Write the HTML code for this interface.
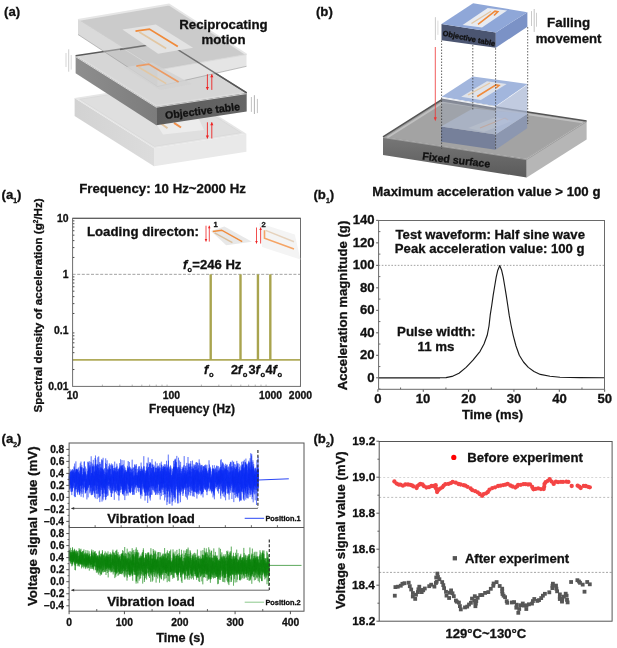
<!DOCTYPE html>
<html><head><meta charset="utf-8"><style>
html,body{margin:0;padding:0;background:#fff;}
svg{will-change:transform;display:block;font-family:"Liberation Sans", sans-serif;font-weight:bold;}
text{stroke:#111;stroke-width:0.3px;}
</style></head><body>
<svg width="617" height="648" viewBox="0 0 617 648">
<rect width="617" height="648" fill="#fff"/>
<text x="4.05" y="15.60" font-size="13.20" fill="#111" >(a)</text>
<text x="315.95" y="15.60" font-size="13.20" fill="#111" >(b)</text>
<text x="1.55" y="199.40" font-size="13.20" fill="#111" >(a<tspan font-size="6.86" dy="3.2">1</tspan><tspan dy="-3.2">)</tspan></text>
<text x="313.45" y="199.40" font-size="13.20" fill="#111" >(b<tspan font-size="6.86" dy="3.2">1</tspan><tspan dy="-3.2">)</tspan></text>
<text x="1.55" y="443.40" font-size="13.20" fill="#111" >(a<tspan font-size="6.86" dy="3.2">2</tspan><tspan dy="-3.2">)</tspan></text>
<text x="313.45" y="443.40" font-size="13.20" fill="#111" >(b<tspan font-size="6.86" dy="3.2">2</tspan><tspan dy="-3.2">)</tspan></text>
<text x="79.23" y="192.80" font-size="13.24" fill="#111" >Frequency: 10 Hz~2000 Hz</text>
<text x="372.33" y="196.40" font-size="13.22" fill="#111" >Maximum acceleration value &gt; 100 g</text>
<defs><linearGradient id="gMidL" x1="0" y1="0" x2="1" y2="0"><stop offset="0" stop-color="#8e8e8e"/><stop offset="1" stop-color="#7c7c7c"/></linearGradient><linearGradient id="gMidR" x1="0" y1="0" x2="1" y2="0"><stop offset="0" stop-color="#5c5c5c"/><stop offset="1" stop-color="#666"/></linearGradient><linearGradient id="gBotL" x1="0" y1="0" x2="1" y2="0"><stop offset="0" stop-color="#d2d2d2"/><stop offset="1" stop-color="#dcdcdc"/></linearGradient><linearGradient id="gPlF" x1="0" y1="0" x2="0" y2="1"><stop offset="0" stop-color="#777"/><stop offset="1" stop-color="#5a5a5a"/></linearGradient><linearGradient id="gPlT" x1="0" y1="0" x2="1" y2="1"><stop offset="0" stop-color="#9a9a9a"/><stop offset="1" stop-color="#a8a8a8"/></linearGradient></defs>
<polygon points="74.6,98.1 154.0,148.3 154.0,166.3 74.6,116.1" fill="url(#gBotL)" />
<polygon points="154.0,148.3 246.4,133.8 246.4,151.8 154.0,166.3" fill="#e9e9e9" />
<polygon points="74.6,98.1 167.0,83.6 246.4,133.8 154.0,148.3" fill="#e6e6e6" />
<polygon points="78.9,99.0 166.7,85.2 242.1,132.9 154.3,146.7" fill="#d9d9d9" />
<polygon points="81.0,99.4 166.5,86.0 240.0,132.5 154.5,145.9" fill="#dfdfdf" />
<polygon points="155.0,122.0 198.0,117.0 204.0,130.0 163.0,134.5" fill="#ececec" />
<line x1="161.00" y1="123.50" x2="167.50" y2="128.30" stroke="#e0c4a0" stroke-width="2.0" />
<line x1="174.00" y1="122.80" x2="181.00" y2="127.50" stroke="#f0904c" stroke-width="2.0" />
<polygon points="75.6,55.8 156.3,106.4 156.3,125.2 75.6,73.3" fill="url(#gMidL)" />
<polygon points="156.3,106.4 246.7,92.8 246.7,111.6 156.3,125.2" fill="url(#gMidR)" />
<polygon points="75.6,55.8 166.0,42.2 246.7,92.8 156.3,106.4" fill="#dcdcdc" />
<polygon points="79.0,56.5 165.8,43.5 243.3,92.1 156.5,105.1" fill="#d6d6d6" />
<polyline points="75.6,55.8 166.0,42.2 246.7,92.8" fill="none" stroke="#5a5a5a" stroke-width="1.5" />
<polyline points="75.6,56.6 156.3,107.2 246.7,93.6" fill="none" stroke="#efefef" stroke-width="0.8" />
<text x="0" y="0" font-size="10.6" fill="#111" transform="translate(165.5,119.0) rotate(-6.9)">Objective table</text>
<polygon points="78.0,20.0 157.5,70.0 157.5,86.5 78.0,34.5" fill="#bcbcbc" opacity="0.55"/>
<polygon points="157.5,70.0 246.5,54.6 246.5,66.3 157.5,86.5" fill="#e3e3e3" opacity="0.92"/>
<polygon points="78.0,20.0 169.0,4.5 246.5,54.6 157.5,70.0" fill="#c3c3c3" opacity="0.82"/>
<polygon points="81.0,20.6 168.8,5.6 243.6,54.0 157.7,68.9" fill="#c9c9c9" opacity="0.6"/>
<polyline points="78.0,20.0 169.0,4.5 246.5,54.6" fill="none" stroke="#e6e6e6" stroke-width="1.8" />
<polyline points="78.0,34.5 157.5,86.5 246.5,66.3" fill="none" stroke="#9c9c9c" stroke-width="0.8" opacity="0.8"/>
<polyline points="78.0,20.0 157.5,70.0 246.5,54.6" fill="none" stroke="#d8d8d8" stroke-width="0.8" />
<polyline points="120.0,49.5 166.0,42.2 246.7,92.8" fill="none" stroke="#555" stroke-width="1.5" opacity="0.75"/>
<polygon points="124.0,67.5 152.0,62.5 192.0,84.0 160.0,90.0" fill="#d2d2d2" opacity="0.8"/>
<polyline points="136.3,66.2 148.7,64.1 178.6,82.1" fill="none" stroke="#f09050" stroke-width="1.7" opacity="0.85"/>
<line x1="138.40" y1="67.00" x2="166.20" y2="83.60" stroke="#e2c7a3" stroke-width="1.6" />
<polygon points="122.4,29.6 155.9,24.5 193.1,47.8 158.1,53.7" fill="#e3e3e3" />
<polyline points="135.5,31.2 149.4,29.1 177.8,46.4" fill="none" stroke="#f08a3a" stroke-width="1.8" />
<line x1="139.20" y1="32.00" x2="166.20" y2="48.50" stroke="#e2c7a3" stroke-width="1.7" />
<line x1="207.40" y1="74.30" x2="207.40" y2="89.90" stroke="#e22" stroke-width="0.9" />
<polygon points="205.8,86.9 209.0,86.9 207.4,89.9" fill="#e22" />
<line x1="211.80" y1="89.90" x2="211.80" y2="74.30" stroke="#e22" stroke-width="0.9" />
<polygon points="210.2,77.3 213.4,77.3 211.8,74.3" fill="#e22" />
<line x1="207.40" y1="122.30" x2="207.40" y2="138.50" stroke="#e22" stroke-width="0.9" />
<polygon points="205.8,135.5 209.0,135.5 207.4,138.5" fill="#e22" />
<line x1="211.80" y1="138.50" x2="211.80" y2="122.30" stroke="#e22" stroke-width="0.9" />
<polygon points="210.2,125.3 213.4,125.3 211.8,122.3" fill="#e22" />
<line x1="66.00" y1="53.00" x2="66.00" y2="67.00" stroke="#d0d0d0" stroke-width="0.9" />
<line x1="68.70" y1="49.30" x2="68.70" y2="71.70" stroke="#c8c8c8" stroke-width="0.9" />
<line x1="71.20" y1="55.00" x2="71.20" y2="69.60" stroke="#d4d4d4" stroke-width="0.9" />
<line x1="251.40" y1="97.00" x2="251.40" y2="111.90" stroke="#bbb" stroke-width="0.9" />
<line x1="254.40" y1="95.20" x2="254.40" y2="114.00" stroke="#aaa" stroke-width="0.9" />
<line x1="257.40" y1="98.90" x2="257.40" y2="113.10" stroke="#bbb" stroke-width="0.9" />
<text x="179.23" y="29.20" font-size="13.25" fill="#111" >Reciprocating</text>
<text x="201.40" y="44.30" font-size="13.25" fill="#111" >motion</text>
<polygon points="383.0,136.9 526.7,159.0 526.7,177.5 383.0,155.0" fill="url(#gPlF)" />
<polygon points="526.7,159.0 586.6,121.1 586.6,139.6 526.7,177.5" fill="#b6b6b6" />
<polygon points="383.0,136.9 443.1,98.8 586.6,121.1 526.7,159.0" fill="url(#gPlT)" />
<polygon points="386.1,136.7 444.4,99.7 583.5,121.3 525.4,158.1" fill="#a3a3a3" />
<polyline points="383.0,136.9 443.1,98.8 586.6,121.1" fill="none" stroke="#555" stroke-width="1.5" />
<polyline points="387.0,137.7 443.6,102.0 582.6,122.3" fill="none" stroke="#c0c0c0" stroke-width="1.8" />
<polyline points="383.0,137.5 526.7,159.6 586.6,121.7" fill="none" stroke="#a0a0a0" stroke-width="1.0" />
<text x="0" y="0" font-size="10.6" fill="#111" transform="translate(422.0,159.6) rotate(6.8)">Fixed surface</text>
<polygon points="441.0,126.5 495.6,134.6 495.6,149.7 441.0,141.7" fill="#76809a" />
<polygon points="495.6,134.6 527.2,114.0 527.2,128.3 495.6,149.7" fill="#8c97b0" />
<polygon points="441.0,126.5 472.8,108.5 527.2,114.0 495.6,134.6" fill="#b4bdd0" />
<polygon points="468.0,128.0 496.0,117.0 512.0,121.0 484.0,132.0" fill="#c9cfdb" />
<polyline points="480.0,128.0 505.0,118.0 508.0,120.0" fill="none" stroke="#e8a070" stroke-width="1.1" opacity="0.7"/>
<polygon points="441.6,98.0 495.6,106.8 495.6,134.6 441.0,126.5" fill="#9ca4b4" opacity="0.45"/>
<polygon points="495.6,106.8 527.7,84.5 527.2,114.0 495.6,134.6" fill="#a9b7d4" opacity="0.72"/>
<polygon points="441.6,98.2 495.6,107.2 495.6,110.5 441.6,101.6" fill="#7d8290" opacity="0.8"/>
<polygon points="441.6,96.7 472.8,76.4 527.7,83.9 495.6,106.2" fill="#a2b6dd" />
<line x1="441.60" y1="97.80" x2="495.60" y2="107.00" stroke="#eef0f4" stroke-width="1.3" />
<polygon points="461.2,96.7 487.0,81.2 506.7,83.9 480.8,99.9" fill="#dfe3ea" />
<polyline points="477.2,96.5 496.0,84.8 499.0,85.5 496.0,88.0" fill="none" stroke="#f08a3a" stroke-width="1.6" />
<line x1="468.00" y1="95.00" x2="490.00" y2="83.00" stroke="#e5c9a6" stroke-width="1.3" />
<polygon points="441.5,24.0 495.8,32.4 495.8,47.8 441.5,40.2" fill="#4b5571" />
<polygon points="495.8,32.4 527.4,12.2 527.4,26.7 495.8,47.8" fill="#7b92c6" />
<polygon points="441.5,24.0 473.1,3.2 527.4,12.2 495.8,32.4" fill="#8fa7d8" />
<polygon points="462.6,25.1 487.7,8.1 507.1,10.5 482.0,27.6" fill="#e8ebf1" />
<polyline points="478.0,24.3 495.0,11.2 497.8,11.8 494.0,15.5" fill="none" stroke="#f08a3a" stroke-width="1.6" />
<line x1="471.50" y1="23.50" x2="491.00" y2="11.30" stroke="#e2c6a2" stroke-width="1.3" />
<text x="0" y="0" font-size="7.5" fill="#111" transform="translate(442.3,35.6) rotate(11.5)">Objective table</text>
<line x1="441.60" y1="40.50" x2="441.60" y2="149.00" stroke="#333" stroke-width="0.75" stroke-dasharray="1.5,1.5"/>
<line x1="472.80" y1="45.00" x2="472.80" y2="110.00" stroke="#333" stroke-width="0.75" stroke-dasharray="1.5,1.5"/>
<line x1="495.60" y1="48.20" x2="495.60" y2="150.00" stroke="#333" stroke-width="0.75" stroke-dasharray="1.5,1.5"/>
<line x1="527.70" y1="27.00" x2="527.70" y2="124.00" stroke="#333" stroke-width="0.75" stroke-dasharray="1.5,1.5"/>
<line x1="435.30" y1="47.00" x2="435.30" y2="119.00" stroke="#e33" stroke-width="0.8" />
<polygon points="433.8,117.3 436.8,117.3 435.3,121.3" fill="#e33" />
<line x1="435.40" y1="17.20" x2="435.40" y2="40.00" stroke="#c4c4c4" stroke-width="0.9" />
<line x1="437.90" y1="20.60" x2="437.90" y2="34.90" stroke="#d8d8d8" stroke-width="0.9" />
<line x1="531.50" y1="11.10" x2="531.50" y2="26.00" stroke="#c4c4c4" stroke-width="0.9" />
<line x1="534.20" y1="9.00" x2="534.20" y2="31.90" stroke="#bbb" stroke-width="0.9" />
<line x1="536.50" y1="12.80" x2="536.50" y2="26.70" stroke="#c8c8c8" stroke-width="0.9" />
<text x="547.12" y="26.70" font-size="13.34" fill="#111" >Falling</text>
<text x="535.64" y="42.50" font-size="13.18" fill="#111" >movement</text>
<line x1="72.60" y1="274.33" x2="300.50" y2="274.33" stroke="#8a8a8a" stroke-width="0.8" stroke-dasharray="3,1.6"/>
<line x1="72.60" y1="369.52" x2="74.40" y2="369.52" stroke="#333" stroke-width="0.9" />
<line x1="72.60" y1="359.66" x2="74.40" y2="359.66" stroke="#333" stroke-width="0.9" />
<line x1="72.60" y1="352.66" x2="74.40" y2="352.66" stroke="#333" stroke-width="0.9" />
<line x1="72.60" y1="347.23" x2="74.40" y2="347.23" stroke="#333" stroke-width="0.9" />
<line x1="72.60" y1="342.79" x2="74.40" y2="342.79" stroke="#333" stroke-width="0.9" />
<line x1="72.60" y1="339.04" x2="74.40" y2="339.04" stroke="#333" stroke-width="0.9" />
<line x1="72.60" y1="335.79" x2="74.40" y2="335.79" stroke="#333" stroke-width="0.9" />
<line x1="72.60" y1="332.92" x2="74.40" y2="332.92" stroke="#333" stroke-width="0.9" />
<line x1="72.60" y1="313.49" x2="74.40" y2="313.49" stroke="#333" stroke-width="0.9" />
<line x1="72.60" y1="303.63" x2="74.40" y2="303.63" stroke="#333" stroke-width="0.9" />
<line x1="72.60" y1="296.63" x2="74.40" y2="296.63" stroke="#333" stroke-width="0.9" />
<line x1="72.60" y1="291.20" x2="74.40" y2="291.20" stroke="#333" stroke-width="0.9" />
<line x1="72.60" y1="286.76" x2="74.40" y2="286.76" stroke="#333" stroke-width="0.9" />
<line x1="72.60" y1="283.01" x2="74.40" y2="283.01" stroke="#333" stroke-width="0.9" />
<line x1="72.60" y1="279.76" x2="74.40" y2="279.76" stroke="#333" stroke-width="0.9" />
<line x1="72.60" y1="276.89" x2="74.40" y2="276.89" stroke="#333" stroke-width="0.9" />
<line x1="72.60" y1="257.46" x2="74.40" y2="257.46" stroke="#333" stroke-width="0.9" />
<line x1="72.60" y1="247.60" x2="74.40" y2="247.60" stroke="#333" stroke-width="0.9" />
<line x1="72.60" y1="240.60" x2="74.40" y2="240.60" stroke="#333" stroke-width="0.9" />
<line x1="72.60" y1="235.17" x2="74.40" y2="235.17" stroke="#333" stroke-width="0.9" />
<line x1="72.60" y1="230.73" x2="74.40" y2="230.73" stroke="#333" stroke-width="0.9" />
<line x1="72.60" y1="226.98" x2="74.40" y2="226.98" stroke="#333" stroke-width="0.9" />
<line x1="72.60" y1="223.73" x2="74.40" y2="223.73" stroke="#333" stroke-width="0.9" />
<line x1="72.60" y1="220.86" x2="74.40" y2="220.86" stroke="#333" stroke-width="0.9" />
<line x1="102.40" y1="386.40" x2="102.40" y2="384.60" stroke="#999" stroke-width="0.7" />
<line x1="119.84" y1="386.40" x2="119.84" y2="384.60" stroke="#999" stroke-width="0.7" />
<line x1="132.20" y1="386.40" x2="132.20" y2="384.60" stroke="#999" stroke-width="0.7" />
<line x1="141.80" y1="386.40" x2="141.80" y2="384.60" stroke="#999" stroke-width="0.7" />
<line x1="149.64" y1="386.40" x2="149.64" y2="384.60" stroke="#999" stroke-width="0.7" />
<line x1="156.26" y1="386.40" x2="156.26" y2="384.60" stroke="#999" stroke-width="0.7" />
<line x1="162.01" y1="386.40" x2="162.01" y2="384.60" stroke="#999" stroke-width="0.7" />
<line x1="167.07" y1="386.40" x2="167.07" y2="384.60" stroke="#999" stroke-width="0.7" />
<line x1="201.40" y1="386.40" x2="201.40" y2="384.60" stroke="#999" stroke-width="0.7" />
<line x1="218.84" y1="386.40" x2="218.84" y2="384.60" stroke="#999" stroke-width="0.7" />
<line x1="231.20" y1="386.40" x2="231.20" y2="384.60" stroke="#999" stroke-width="0.7" />
<line x1="240.80" y1="386.40" x2="240.80" y2="384.60" stroke="#999" stroke-width="0.7" />
<line x1="248.64" y1="386.40" x2="248.64" y2="384.60" stroke="#999" stroke-width="0.7" />
<line x1="255.26" y1="386.40" x2="255.26" y2="384.60" stroke="#999" stroke-width="0.7" />
<line x1="261.01" y1="386.40" x2="261.01" y2="384.60" stroke="#999" stroke-width="0.7" />
<line x1="266.07" y1="386.40" x2="266.07" y2="384.60" stroke="#999" stroke-width="0.7" />
<line x1="300.40" y1="386.40" x2="300.40" y2="384.60" stroke="#999" stroke-width="0.7" />
<line x1="72.60" y1="359.90" x2="300.50" y2="359.90" stroke="#b0ab5a" stroke-width="1.9" />
<line x1="210.70" y1="274.33" x2="210.70" y2="359.90" stroke="#a9a44e" stroke-width="2.4" />
<line x1="240.50" y1="274.33" x2="240.50" y2="359.90" stroke="#a9a44e" stroke-width="2.4" />
<line x1="257.94" y1="274.33" x2="257.94" y2="359.90" stroke="#a9a44e" stroke-width="2.4" />
<line x1="270.31" y1="274.33" x2="270.31" y2="359.90" stroke="#a9a44e" stroke-width="2.4" />
<rect x="72.6" y="218.3" width="227.9" height="168.1" fill="none" stroke="#6e6e6e" stroke-width="1"/>
<line x1="72.60" y1="218.30" x2="300.50" y2="218.30" stroke="#555" stroke-width="1" />
<text x="57.05" y="221.90" font-size="10.40" fill="#111" >10</text>
<text x="62.70" y="277.93" font-size="10.40" fill="#111" >1</text>
<text x="54.02" y="333.96" font-size="10.40" fill="#111" >0.1</text>
<text x="48.24" y="389.99" font-size="10.40" fill="#111" >0.01</text>
<text x="66.70" y="399.40" font-size="10.40" fill="#111" >10</text>
<text x="162.81" y="399.40" font-size="10.40" fill="#111" >100</text>
<text x="258.92" y="399.40" font-size="10.40" fill="#111" >1000</text>
<text x="288.87" y="399.40" font-size="10.40" fill="#111" >2000</text>
<text x="149.11" y="413.00" font-size="11.90" fill="#111" >Frequency (Hz)</text>
<text x="0" y="0" font-size="11.64" fill="#111" transform="translate(42.20,412.53) rotate(-90)">Spectral density of acceleration (g<tspan font-size="6.5" dy="-4.2">2</tspan><tspan dy="4.2">/Hz)</tspan></text>
<text x="86.92" y="236.40" font-size="13.27" fill="#111" >Loading directon:</text>
<text x="183.10" y="268.80" font-size="13.10" fill="#111" font-style="italic" >f</text>
<text x="187.40" y="271.60" font-size="7.30" fill="#111" >o</text>
<text x="192.26" y="268.80" font-size="13.10" fill="#111" >=246 Hz</text>
<text x="204.00" y="373.90" font-size="12.80" fill="#111" font-style="italic" >f</text>
<text x="209.00" y="376.60" font-size="7.60" fill="#111" >o</text>
<text x="231.00" y="373.90" font-size="12.80" fill="#111" >2</text>
<text x="237.82" y="373.90" font-size="12.80" fill="#111" font-style="italic" >f</text>
<text x="242.82" y="376.60" font-size="7.60" fill="#111" >o</text>
<text x="248.60" y="373.90" font-size="12.80" fill="#111" >3</text>
<text x="255.42" y="373.90" font-size="12.80" fill="#111" font-style="italic" >f</text>
<text x="260.42" y="376.60" font-size="7.60" fill="#111" >o</text>
<text x="265.60" y="373.90" font-size="12.80" fill="#111" >4</text>
<text x="272.42" y="373.90" font-size="12.80" fill="#111" font-style="italic" >f</text>
<text x="277.42" y="376.60" font-size="7.60" fill="#111" >o</text>
<line x1="206.00" y1="225.70" x2="206.00" y2="241.60" stroke="#e22" stroke-width="0.8" />
<polygon points="204.7,239.0 207.3,239.0 206.0,241.6" fill="#e22" />
<line x1="209.30" y1="241.60" x2="209.30" y2="225.70" stroke="#e22" stroke-width="0.8" />
<polygon points="208.0,228.3 210.6,228.3 209.3,225.7" fill="#e22" />
<polygon points="211.0,231.0 224.4,226.6 252.0,241.7 226.2,245.3" fill="#e8e8e8" />
<polyline points="212.8,231.4 221.7,230.2 242.2,241.7" fill="none" stroke="#f08c3c" stroke-width="1.5" />
<line x1="214.60" y1="232.80" x2="232.40" y2="242.60" stroke="#dcc09c" stroke-width="1.4" />
<text x="213.40" y="227.20" font-size="7.60" fill="#111" >1</text>
<polygon points="259.0,223.0 294.8,234.6 300.5,259.6 262.0,247.0" fill="#f4f4f4" />
<line x1="256.50" y1="227.50" x2="256.50" y2="243.50" stroke="#e22" stroke-width="0.8" />
<polygon points="255.2,240.9 257.8,240.9 256.5,243.5" fill="#e22" />
<line x1="260.60" y1="243.50" x2="260.60" y2="227.50" stroke="#e22" stroke-width="0.8" />
<polygon points="259.3,230.1 261.9,230.1 260.6,227.5" fill="#e22" />
<polyline points="264.5,230.2 264.5,238.2 294.0,248.9" fill="none" stroke="#f5a465" stroke-width="1.6" />
<line x1="265.60" y1="230.40" x2="294.00" y2="241.70" stroke="#e6d2bc" stroke-width="1.5" />
<text x="261.60" y="227.20" font-size="7.60" fill="#111" >2</text>
<line x1="378.60" y1="265.35" x2="604.50" y2="265.35" stroke="#8a8a8a" stroke-width="0.8" stroke-dasharray="1.6,1.6"/>
<line x1="378.60" y1="389.05" x2="380.40" y2="389.05" stroke="#444" stroke-width="0.8" />
<line x1="376.10" y1="377.80" x2="378.60" y2="377.80" stroke="#444" stroke-width="0.9" />
<line x1="378.60" y1="366.56" x2="380.40" y2="366.56" stroke="#444" stroke-width="0.8" />
<line x1="376.10" y1="355.31" x2="378.60" y2="355.31" stroke="#444" stroke-width="0.9" />
<line x1="378.60" y1="344.06" x2="380.40" y2="344.06" stroke="#444" stroke-width="0.8" />
<line x1="376.10" y1="332.82" x2="378.60" y2="332.82" stroke="#444" stroke-width="0.9" />
<line x1="378.60" y1="321.57" x2="380.40" y2="321.57" stroke="#444" stroke-width="0.8" />
<line x1="376.10" y1="310.33" x2="378.60" y2="310.33" stroke="#444" stroke-width="0.9" />
<line x1="378.60" y1="299.09" x2="380.40" y2="299.09" stroke="#444" stroke-width="0.8" />
<line x1="376.10" y1="287.84" x2="378.60" y2="287.84" stroke="#444" stroke-width="0.9" />
<line x1="378.60" y1="276.60" x2="380.40" y2="276.60" stroke="#444" stroke-width="0.8" />
<line x1="376.10" y1="265.35" x2="378.60" y2="265.35" stroke="#444" stroke-width="0.9" />
<line x1="378.60" y1="254.11" x2="380.40" y2="254.11" stroke="#444" stroke-width="0.8" />
<line x1="376.10" y1="242.86" x2="378.60" y2="242.86" stroke="#444" stroke-width="0.9" />
<line x1="378.60" y1="231.62" x2="380.40" y2="231.62" stroke="#444" stroke-width="0.8" />
<line x1="376.10" y1="220.37" x2="378.60" y2="220.37" stroke="#444" stroke-width="0.9" />
<line x1="377.90" y1="389.30" x2="377.90" y2="391.80" stroke="#444" stroke-width="0.9" />
<line x1="400.57" y1="389.30" x2="400.57" y2="387.50" stroke="#444" stroke-width="0.8" />
<line x1="423.25" y1="389.30" x2="423.25" y2="391.80" stroke="#444" stroke-width="0.9" />
<line x1="445.92" y1="389.30" x2="445.92" y2="387.50" stroke="#444" stroke-width="0.8" />
<line x1="468.60" y1="389.30" x2="468.60" y2="391.80" stroke="#444" stroke-width="0.9" />
<line x1="491.27" y1="389.30" x2="491.27" y2="387.50" stroke="#444" stroke-width="0.8" />
<line x1="513.95" y1="389.30" x2="513.95" y2="391.80" stroke="#444" stroke-width="0.9" />
<line x1="536.62" y1="389.30" x2="536.62" y2="387.50" stroke="#444" stroke-width="0.8" />
<line x1="559.30" y1="389.30" x2="559.30" y2="391.80" stroke="#444" stroke-width="0.9" />
<line x1="581.98" y1="389.30" x2="581.98" y2="387.50" stroke="#444" stroke-width="0.8" />
<line x1="604.65" y1="389.30" x2="604.65" y2="391.80" stroke="#444" stroke-width="0.9" />
<path d="M378.6,377.8 L440.0,377.8 L446.0,377.6 L452.0,376.4 L459.0,373.2 L466.1,367.4 L473.0,360.2 L480.1,351.3 L484.0,344.0 L487.2,335.3 L489.0,326.0 L490.2,315.2 L491.8,305.0 L493.2,295.1 L494.8,285.5 L496.2,277.1 L497.8,270.2 L499.8,265.6 L501.6,270.2 L503.2,277.1 L504.7,286.0 L506.2,295.1 L507.7,305.0 L509.2,315.2 L511.0,325.0 L513.2,335.3 L516.0,346.0 L519.3,355.3 L523.5,362.0 L528.3,367.4 L534.0,371.5 L540.3,374.4 L550.0,376.3 L560.0,377.2 L580.0,377.6 L604.5,377.8" fill="none" stroke="#1a1a1a" stroke-width="1.15" stroke-linejoin="round"/>
<rect x="378.6" y="220.5" width="225.9" height="168.8" fill="none" stroke="#6a6a6a" stroke-width="1"/>
<text x="367.24" y="381.70" font-size="13.10" fill="#111" >0</text>
<text x="359.96" y="359.21" font-size="13.10" fill="#111" >20</text>
<text x="359.96" y="336.72" font-size="13.10" fill="#111" >40</text>
<text x="359.96" y="314.23" font-size="13.10" fill="#111" >60</text>
<text x="359.96" y="291.74" font-size="13.10" fill="#111" >80</text>
<text x="352.67" y="269.25" font-size="13.10" fill="#111" >100</text>
<text x="352.67" y="246.76" font-size="13.10" fill="#111" >120</text>
<text x="352.67" y="224.27" font-size="13.10" fill="#111" >140</text>
<text x="374.26" y="402.80" font-size="13.10" fill="#111" >0</text>
<text x="415.82" y="402.80" font-size="13.10" fill="#111" >10</text>
<text x="461.36" y="402.80" font-size="13.10" fill="#111" >20</text>
<text x="506.78" y="402.80" font-size="13.10" fill="#111" >30</text>
<text x="552.18" y="402.80" font-size="13.10" fill="#111" >40</text>
<text x="597.43" y="402.80" font-size="13.10" fill="#111" >50</text>
<text x="461.96" y="418.70" font-size="12.98" fill="#111" >Time (ms)</text>
<text x="0" y="0" font-size="13.17" fill="#111" transform="translate(347.40,390.32) rotate(-90)">Acceleration magnitude (g)</text>
<text x="395.56" y="238.90" font-size="13.14" fill="#111" >Test waveform: Half sine wave</text>
<text x="394.83" y="253.20" font-size="13.14" fill="#111" >Peak acceleration value: 100 g</text>
<text x="397.12" y="335.80" font-size="13.32" fill="#111" >Pulse width:</text>
<text x="417.58" y="351.40" font-size="13.26" fill="#111" >11 ms</text>
<path d="M69.1 480.9 69.1 476.4 69.2 480.7 69.2 481.2 69.2 484.8 69.3 480.6 69.3 472.9 69.4 476.9 69.4 473.4 69.4 477.9 69.5 477.1 69.5 478.3 69.5 489.1 69.6 474.4 69.6 476.4 69.6 476.5 69.7 489.3 69.7 489.7 69.8 484.6 69.8 482.2 69.8 477.6 69.9 479.7 69.9 476.3 69.9 483.2 70.0 477.6 70.0 477.1 70.0 483.3 70.1 469.2 70.1 476.1 70.2 472.3 70.2 483.1 70.2 483.8 70.3 481.5 70.3 480.0 70.3 475.6 70.4 477.9 70.4 482.1 70.4 485.2 70.5 482.5 70.5 472.0 70.6 484.3 70.6 477.9 70.6 476.8 70.7 488.4 70.7 479.1 70.7 471.5 70.8 491.6 70.8 481.4 70.8 480.0 70.9 484.4 70.9 476.4 71.0 479.8 71.0 488.3 71.0 474.3 71.1 475.3 71.1 473.6 71.1 470.6 71.2 477.2 71.2 478.7 71.2 487.4 71.3 475.6 71.3 483.2 71.4 482.2 71.4 487.2 71.4 485.4 71.5 482.7 71.5 471.4 71.5 492.0 71.6 488.4 71.6 477.9 71.6 470.4 71.7 475.8 71.7 491.2 71.8 495.1 71.8 477.2 71.8 484.0 71.9 486.4 71.9 473.3 71.9 472.5 72.0 478.4 72.0 477.9 72.0 476.7 72.1 469.4 72.1 475.5 72.2 476.1 72.2 476.0 72.2 489.3 72.3 471.3 72.3 473.4 72.3 476.1 72.4 491.8 72.4 483.4 72.4 474.1 72.5 490.8 72.5 480.6 72.6 473.0 72.6 487.7 72.6 469.2 72.7 475.9 72.7 480.4 72.7 477.3 72.8 475.3 72.8 478.6 72.8 472.1 72.9 483.6 72.9 482.0 73.0 472.8 73.0 479.2 73.0 485.0 73.1 473.4 73.1 470.0 73.1 482.2 73.2 488.2 73.2 480.3 73.2 480.4 73.3 481.3 73.3 470.4 73.4 486.0 73.4 471.3 73.4 487.5 73.5 484.4 73.5 475.3 73.5 472.2 73.6 473.9 73.6 477.2 73.6 478.5 73.7 478.4 73.7 475.7 73.8 480.5 73.8 477.6 73.8 475.7 73.9 479.4 73.9 474.5 73.9 475.7 74.0 466.4 74.0 477.3 74.1 482.2 74.1 481.8 74.1 479.5 74.2 473.4 74.2 481.6 74.2 476.9 74.3 467.5 74.3 496.0 74.3 486.7 74.4 477.8 74.4 476.8 74.5 477.9 74.5 482.2 74.5 475.1 74.6 477.6 74.6 482.8 74.6 463.6 74.7 477.1 74.7 483.0 74.7 480.0 74.8 480.9 74.8 479.8 74.9 497.2 74.9 482.6 74.9 472.8 75.0 487.0 75.0 479.8 75.0 473.2 75.1 473.8 75.1 469.7 75.1 490.5 75.2 481.7 75.2 481.6 75.3 475.3 75.3 472.3 75.3 497.0 75.4 472.3 75.4 488.9 75.4 474.9 75.5 489.2 75.5 478.2 75.5 471.6 75.6 480.4 75.6 478.1 75.7 474.2 75.7 478.5 75.7 480.0 75.8 469.3 75.8 472.5 75.8 481.3 75.9 461.4 75.9 486.9 75.9 473.4 76.0 481.1 76.0 478.5 76.1 474.8 76.1 477.9 76.1 475.2 76.2 489.4 76.2 489.3 76.2 475.4 76.3 485.7 76.3 486.2 76.3 489.1 76.4 471.1 76.4 474.5 76.5 469.7 76.5 485.6 76.5 479.4 76.6 486.9 76.6 474.4 76.6 468.9 76.7 485.3 76.7 469.1 76.7 472.9 76.8 480.6 76.8 492.4 76.9 470.1 76.9 480.0 76.9 483.4 77.0 476.8 77.0 476.7 77.0 469.5 77.1 486.1 77.1 471.9 77.1 469.6 77.2 469.8 77.2 480.6 77.3 484.3 77.3 472.7 77.3 478.6 77.4 478.6 77.4 470.0 77.4 481.1 77.5 494.6 77.5 482.0 77.5 491.7 77.6 474.0 77.6 477.3 77.7 483.4 77.7 479.5 77.7 473.9 77.8 478.9 77.8 470.6 77.8 479.8 77.9 472.5 77.9 469.5 77.9 468.7 78.0 483.8 78.0 473.6 78.1 491.8 78.1 486.6 78.1 492.4 78.2 472.3 78.2 487.6 78.2 479.5 78.3 480.7 78.3 479.6 78.3 483.3 78.4 477.9 78.4 467.5 78.5 479.1 78.5 475.9 78.5 472.8 78.6 480.7 78.6 487.7 78.6 483.1 78.7 472.3 78.7 490.3 78.7 483.4 78.8 472.7 78.8 474.1 78.9 479.3 78.9 474.1 78.9 478.3 79.0 487.2 79.0 489.8 79.0 483.6 79.1 473.3 79.1 483.2 79.1 485.4 79.2 484.5 79.2 489.6 79.3 480.2 79.3 487.2 79.3 477.0 79.4 495.1 79.4 477.2 79.4 483.7 79.5 492.3 79.5 474.6 79.5 481.2 79.6 494.2 79.6 485.2 79.7 477.5 79.7 482.4 79.7 474.2 79.8 474.4 79.8 475.0 79.8 477.2 79.9 470.5 79.9 475.0 79.9 476.4 80.0 493.3 80.0 473.4 80.1 470.7 80.1 481.4 80.1 482.5 80.2 466.5 80.2 491.1 80.2 476.3 80.3 463.3 80.3 485.6 80.3 474.8 80.4 466.8 80.4 480.2 80.5 475.7 80.5 473.4 80.5 485.4 80.6 480.0 80.6 477.4 80.6 473.9 80.7 479.6 80.7 480.7 80.7 486.2 80.8 481.8 80.8 473.4 80.9 478.7 80.9 485.1 80.9 485.0 81.0 461.6 81.0 471.8 81.0 475.1 81.1 496.7 81.1 475.2 81.1 476.2 81.2 468.1 81.2 476.5 81.3 479.9 81.3 475.9 81.3 492.4 81.4 472.5 81.4 477.2 81.4 484.1 81.5 470.5 81.5 467.3 81.5 488.8 81.6 483.9 81.6 477.4 81.7 478.2 81.7 482.1 81.7 485.9 81.8 465.2 81.8 472.4 81.8 487.4 81.9 488.4 81.9 467.9 81.9 472.7 82.0 467.1 82.0 473.9 82.1 485.3 82.1 477.6 82.1 494.0 82.2 484.4 82.2 479.8 82.2 475.9 82.3 484.3 82.3 480.2 82.3 476.3 82.4 476.9 82.4 475.1 82.5 478.0 82.5 481.6 82.5 474.1 82.6 479.1 82.6 485.0 82.6 483.6 82.7 479.4 82.7 480.1 82.7 478.3 82.8 479.4 82.8 478.2 82.9 480.3 82.9 487.9 82.9 476.5 83.0 472.2 83.0 476.4 83.0 480.7 83.1 476.4 83.1 486.0 83.1 492.3 83.2 479.0 83.2 485.7 83.3 474.4 83.3 486.8 83.3 497.4 83.4 486.5 83.4 468.6 83.4 482.0 83.5 488.8 83.5 484.6 83.5 475.8 83.6 476.0 83.6 478.2 83.7 469.2 83.7 474.6 83.7 479.5 83.8 475.3 83.8 468.0 83.8 472.7 83.9 472.4 83.9 486.9 84.0 480.4 84.0 474.4 84.0 481.4 84.1 472.0 84.1 475.3 84.1 473.1 84.2 480.9 84.2 461.8 84.2 470.8 84.3 480.9 84.3 478.8 84.4 461.4 84.4 481.8 84.4 473.3 84.5 472.6 84.5 479.4 84.5 487.5 84.6 478.1 84.6 476.9 84.6 471.5 84.7 473.9 84.7 479.2 84.8 473.4 84.8 475.6 84.8 478.0 84.9 479.0 84.9 481.1 84.9 474.6 85.0 486.8 85.0 483.8 85.0 479.4 85.1 489.7 85.1 482.5 85.2 493.6 85.2 484.2 85.2 475.4 85.3 475.4 85.3 479.8 85.3 481.0 85.4 489.4 85.4 466.5 85.4 475.7 85.5 471.6 85.5 485.7 85.6 480.7 85.6 492.3 85.6 473.8 85.7 472.7 85.7 492.9 85.7 479.8 85.8 474.9 85.8 492.0 85.8 492.5 85.9 487.0 85.9 483.9 86.0 489.5 86.0 479.2 86.0 477.6 86.1 474.8 86.1 474.4 86.1 468.6 86.2 471.0 86.2 488.9 86.2 483.0 86.3 487.1 86.3 487.2 86.4 480.0 86.4 479.4 86.4 475.8 86.5 490.9 86.5 488.4 86.5 479.6 86.6 480.9 86.6 481.7 86.6 479.9 86.7 484.9 86.7 474.3 86.8 476.8 86.8 480.0 86.8 484.3 86.9 480.7 86.9 499.4 86.9 486.6 87.0 479.1 87.0 490.5 87.0 477.9 87.1 478.3 87.1 489.6 87.2 481.3 87.2 481.7 87.2 476.0 87.3 474.9 87.3 479.7 87.3 485.7 87.4 480.5 87.4 479.9 87.4 473.9 87.5 477.2 87.5 484.8 87.6 489.5 87.6 482.2 87.6 484.9 87.7 487.7 87.7 480.3 87.7 483.1 87.8 478.6 87.8 475.5 87.8 482.5 87.9 461.9 87.9 481.8 88.0 471.1 88.0 478.5 88.0 471.0 88.1 497.4 88.1 485.1 88.1 477.5 88.2 474.8 88.2 461.6 88.2 476.9 88.3 469.6 88.3 473.6 88.4 472.2 88.4 475.5 88.4 480.6 88.5 475.5 88.5 487.7 88.5 470.3 88.6 487.2 88.6 477.5 88.6 463.1 88.7 481.1 88.7 479.2 88.8 470.4 88.8 479.2 88.8 485.7 88.9 477.4 88.9 474.9 88.9 473.9 89.0 485.4 89.0 465.8 89.0 466.4 89.1 479.3 89.1 477.3 89.2 482.8 89.2 468.3 89.2 484.9 89.3 474.1 89.3 483.2 89.3 484.9 89.4 473.7 89.4 468.9 89.4 479.5 89.5 484.7 89.5 473.0 89.6 479.8 89.6 476.9 89.6 467.3 89.7 470.4 89.7 483.5 89.7 461.2 89.8 479.4 89.8 473.1 89.8 484.6 89.9 479.8 89.9 493.4 90.0 465.1 90.0 468.5 90.0 489.1 90.1 491.5 90.1 492.4 90.1 469.9 90.2 483.1 90.2 479.9 90.2 481.9 90.3 480.4 90.3 488.2 90.4 479.2 90.4 491.1 90.4 480.0 90.5 476.9 90.5 475.6 90.5 481.3 90.6 486.8 90.6 478.1 90.6 483.4 90.7 466.6 90.7 473.1 90.8 480.3 90.8 483.3 90.8 485.2 90.9 487.1 90.9 482.3 90.9 477.0 91.0 475.2 91.0 474.7 91.0 462.1 91.1 485.2 91.1 479.3 91.2 456.3 91.2 494.9 91.2 483.7 91.3 478.0 91.3 478.1 91.3 476.0 91.4 481.4 91.4 476.3 91.4 479.0 91.5 473.0 91.5 495.2 91.6 486.8 91.6 479.4 91.6 488.1 91.7 488.2 91.7 474.1 91.7 484.9 91.8 474.1 91.8 473.1 91.8 476.8 91.9 475.1 91.9 480.3 92.0 491.3 92.0 479.7 92.0 475.5 92.1 483.9 92.1 480.2 92.1 473.0 92.2 486.9 92.2 473.9 92.2 463.5 92.3 484.1 92.3 478.1 92.4 480.7 92.4 466.2 92.4 476.7 92.5 471.7 92.5 485.3 92.5 479.5 92.6 479.5 92.6 494.7 92.6 467.0 92.7 471.6 92.7 494.5 92.8 473.0 92.8 480.5 92.8 475.5 92.9 476.2 92.9 492.4 92.9 481.2 93.0 466.4 93.0 484.4 93.0 488.3 93.1 491.2 93.1 490.0 93.2 476.5 93.2 464.6 93.2 475.7 93.3 477.3 93.3 459.9 93.3 483.9 93.4 485.3 93.4 474.8 93.4 474.6 93.5 488.3 93.5 489.7 93.6 476.8 93.6 477.2 93.6 490.9 93.7 481.2 93.7 484.2 93.7 475.3 93.8 480.4 93.8 480.2 93.9 482.5 93.9 470.1 93.9 467.1 94.0 482.7 94.0 471.9 94.0 486.1 94.1 478.8 94.1 472.7 94.1 465.9 94.2 482.8 94.2 480.1 94.3 477.7 94.3 492.8 94.3 479.3 94.4 485.4 94.4 476.1 94.4 489.5 94.5 497.1 94.5 479.1 94.5 477.1 94.6 484.3 94.6 471.4 94.7 481.9 94.7 484.8 94.7 475.1 94.8 493.5 94.8 485.5 94.8 479.6 94.9 471.8 94.9 480.9 94.9 476.6 95.0 485.3 95.0 476.7 95.1 464.4 95.1 485.6 95.1 458.0 95.2 485.2 95.2 479.2 95.2 477.8 95.3 470.1 95.3 490.6 95.3 498.4 95.4 473.9 95.4 472.2 95.5 473.7 95.5 455.5 95.5 477.5 95.6 477.1 95.6 470.9 95.6 476.0 95.7 464.3 95.7 490.7 95.7 482.8 95.8 472.0 95.8 482.8 95.9 471.0 95.9 459.7 95.9 479.5 96.0 481.7 96.0 484.0 96.0 487.1 96.1 485.2 96.1 473.6 96.1 479.1 96.2 478.8 96.2 481.0 96.3 471.0 96.3 474.9 96.3 480.7 96.4 473.3 96.4 480.8 96.4 490.0 96.5 466.0 96.5 475.1 96.5 488.2 96.6 469.5 96.6 476.2 96.7 493.8 96.7 464.6 96.7 476.3 96.8 471.2 96.8 477.6 96.8 480.8 96.9 493.6 96.9 470.5 96.9 479.1 97.0 482.0 97.0 476.2 97.1 478.7 97.1 473.2 97.1 482.8 97.2 479.7 97.2 499.1 97.2 483.3 97.3 473.2 97.3 467.1 97.3 482.8 97.4 480.5 97.4 464.8 97.5 482.4 97.5 472.6 97.5 463.9 97.6 479.0 97.6 468.1 97.6 486.0 97.7 477.5 97.7 480.1 97.7 478.3 97.8 469.0 97.8 457.3 97.9 485.5 97.9 484.7 97.9 474.8 98.0 489.1 98.0 474.8 98.0 474.1 98.1 482.0 98.1 474.5 98.1 493.7 98.2 472.4 98.2 493.7 98.3 485.8 98.3 484.5 98.3 483.1 98.4 471.5 98.4 478.6 98.4 483.1 98.5 474.4 98.5 464.8 98.5 479.3 98.6 476.0 98.6 468.0 98.7 476.9 98.7 491.3 98.7 456.4 98.8 459.0 98.8 497.7 98.8 479.8 98.9 475.5 98.9 470.5 98.9 473.2 99.0 481.9 99.0 489.1 99.1 478.5 99.1 469.9 99.1 489.4 99.2 488.9 99.2 479.6 99.2 497.2 99.3 481.8 99.3 483.4 99.3 475.2 99.4 485.9 99.4 487.5 99.5 483.0 99.5 479.9 99.5 485.5 99.6 479.3 99.6 472.5 99.6 468.5 99.7 463.8 99.7 486.6 99.7 483.2 99.8 502.1 99.8 462.0 99.9 486.0 99.9 479.7 99.9 474.6 100.0 491.8 100.0 475.2 100.0 479.6 100.1 496.0 100.1 476.7 100.1 468.5 100.2 496.4 100.2 472.1 100.3 477.5 100.3 475.1 100.3 475.4 100.4 467.6 100.4 481.4 100.4 471.5 100.5 483.1 100.5 472.8 100.5 486.7 100.6 480.4 100.6 463.8 100.7 475.4 100.7 480.8 100.7 489.7 100.8 486.5 100.8 477.7 100.8 471.0 100.9 475.6 100.9 474.7 100.9 479.8 101.0 467.3 101.0 482.9 101.1 484.3 101.1 471.5 101.1 478.8 101.2 481.9 101.2 484.5 101.2 481.7 101.3 473.9 101.3 476.3 101.3 490.1 101.4 475.6 101.4 477.8 101.5 488.2 101.5 472.6 101.5 481.9 101.6 482.4 101.6 472.4 101.6 467.8 101.7 485.5 101.7 475.5 101.7 487.1 101.8 459.1 101.8 483.7 101.9 468.9 101.9 485.1 101.9 472.3 102.0 460.0 102.0 501.6 102.0 483.2 102.1 475.0 102.1 480.2 102.1 485.2 102.2 460.7 102.2 478.7 102.3 493.7 102.3 472.0 102.3 494.3 102.4 469.4 102.4 484.4 102.4 478.2 102.5 468.5 102.5 478.4 102.5 491.4 102.6 494.0 102.6 469.2 102.7 473.0 102.7 486.4 102.7 472.0 102.8 475.2 102.8 473.9 102.8 498.7 102.9 482.0 102.9 471.7 102.9 473.2 103.0 471.9 103.0 500.3 103.1 478.0 103.1 475.2 103.1 457.8 103.2 487.5 103.2 482.2 103.2 479.1 103.3 471.9 103.3 483.1 103.3 469.7 103.4 486.0 103.4 477.2 103.5 483.8 103.5 478.1 103.5 485.2 103.6 492.8 103.6 470.3 103.6 476.9 103.7 484.1 103.7 477.7 103.8 471.1 103.8 487.5 103.8 480.3 103.9 474.9 103.9 475.0 103.9 482.2 104.0 496.9 104.0 469.1 104.0 476.7 104.1 479.3 104.1 481.7 104.2 477.2 104.2 482.9 104.2 487.8 104.3 485.5 104.3 484.3 104.3 484.4 104.4 488.9 104.4 474.2 104.4 490.1 104.5 474.0 104.5 487.7 104.6 476.5 104.6 468.2 104.6 477.7 104.7 485.3 104.7 479.0 104.7 478.2 104.8 493.5 104.8 484.3 104.8 478.1 104.9 483.2 104.9 478.8 105.0 473.5 105.0 473.2 105.0 472.1 105.1 474.7 105.1 481.7 105.1 479.5 105.2 481.6 105.2 481.9 105.2 480.8 105.3 493.2 105.3 482.1 105.4 479.6 105.4 487.2 105.4 479.6 105.5 475.3 105.5 480.7 105.5 462.9 105.6 500.1 105.6 481.0 105.6 493.9 105.7 471.6 105.7 458.4 105.8 499.2 105.8 478.4 105.8 475.3 105.9 481.8 105.9 475.1 105.9 497.0 106.0 472.7 106.0 476.5 106.0 479.2 106.1 484.0 106.1 474.4 106.2 483.2 106.2 477.7 106.2 483.4 106.3 496.9 106.3 479.6 106.3 477.8 106.4 473.5 106.4 486.2 106.4 479.7 106.5 474.6 106.5 478.3 106.6 469.8 106.6 464.0 106.6 486.4 106.7 494.2 106.7 472.8 106.7 467.6 106.8 472.3 106.8 473.1 106.8 484.2 106.9 484.9 106.9 472.6 107.0 486.4 107.0 493.3 107.0 487.0 107.1 460.3 107.1 464.7 107.1 484.7 107.2 485.0 107.2 477.6 107.2 485.1 107.3 469.4 107.3 480.0 107.4 487.7 107.4 469.4 107.4 483.8 107.5 477.7 107.5 479.5 107.5 481.8 107.6 476.9 107.6 484.6 107.6 493.4 107.7 496.1 107.7 489.0 107.8 485.1 107.8 479.6 107.8 479.0 107.9 475.2 107.9 478.5 107.9 485.4 108.0 484.7 108.0 495.3 108.0 480.7 108.1 475.8 108.1 475.4 108.2 480.3 108.2 480.7 108.2 472.4 108.3 479.3 108.3 473.9 108.3 475.0 108.4 477.8 108.4 469.6 108.4 483.7 108.5 482.1 108.5 485.4 108.6 485.3 108.6 467.8 108.6 466.3 108.7 479.2 108.7 475.2 108.7 470.7 108.8 473.4 108.8 470.4 108.8 488.8 108.9 484.1 108.9 476.0 109.0 468.8 109.0 478.6 109.0 485.8 109.1 482.0 109.1 484.3 109.1 485.7 109.2 468.3 109.2 484.0 109.2 479.2 109.3 463.4 109.3 470.7 109.4 476.9 109.4 483.9 109.4 476.4 109.5 467.5 109.5 474.8 109.5 470.1 109.6 478.7 109.6 475.6 109.6 480.9 109.7 476.3 109.7 469.8 109.8 489.9 109.8 479.9 109.8 477.6 109.9 483.6 109.9 481.7 109.9 473.6 110.0 464.7 110.0 474.8 110.0 477.0 110.1 490.8 110.1 465.3 110.2 478.8 110.2 479.6 110.2 487.6 110.3 479.8 110.3 487.4 110.3 478.9 110.4 476.0 110.4 479.2 110.4 477.4 110.5 485.6 110.5 468.9 110.6 484.2 110.6 492.7 110.6 480.8 110.7 485.0 110.7 486.8 110.7 482.0 110.8 477.3 110.8 488.0 110.8 480.4 110.9 469.0 110.9 474.4 111.0 480.5 111.0 478.5 111.0 480.3 111.1 479.7 111.1 474.1 111.1 480.1 111.2 496.9 111.2 479.6 111.2 485.9 111.3 474.6 111.3 483.9 111.4 478.3 111.4 463.5 111.4 487.0 111.5 487.6 111.5 489.7 111.5 496.9 111.6 493.1 111.6 476.7 111.6 484.1 111.7 493.0 111.7 490.2 111.8 474.9 111.8 485.1 111.8 482.1 111.9 477.0 111.9 469.5 111.9 465.2 112.0 471.9 112.0 478.4 112.0 478.1 112.1 466.2 112.1 469.0 112.2 481.7 112.2 476.1 112.2 477.3 112.3 479.0 112.3 483.1 112.3 489.1 112.4 483.3 112.4 490.7 112.4 470.5 112.5 475.5 112.5 488.2 112.6 469.2 112.6 472.9 112.6 493.4 112.7 465.9 112.7 473.5 112.7 464.3 112.8 488.4 112.8 475.5 112.8 476.3 112.9 477.9 112.9 478.1 113.0 471.7 113.0 490.4 113.0 488.5 113.1 489.6 113.1 483.5 113.1 483.8 113.2 476.7 113.2 477.4 113.2 479.2 113.3 484.4 113.3 482.6 113.4 472.4 113.4 473.8 113.4 478.7 113.5 481.8 113.5 468.0 113.5 483.8 113.6 474.6 113.6 470.9 113.7 481.4 113.7 473.3 113.7 487.6 113.8 471.9 113.8 477.9 113.8 491.1 113.9 474.5 113.9 486.0 113.9 469.9 114.0 484.4 114.0 480.6 114.1 477.3 114.1 481.9 114.1 477.5 114.2 483.5 114.2 474.4 114.2 479.4 114.3 477.8 114.3 499.8 114.3 470.8 114.4 479.2 114.4 492.6 114.5 478.7 114.5 475.9 114.5 471.4 114.6 487.5 114.6 467.9 114.6 480.6 114.7 461.6 114.7 480.5 114.7 474.3 114.8 482.1 114.8 487.7 114.9 471.2 114.9 472.6 114.9 467.9 115.0 473.0 115.0 483.7 115.0 491.8 115.1 484.3 115.1 484.5 115.1 485.5 115.2 475.0 115.2 476.9 115.3 481.4 115.3 478.1 115.3 480.5 115.4 477.8 115.4 473.7 115.4 472.2 115.5 484.6 115.5 490.7 115.5 468.7 115.6 478.5 115.6 471.1 115.7 491.8 115.7 481.9 115.7 479.2 115.8 490.3 115.8 483.3 115.8 473.9 115.9 471.2 115.9 467.3 115.9 485.9 116.0 490.0 116.0 475.5 116.1 472.3 116.1 477.9 116.1 489.3 116.2 473.5 116.2 473.4 116.2 475.2 116.3 483.1 116.3 477.1 116.3 473.4 116.4 483.6 116.4 493.4 116.5 476.9 116.5 475.7 116.5 479.3 116.6 472.6 116.6 483.9 116.6 480.0 116.7 481.7 116.7 475.0 116.7 467.2 116.8 481.3 116.8 463.7 116.9 467.7 116.9 473.3 116.9 474.9 117.0 465.8 117.0 480.8 117.0 480.3 117.1 487.5 117.1 475.8 117.1 469.1 117.2 475.3 117.2 476.1 117.3 480.9 117.3 478.1 117.3 490.4 117.4 471.3 117.4 482.6 117.4 487.9 117.5 485.2 117.5 485.8 117.5 472.8 117.6 471.2 117.6 489.9 117.7 472.2 117.7 472.5 117.7 483.9 117.8 490.9 117.8 485.2 117.8 484.3 117.9 476.7 117.9 482.2 117.9 495.1 118.0 477.6 118.0 491.3 118.1 472.4 118.1 488.8 118.1 484.8 118.2 486.0 118.2 483.6 118.2 469.3 118.3 472.8 118.3 474.7 118.3 476.9 118.4 491.4 118.4 483.5 118.5 483.7 118.5 487.0 118.5 475.4 118.6 485.2 118.6 484.9 118.6 487.5 118.7 495.4 118.7 474.8 118.7 469.0 118.8 478.0 118.8 487.0 118.9 500.5 118.9 478.0 118.9 469.9 119.0 477.1 119.0 472.2 119.0 467.8 119.1 470.6 119.1 482.9 119.1 471.2 119.2 473.3 119.2 491.4 119.3 482.6 119.3 490.6 119.3 480.3 119.4 474.9 119.4 487.8 119.4 495.5 119.5 469.2 119.5 476.4 119.5 467.9 119.6 489.8 119.6 471.1 119.7 463.1 119.7 463.6 119.7 481.0 119.8 477.3 119.8 480.6 119.8 471.6 119.9 471.2 119.9 478.7 119.9 490.1 120.0 473.6 120.0 483.1 120.1 474.5 120.1 477.3 120.1 466.6 120.2 470.4 120.2 482.9 120.2 476.7 120.3 465.5 120.3 483.6 120.3 476.0 120.4 470.0 120.4 469.5 120.5 475.3 120.5 489.8 120.5 489.3 120.6 477.5 120.6 476.3 120.6 459.3 120.7 486.2 120.7 470.4 120.7 473.3 120.8 492.6 120.8 485.8 120.9 478.1 120.9 483.3 120.9 480.6 121.0 475.7 121.0 485.8 121.0 475.7 121.1 484.4 121.1 483.7 121.1 475.2 121.2 483.9 121.2 477.1 121.3 466.8 121.3 479.2 121.3 480.6 121.4 473.6 121.4 482.3 121.4 470.9 121.5 489.5 121.5 474.5 121.5 483.4 121.6 485.7 121.6 465.5 121.7 486.1 121.7 465.6 121.7 474.2 121.8 468.0 121.8 487.1 121.8 470.0 121.9 467.9 121.9 480.3 121.9 480.4 122.0 460.1 122.0 478.0 122.1 482.7 122.1 484.4 122.1 475.9 122.2 476.8 122.2 478.0 122.2 465.9 122.3 482.0 122.3 475.7 122.3 467.9 122.4 487.3 122.4 471.3 122.5 465.0 122.5 490.0 122.5 488.0 122.6 487.5 122.6 493.9 122.6 475.9 122.7 493.9 122.7 475.5 122.7 468.0 122.8 492.0 122.8 481.9 122.9 494.4 122.9 473.3 122.9 485.2 123.0 481.5 123.0 479.0 123.0 475.1 123.1 482.1 123.1 479.3 123.1 483.7 123.2 478.5 123.2 488.5 123.3 478.9 123.3 494.5 123.3 483.2 123.4 464.5 123.4 478.8 123.4 489.2 123.5 477.4 123.5 487.0 123.6 492.2 123.6 485.1 123.6 473.7 123.7 476.4 123.7 480.2 123.7 486.6 123.8 487.8 123.8 468.9 123.8 477.5 123.9 486.8 123.9 495.7 124.0 490.0 124.0 460.3 124.0 488.3 124.1 480.0 124.1 477.8 124.1 480.6 124.2 481.5 124.2 490.0 124.2 487.5 124.3 466.4 124.3 485.2 124.4 472.9 124.4 492.4 124.4 481.5 124.5 477.4 124.5 471.4 124.5 488.0 124.6 474.8 124.6 476.4 124.6 485.0 124.7 475.7 124.7 486.3 124.8 485.5 124.8 479.5 124.8 500.1 124.9 480.2 124.9 487.0 124.9 490.6 125.0 482.6 125.0 473.6 125.0 482.5 125.1 469.8 125.1 488.2 125.2 489.4 125.2 467.6 125.2 476.4 125.3 472.2 125.3 485.7 125.3 473.3 125.4 477.4 125.4 474.5 125.4 479.2 125.5 470.3 125.5 484.3 125.6 486.7 125.6 490.5 125.6 470.7 125.7 485.0 125.7 487.2 125.7 486.5 125.8 482.7 125.8 488.9 125.8 481.6 125.9 484.1 125.9 483.5 126.0 486.6 126.0 479.1 126.0 482.8 126.1 478.5 126.1 477.5 126.1 476.9 126.2 495.7 126.2 483.4 126.2 485.3 126.3 473.6 126.3 491.1 126.4 484.7 126.4 481.6 126.4 481.9 126.5 472.1 126.5 482.7 126.5 472.3 126.6 490.2 126.6 492.8 126.6 470.4 126.7 476.2 126.7 475.8 126.8 478.5 126.8 475.8 126.8 488.3 126.9 472.4 126.9 483.3 126.9 472.2 127.0 478.8 127.0 493.8 127.0 488.8 127.1 471.2 127.1 480.4 127.2 482.3 127.2 477.6 127.2 482.5 127.3 483.4 127.3 478.7 127.3 478.4 127.4 468.4 127.4 479.1 127.4 465.8 127.5 466.3 127.5 467.0 127.6 471.7 127.6 478.5 127.6 478.4 127.7 480.4 127.7 484.7 127.7 479.9 127.8 484.0 127.8 467.6 127.8 475.6 127.9 482.6 127.9 493.1 128.0 479.8 128.0 482.4 128.0 487.2 128.1 487.5 128.1 495.5 128.1 475.3 128.2 479.9 128.2 461.0 128.2 479.6 128.3 480.5 128.3 469.1 128.4 478.4 128.4 478.2 128.4 482.0 128.5 483.7 128.5 468.8 128.5 472.3 128.6 467.3 128.6 481.9 128.6 479.2 128.7 485.6 128.7 472.6 128.8 489.2 128.8 475.4 128.8 471.7 128.9 469.5 128.9 486.0 128.9 471.8 129.0 484.4 129.0 484.7 129.0 488.6 129.1 471.3 129.1 467.9 129.2 483.5 129.2 484.7 129.2 481.8 129.3 462.0 129.3 472.4 129.3 483.2 129.4 491.8 129.4 484.1 129.4 471.2 129.5 466.5 129.5 481.2 129.6 484.2 129.6 482.9 129.6 492.4 129.7 473.1 129.7 486.9 129.7 472.1 129.8 491.1 129.8 488.1 129.8 477.4 129.9 484.6 129.9 474.0 130.0 479.3 130.0 487.4 130.0 475.1 130.1 473.6 130.1 492.5 130.1 466.9 130.2 476.0 130.2 474.2 130.2 492.1 130.3 484.3 130.3 481.8 130.4 472.1 130.4 489.3 130.4 485.4 130.5 493.2 130.5 481.0 130.5 477.1 130.6 490.8 130.6 483.4 130.6 476.0 130.7 468.7 130.7 474.9 130.8 481.4 130.8 487.3 130.8 485.7 130.9 483.9 130.9 478.4 130.9 479.7 131.0 468.2 131.0 477.5 131.0 486.6 131.1 469.0 131.1 473.0 131.2 478.7 131.2 484.2 131.2 491.9 131.3 486.2 131.3 473.3 131.3 484.8 131.4 488.2 131.4 478.1 131.4 477.8 131.5 475.4 131.5 475.0 131.6 470.0 131.6 485.0 131.6 472.9 131.7 486.0 131.7 474.8 131.7 478.2 131.8 477.8 131.8 473.0 131.8 479.5 131.9 472.0 131.9 473.6 132.0 478.5 132.0 483.1 132.0 484.4 132.1 482.9 132.1 480.7 132.1 479.6 132.2 459.7 132.2 475.2 132.2 474.3 132.3 485.1 132.3 484.1 132.4 481.5 132.4 478.1 132.4 486.2 132.5 468.8 132.5 483.1 132.5 472.3 132.6 494.7 132.6 479.4 132.6 477.6 132.7 478.1 132.7 475.5 132.8 477.6 132.8 478.3 132.8 491.8 132.9 484.1 132.9 494.7 132.9 475.3 133.0 477.4 133.0 480.7 133.0 484.8 133.1 483.2 133.1 467.3 133.2 468.1 133.2 479.8 133.2 471.0 133.3 489.8 133.3 492.0 133.3 482.6 133.4 485.1 133.4 483.1 133.5 478.2 133.5 483.7 133.5 479.1 133.6 477.6 133.6 479.6 133.6 473.3 133.7 467.8 133.7 487.5 133.7 478.3 133.8 481.1 133.8 477.1 133.9 489.4 133.9 490.9 133.9 494.5 134.0 476.0 134.0 478.1 134.0 478.9 134.1 494.8 134.1 481.8 134.1 484.3 134.2 488.6 134.2 485.4 134.3 474.9 134.3 475.9 134.3 479.5 134.4 476.0 134.4 483.3 134.4 478.9 134.5 479.1 134.5 475.8 134.5 479.9 134.6 480.3 134.6 480.3 134.7 483.6 134.7 464.8 134.7 476.0 134.8 476.6 134.8 464.4 134.8 470.2 134.9 489.6 134.9 474.9 134.9 473.9 135.0 467.1 135.0 470.8 135.1 474.4 135.1 487.1 135.1 485.1 135.2 477.6 135.2 476.1 135.2 486.1 135.3 481.9 135.3 482.0 135.3 479.0 135.4 477.2 135.4 481.3 135.5 487.5 135.5 471.2 135.5 468.9 135.6 480.1 135.6 472.7 135.6 476.5 135.7 475.1 135.7 476.2 135.7 484.4 135.8 475.6 135.8 472.7 135.9 485.3 135.9 466.4 135.9 465.6 136.0 467.4 136.0 466.3 136.0 474.5 136.1 481.6 136.1 483.4 136.1 484.8 136.2 478.6 136.2 479.6 136.3 475.0 136.3 492.8 136.3 464.1 136.4 464.3 136.4 479.6 136.4 474.9 136.5 476.2 136.5 477.6 136.5 480.8 136.6 480.2 136.6 484.9 136.7 478.2 136.7 479.6 136.7 477.3 136.8 485.1 136.8 479.1 136.8 479.1 136.9 475.4 136.9 486.5 136.9 476.6 137.0 472.8 137.0 475.4 137.1 481.9 137.1 482.7 137.1 481.0 137.2 474.5 137.2 469.0 137.2 480.5 137.3 483.7 137.3 476.9 137.3 478.0 137.4 485.5 137.4 484.4 137.5 480.1 137.5 474.9 137.5 487.5 137.6 486.3 137.6 476.0 137.6 487.7 137.7 478.7 137.7 477.0 137.7 480.2 137.8 486.3 137.8 479.8 137.9 481.7 137.9 477.1 137.9 485.1 138.0 471.9 138.0 490.9 138.0 480.6 138.1 479.3 138.1 472.8 138.1 483.6 138.2 475.6 138.2 483.3 138.3 474.3 138.3 467.4 138.3 482.2 138.4 476.3 138.4 485.8 138.4 472.7 138.5 471.0 138.5 479.2 138.5 487.3 138.6 476.6 138.6 471.4 138.7 471.8 138.7 473.7 138.7 492.2 138.8 484.1 138.8 469.5 138.8 488.0 138.9 471.5 138.9 466.2 138.9 474.1 139.0 471.5 139.0 481.7 139.1 488.0 139.1 480.1 139.1 480.8 139.2 479.7 139.2 474.5 139.2 480.4 139.3 478.0 139.3 476.4 139.3 479.4 139.4 466.3 139.4 476.3 139.5 478.8 139.5 480.9 139.5 483.9 139.6 469.8 139.6 478.3 139.6 487.1 139.7 483.4 139.7 480.4 139.7 482.6 139.8 471.6 139.8 487.7 139.9 475.9 139.9 478.4 139.9 487.9 140.0 479.1 140.0 480.1 140.0 475.8 140.1 482.7 140.1 477.2 140.1 491.5 140.2 487.3 140.2 473.7 140.3 471.8 140.3 479.5 140.3 483.8 140.4 471.5 140.4 494.7 140.4 485.2 140.5 474.5 140.5 474.6 140.5 487.0 140.6 493.3 140.6 468.7 140.7 478.3 140.7 486.0 140.7 479.0 140.8 472.7 140.8 498.6 140.8 471.2 140.9 473.9 140.9 494.8 140.9 473.7 141.0 492.6 141.0 470.9 141.1 476.4 141.1 462.6 141.1 484.0 141.2 479.4 141.2 471.6 141.2 484.2 141.3 484.7 141.3 482.2 141.3 479.9 141.4 487.5 141.4 475.8 141.5 475.3 141.5 478.9 141.5 466.6 141.6 481.9 141.6 469.5 141.6 483.5 141.7 473.7 141.7 494.1 141.7 477.9 141.8 480.7 141.8 483.2 141.9 484.1 141.9 482.1 141.9 484.9 142.0 496.2 142.0 484.0 142.0 483.6 142.1 483.4 142.1 487.5 142.1 480.4 142.2 473.4 142.2 481.3 142.3 483.2 142.3 468.9 142.3 471.8 142.4 472.3 142.4 470.4 142.4 481.9 142.5 480.4 142.5 470.7 142.5 483.7 142.6 480.3 142.6 476.5 142.7 476.5 142.7 481.6 142.7 471.7 142.8 480.8 142.8 473.7 142.8 471.0 142.9 474.2 142.9 473.6 142.9 488.5 143.0 489.7 143.0 484.3 143.1 475.7 143.1 467.6 143.1 489.1 143.2 477.0 143.2 486.2 143.2 485.2 143.3 481.6 143.3 473.9 143.4 477.7 143.4 470.0 143.4 487.2 143.5 472.3 143.5 472.0 143.5 478.8 143.6 475.6 143.6 483.9 143.6 488.1 143.7 482.6 143.7 484.6 143.8 456.2 143.8 483.3 143.8 466.1 143.9 477.8 143.9 476.9 143.9 473.4 144.0 485.7 144.0 472.0 144.0 476.4 144.1 491.7 144.1 474.5 144.2 474.9 144.2 475.7 144.2 466.5 144.3 482.8 144.3 475.2 144.3 473.3 144.4 486.7 144.4 469.6 144.4 491.2 144.5 490.0 144.5 475.1 144.6 488.3 144.6 480.4 144.6 492.9 144.7 478.8 144.7 488.7 144.7 476.6 144.8 492.0 144.8 475.7 144.8 481.6 144.9 478.9 144.9 480.0 145.0 478.3 145.0 490.3 145.0 500.6 145.1 479.1 145.1 487.1 145.1 483.2 145.2 475.9 145.2 495.9 145.2 485.7 145.3 484.5 145.3 488.2 145.4 476.7 145.4 480.6 145.4 486.2 145.5 487.6 145.5 472.7 145.5 484.9 145.6 474.5 145.6 475.6 145.6 495.2 145.7 488.5 145.7 479.4 145.8 476.5 145.8 472.9 145.8 472.7 145.9 470.7 145.9 482.5 145.9 481.2 146.0 472.9 146.0 483.0 146.0 470.5 146.1 492.8 146.1 473.9 146.2 480.9 146.2 496.0 146.2 471.1 146.3 476.8 146.3 479.2 146.3 488.5 146.4 483.3 146.4 466.6 146.4 486.4 146.5 486.7 146.5 489.6 146.6 480.5 146.6 482.7 146.6 487.1 146.7 486.5 146.7 470.5 146.7 491.7 146.8 462.8 146.8 484.0 146.8 488.7 146.9 472.7 146.9 474.6 147.0 488.3 147.0 473.0 147.0 495.1 147.1 487.3 147.1 469.8 147.1 481.6 147.2 490.5 147.2 475.0 147.2 471.6 147.3 479.6 147.3 494.8 147.4 482.4 147.4 475.8 147.4 472.8 147.5 463.5 147.5 481.6 147.5 483.5 147.6 479.7 147.6 469.1 147.6 487.5 147.7 468.2 147.7 503.0 147.8 472.6 147.8 485.2 147.8 475.5 147.9 473.5 147.9 489.6 147.9 480.1 148.0 477.3 148.0 474.3 148.0 487.4 148.1 487.9 148.1 496.0 148.2 457.5 148.2 481.1 148.2 481.3 148.3 492.3 148.3 471.4 148.3 484.0 148.4 467.0 148.4 472.1 148.4 479.2 148.5 473.1 148.5 489.0 148.6 482.2 148.6 484.4 148.6 490.4 148.7 479.3 148.7 480.7 148.7 467.0 148.8 485.2 148.8 487.3 148.8 483.4 148.9 475.8 148.9 475.9 149.0 479.2 149.0 483.5 149.0 475.1 149.1 476.3 149.1 495.3 149.1 481.7 149.2 491.3 149.2 489.6 149.2 478.1 149.3 478.9 149.3 478.4 149.4 487.0 149.4 481.1 149.4 487.3 149.5 476.1 149.5 473.4 149.5 464.2 149.6 468.5 149.6 486.4 149.6 483.4 149.7 487.5 149.7 476.8 149.8 462.3 149.8 473.3 149.8 498.4 149.9 490.3 149.9 490.6 149.9 474.9 150.0 479.4 150.0 476.8 150.0 464.0 150.1 486.5 150.1 486.7 150.2 462.4 150.2 476.4 150.2 486.1 150.3 496.9 150.3 492.6 150.3 500.5 150.4 478.8 150.4 479.0 150.4 470.8 150.5 480.6 150.5 485.4 150.6 485.8 150.6 463.0 150.6 494.6 150.7 477.9 150.7 479.2 150.7 474.1 150.8 482.9 150.8 475.1 150.8 472.4 150.9 480.7 150.9 483.3 151.0 481.0 151.0 487.7 151.0 481.2 151.1 482.0 151.1 477.6 151.1 467.9 151.2 468.2 151.2 483.2 151.2 474.2 151.3 476.9 151.3 472.9 151.4 479.2 151.4 477.1 151.4 483.4 151.5 486.1 151.5 471.9 151.5 468.3 151.6 473.7 151.6 475.7 151.6 477.1 151.7 483.3 151.7 494.7 151.8 473.7 151.8 477.7 151.8 484.1 151.9 487.7 151.9 468.5 151.9 494.8 152.0 464.3 152.0 473.9 152.0 459.1 152.1 485.5 152.1 479.6 152.2 483.7 152.2 478.1 152.2 481.2 152.3 485.8 152.3 470.2 152.3 486.1 152.4 483.7 152.4 474.7 152.4 484.0 152.5 483.1 152.5 476.4 152.6 482.5 152.6 490.0 152.6 480.3 152.7 481.3 152.7 464.9 152.7 488.7 152.8 471.2 152.8 486.1 152.8 482.4 152.9 482.2 152.9 477.1 153.0 472.1 153.0 464.6 153.0 484.8 153.1 468.1 153.1 471.0 153.1 472.5 153.2 485.8 153.2 471.8 153.3 480.3 153.3 476.4 153.3 481.7 153.4 473.8 153.4 470.0 153.4 469.9 153.5 481.1 153.5 471.0 153.5 467.2 153.6 487.3 153.6 467.0 153.7 490.6 153.7 474.8 153.7 474.4 153.8 466.9 153.8 477.1 153.8 483.4 153.9 486.1 153.9 489.9 153.9 473.0 154.0 481.4 154.0 485.4 154.1 474.9 154.1 485.8 154.1 483.1 154.2 483.2 154.2 465.6 154.2 467.2 154.3 480.7 154.3 492.5 154.3 477.1 154.4 478.8 154.4 476.5 154.5 474.7 154.5 482.1 154.5 471.7 154.6 472.4 154.6 477.6 154.6 482.8 154.7 483.4 154.7 473.6 154.7 488.5 154.8 480.7 154.8 485.6 154.9 491.0 154.9 474.4 154.9 479.6 155.0 479.1 155.0 472.1 155.0 491.8 155.1 480.0 155.1 477.0 155.1 472.5 155.2 488.4 155.2 473.5 155.3 477.6 155.3 468.2 155.3 470.0 155.4 474.9 155.4 461.6 155.4 479.4 155.5 482.9 155.5 482.2 155.5 487.2 155.6 479.6 155.6 494.9 155.7 480.1 155.7 475.9 155.7 471.2 155.8 482.3 155.8 468.0 155.8 484.8 155.9 480.5 155.9 494.8 155.9 485.7 156.0 485.9 156.0 467.4 156.1 475.1 156.1 488.3 156.1 475.1 156.2 475.5 156.2 481.3 156.2 479.2 156.3 481.8 156.3 483.7 156.3 493.6 156.4 480.1 156.4 469.1 156.5 468.0 156.5 481.6 156.5 485.4 156.6 481.1 156.6 472.2 156.6 476.6 156.7 484.1 156.7 476.5 156.7 481.0 156.8 475.3 156.8 482.6 156.9 491.1 156.9 478.9 156.9 473.3 157.0 488.2 157.0 480.3 157.0 472.4 157.1 482.4 157.1 484.6 157.1 463.3 157.2 472.8 157.2 471.2 157.3 486.9 157.3 466.5 157.3 492.5 157.4 483.5 157.4 473.5 157.4 468.9 157.5 486.8 157.5 484.7 157.5 477.8 157.6 494.7 157.6 474.3 157.7 475.0 157.7 482.9 157.7 475.2 157.8 473.3 157.8 477.0 157.8 475.3 157.9 467.5 157.9 483.2 157.9 478.1 158.0 483.5 158.0 471.3 158.1 482.6 158.1 475.7 158.1 478.3 158.2 478.9 158.2 465.9 158.2 480.1 158.3 468.3 158.3 472.9 158.3 469.0 158.4 480.7 158.4 472.1 158.5 473.5 158.5 484.2 158.5 477.3 158.6 480.4 158.6 479.7 158.6 469.2 158.7 485.0 158.7 492.6 158.7 493.0 158.8 482.9 158.8 484.4 158.9 479.3 158.9 475.0 158.9 465.6 159.0 477.0 159.0 475.8 159.0 485.1 159.1 474.9 159.1 468.8 159.1 468.9 159.2 494.7 159.2 472.4 159.3 467.0 159.3 472.9 159.3 491.1 159.4 481.8 159.4 474.8 159.4 476.2 159.5 485.7 159.5 486.4 159.5 471.8 159.6 489.8 159.6 468.2 159.7 479.2 159.7 477.0 159.7 489.8 159.8 484.1 159.8 474.0 159.8 490.9 159.9 463.2 159.9 490.4 159.9 489.0 160.0 479.1 160.0 475.6 160.1 473.7 160.1 482.3 160.1 481.0 160.2 481.2 160.2 483.9 160.2 499.6 160.3 471.9 160.3 477.4 160.3 478.2 160.4 484.3 160.4 477.4 160.5 479.5 160.5 480.0 160.5 470.7 160.6 492.9 160.6 477.4 160.6 487.8 160.7 481.9 160.7 467.6 160.7 487.9 160.8 480.2 160.8 484.0 160.9 471.9 160.9 487.1 160.9 492.6 161.0 475.4 161.0 482.2 161.0 481.9 161.1 470.9 161.1 486.4 161.1 482.3 161.2 478.2 161.2 476.1 161.3 483.5 161.3 471.2 161.3 461.7 161.4 482.6 161.4 464.6 161.4 496.1 161.5 468.3 161.5 482.1 161.5 478.3 161.6 482.1 161.6 484.4 161.7 489.5 161.7 482.5 161.7 469.1 161.8 470.4 161.8 482.2 161.8 483.6 161.9 485.0 161.9 488.9 161.9 465.1 162.0 474.1 162.0 478.5 162.1 483.3 162.1 487.5 162.1 468.9 162.2 473.2 162.2 487.0 162.2 471.5 162.3 488.2 162.3 474.3 162.3 487.1 162.4 482.7 162.4 475.4 162.5 475.9 162.5 471.3 162.5 486.1 162.6 466.8 162.6 468.6 162.6 479.5 162.7 475.7 162.7 485.6 162.7 480.6 162.8 490.0 162.8 478.7 162.9 477.8 162.9 468.6 162.9 471.8 163.0 472.8 163.0 482.3 163.0 481.2 163.1 482.2 163.1 477.6 163.2 495.0 163.2 473.2 163.2 492.1 163.3 483.6 163.3 479.2 163.3 483.6 163.4 465.9 163.4 480.2 163.4 466.6 163.5 469.9 163.5 483.4 163.6 476.1 163.6 468.8 163.6 482.1 163.7 478.7 163.7 484.0 163.7 478.9 163.8 482.3 163.8 478.7 163.8 471.2 163.9 468.0 163.9 478.3 164.0 477.7 164.0 472.4 164.0 481.8 164.1 488.1 164.1 470.3 164.1 487.1 164.2 471.7 164.2 487.3 164.2 464.3 164.3 488.0 164.3 472.4 164.4 467.0 164.4 487.3 164.4 467.1 164.5 486.2 164.5 494.0 164.5 473.4 164.6 473.6 164.6 481.1 164.6 500.4 164.7 479.9 164.7 481.9 164.8 482.6 164.8 481.8 164.8 494.3 164.9 484.1 164.9 464.4 164.9 466.5 165.0 482.4 165.0 485.4 165.0 476.1 165.1 470.5 165.1 473.3 165.2 489.2 165.2 478.0 165.2 478.2 165.3 467.3 165.3 469.3 165.3 475.0 165.4 469.2 165.4 482.7 165.4 466.4 165.5 483.0 165.5 476.1 165.6 471.6 165.6 487.1 165.6 485.3 165.7 494.3 165.7 478.0 165.7 479.9 165.8 482.2 165.8 475.2 165.8 497.4 165.9 479.6 165.9 478.7 166.0 481.7 166.0 472.6 166.0 464.4 166.1 483.2 166.1 487.4 166.1 484.6 166.2 478.6 166.2 474.4 166.2 486.8 166.3 470.8 166.3 488.2 166.4 472.3 166.4 475.7 166.4 475.4 166.5 460.8 166.5 481.7 166.5 480.8 166.6 475.3 166.6 471.9 166.6 491.0 166.7 477.0 166.7 485.8 166.8 473.9 166.8 467.5 166.8 479.0 166.9 480.3 166.9 477.8 166.9 505.1 167.0 472.7 167.0 474.5 167.0 478.0 167.1 482.8 167.1 485.8 167.2 481.0 167.2 468.8 167.2 480.3 167.3 467.6 167.3 501.9 167.3 483.4 167.4 477.0 167.4 479.5 167.4 494.0 167.5 485.2 167.5 468.4 167.6 490.7 167.6 488.1 167.6 489.1 167.7 484.3 167.7 473.7 167.7 474.2 167.8 497.3 167.8 466.5 167.8 484.6 167.9 484.6 167.9 464.7 168.0 480.1 168.0 490.4 168.0 485.1 168.1 485.8 168.1 488.4 168.1 482.4 168.2 471.6 168.2 476.3 168.2 491.7 168.3 454.6 168.3 488.2 168.4 478.4 168.4 479.1 168.4 472.6 168.5 482.3 168.5 475.3 168.5 460.6 168.6 478.5 168.6 489.1 168.6 476.5 168.7 486.6 168.7 482.7 168.8 477.7 168.8 476.4 168.8 482.0 168.9 471.8 168.9 481.1 168.9 491.1 169.0 471.5 169.0 482.7 169.0 468.5 169.1 485.3 169.1 474.2 169.2 476.6 169.2 503.7 169.2 492.9 169.3 489.5 169.3 466.7 169.3 496.5 169.4 471.1 169.4 469.5 169.4 474.9 169.5 473.3 169.5 483.9 169.6 479.5 169.6 477.4 169.6 475.6 169.7 473.0 169.7 481.3 169.7 485.8 169.8 484.5 169.8 475.7 169.8 494.5 169.9 490.8 169.9 483.1 170.0 484.4 170.0 481.9 170.0 503.7 170.1 482.5 170.1 481.7 170.1 472.3 170.2 497.5 170.2 482.2 170.2 475.1 170.3 474.9 170.3 468.5 170.4 469.8 170.4 489.0 170.4 473.6 170.5 482.5 170.5 486.8 170.5 465.4 170.6 485.2 170.6 487.2 170.6 483.1 170.7 487.2 170.7 470.2 170.8 475.9 170.8 466.5 170.8 475.6 170.9 485.1 170.9 469.8 170.9 485.4 171.0 483.7 171.0 480.9 171.0 479.0 171.1 468.4 171.1 485.0 171.2 476.2 171.2 479.7 171.2 491.0 171.3 489.5 171.3 481.4 171.3 475.7 171.4 476.4 171.4 475.0 171.4 479.0 171.5 483.5 171.5 475.5 171.6 488.7 171.6 491.8 171.6 482.5 171.7 492.6 171.7 484.2 171.7 486.3 171.8 484.5 171.8 479.8 171.8 486.8 171.9 483.3 171.9 495.2 172.0 478.1 172.0 487.6 172.0 475.7 172.1 505.6 172.1 486.8 172.1 477.1 172.2 502.0 172.2 482.7 172.2 478.5 172.3 478.4 172.3 493.3 172.4 477.3 172.4 478.0 172.4 488.4 172.5 472.5 172.5 479.9 172.5 479.2 172.6 483.6 172.6 474.3 172.6 478.5 172.7 468.9 172.7 475.2 172.8 485.1 172.8 481.5 172.8 470.9 172.9 482.8 172.9 475.9 172.9 474.6 173.0 481.1 173.0 501.0 173.1 478.2 173.1 477.4 173.1 478.1 173.2 486.4 173.2 468.2 173.2 480.6 173.3 485.2 173.3 486.1 173.3 476.1 173.4 489.5 173.4 488.7 173.5 460.9 173.5 467.3 173.5 469.6 173.6 466.8 173.6 473.9 173.6 495.0 173.7 468.3 173.7 467.9 173.7 474.9 173.8 497.5 173.8 467.9 173.9 466.8 173.9 484.0 173.9 478.2 174.0 472.2 174.0 480.2 174.0 469.2 174.1 478.6 174.1 473.0 174.1 478.6 174.2 493.1 174.2 488.6 174.3 476.8 174.3 467.3 174.3 468.9 174.4 463.6 174.4 474.3 174.4 484.9 174.5 479.2 174.5 497.1 174.5 481.1 174.6 471.0 174.6 499.3 174.7 477.6 174.7 471.8 174.7 467.2 174.8 487.9 174.8 485.4 174.8 496.6 174.9 488.8 174.9 474.5 174.9 460.4 175.0 489.9 175.0 466.7 175.1 475.5 175.1 483.9 175.1 459.3 175.2 502.5 175.2 480.0 175.2 477.4 175.3 459.9 175.3 462.9 175.3 458.7 175.4 478.2 175.4 470.4 175.5 466.9 175.5 474.7 175.5 476.1 175.6 481.1 175.6 483.1 175.6 490.6 175.7 461.6 175.7 483.5 175.7 498.3 175.8 477.0 175.8 479.7 175.9 477.8 175.9 462.9 175.9 480.4 176.0 481.8 176.0 486.2 176.0 479.6 176.1 483.4 176.1 477.5 176.1 475.8 176.2 487.1 176.2 462.0 176.3 471.6 176.3 472.0 176.3 472.9 176.4 472.0 176.4 473.3 176.4 466.7 176.5 470.3 176.5 467.3 176.5 483.9 176.6 479.4 176.6 485.9 176.7 470.8 176.7 471.9 176.7 483.6 176.8 474.2 176.8 455.9 176.8 468.3 176.9 489.4 176.9 480.2 176.9 473.7 177.0 479.7 177.0 476.0 177.1 468.9 177.1 476.5 177.1 489.2 177.2 473.0 177.2 480.3 177.2 478.4 177.3 484.4 177.3 491.7 177.3 490.4 177.4 482.5 177.4 488.9 177.5 503.4 177.5 469.3 177.5 489.7 177.6 485.8 177.6 474.7 177.6 500.6 177.7 467.6 177.7 486.2 177.7 473.6 177.8 483.6 177.8 476.7 177.9 478.5 177.9 479.4 177.9 495.4 178.0 492.3 178.0 479.8 178.0 467.1 178.1 484.2 178.1 474.8 178.1 478.0 178.2 475.2 178.2 470.8 178.3 492.4 178.3 477.0 178.3 480.9 178.4 482.1 178.4 486.8 178.4 486.2 178.5 488.3 178.5 488.9 178.5 457.7 178.6 464.7 178.6 479.3 178.7 473.0 178.7 487.8 178.7 503.3 178.8 495.1 178.8 478.2 178.8 467.1 178.9 479.8 178.9 488.0 178.9 481.5 179.0 487.9 179.0 491.3 179.1 481.4 179.1 482.8 179.1 486.3 179.2 486.9 179.2 487.3 179.2 477.4 179.3 467.6 179.3 481.2 179.3 460.5 179.4 493.1 179.4 477.1 179.5 489.2 179.5 480.8 179.5 478.5 179.6 474.7 179.6 469.9 179.6 484.1 179.7 489.8 179.7 481.0 179.7 476.9 179.8 485.3 179.8 471.9 179.9 465.3 179.9 491.3 179.9 476.4 180.0 470.9 180.0 495.4 180.0 477.7 180.1 481.3 180.1 491.2 180.1 468.5 180.2 477.6 180.2 483.4 180.3 475.7 180.3 474.1 180.3 473.0 180.4 474.6 180.4 476.0 180.4 489.1 180.5 482.9 180.5 478.3 180.5 502.2 180.6 461.9 180.6 482.5 180.7 488.0 180.7 494.3 180.7 477.4 180.8 479.1 180.8 484.2 180.8 482.8 180.9 486.6 180.9 485.5 180.9 480.2 181.0 484.6 181.0 473.9 181.1 480.6 181.1 478.3 181.1 476.1 181.2 469.1 181.2 474.5 181.2 477.6 181.3 480.7 181.3 485.9 181.3 482.2 181.4 473.9 181.4 477.6 181.5 482.5 181.5 490.1 181.5 491.7 181.6 476.8 181.6 471.2 181.6 476.4 181.7 490.4 181.7 481.1 181.7 477.6 181.8 486.7 181.8 476.6 181.9 481.0 181.9 486.0 181.9 489.3 182.0 473.0 182.0 476.6 182.0 486.4 182.1 487.4 182.1 472.4 182.1 474.7 182.2 481.8 182.2 466.8 182.3 481.7 182.3 487.7 182.3 470.8 182.4 480.9 182.4 476.7 182.4 479.1 182.5 487.3 182.5 488.7 182.5 480.9 182.6 468.4 182.6 487.2 182.7 468.8 182.7 477.7 182.7 488.1 182.8 477.3 182.8 475.0 182.8 486.4 182.9 496.0 182.9 476.6 183.0 488.0 183.0 476.0 183.0 494.2 183.1 480.5 183.1 485.7 183.1 490.9 183.2 481.3 183.2 478.1 183.2 483.7 183.3 488.5 183.3 477.8 183.4 492.9 183.4 475.3 183.4 475.6 183.5 466.5 183.5 472.6 183.5 476.7 183.6 477.4 183.6 479.2 183.6 489.5 183.7 468.2 183.7 475.4 183.8 481.6 183.8 488.1 183.8 468.1 183.9 475.3 183.9 488.4 183.9 474.3 184.0 465.0 184.0 479.6 184.0 476.4 184.1 482.6 184.1 484.2 184.2 471.3 184.2 456.1 184.2 478.5 184.3 480.3 184.3 473.4 184.3 481.7 184.4 473.9 184.4 473.1 184.4 487.1 184.5 487.5 184.5 480.0 184.6 473.1 184.6 477.3 184.6 470.1 184.7 489.7 184.7 475.7 184.7 484.1 184.8 478.6 184.8 477.0 184.8 486.7 184.9 481.1 184.9 488.1 185.0 477.4 185.0 485.8 185.0 483.1 185.1 477.8 185.1 484.3 185.1 470.8 185.2 484.2 185.2 473.1 185.2 477.3 185.3 487.1 185.3 481.0 185.4 485.6 185.4 482.1 185.4 481.4 185.5 465.9 185.5 482.5 185.5 467.7 185.6 476.1 185.6 489.1 185.6 496.6 185.7 474.4 185.7 494.2 185.8 474.1 185.8 471.8 185.8 476.5 185.9 481.0 185.9 481.3 185.9 477.5 186.0 481.6 186.0 483.4 186.0 482.1 186.1 470.8 186.1 484.0 186.2 476.6 186.2 487.9 186.2 484.7 186.3 489.5 186.3 480.9 186.3 474.4 186.4 477.1 186.4 483.0 186.4 474.9 186.5 482.0 186.5 476.7 186.6 477.4 186.6 475.4 186.6 497.6 186.7 489.0 186.7 473.7 186.7 480.2 186.8 462.9 186.8 481.1 186.8 483.5 186.9 468.4 186.9 475.3 187.0 465.5 187.0 475.7 187.0 480.9 187.1 474.1 187.1 485.2 187.1 482.7 187.2 483.5 187.2 481.0 187.2 473.7 187.3 482.9 187.3 477.0 187.4 483.1 187.4 472.9 187.4 499.6 187.5 480.9 187.5 478.2 187.5 487.3 187.6 472.0 187.6 477.8 187.6 470.0 187.7 472.3 187.7 474.7 187.8 480.5 187.8 487.4 187.8 481.0 187.9 482.8 187.9 477.6 187.9 482.8 188.0 457.0 188.0 491.1 188.0 470.8 188.1 482.8 188.1 481.2 188.2 472.6 188.2 479.4 188.2 488.3 188.3 476.4 188.3 480.8 188.3 494.5 188.4 477.9 188.4 487.1 188.4 484.9 188.5 475.9 188.5 477.2 188.6 481.5 188.6 463.5 188.6 476.3 188.7 483.9 188.7 477.7 188.7 480.3 188.8 495.6 188.8 491.0 188.8 489.6 188.9 464.2 188.9 480.8 189.0 481.4 189.0 483.6 189.0 472.2 189.1 479.2 189.1 466.9 189.1 473.6 189.2 467.3 189.2 480.3 189.2 476.6 189.3 482.6 189.3 480.6 189.4 492.1 189.4 483.7 189.4 486.4 189.5 484.2 189.5 470.4 189.5 477.5 189.6 470.4 189.6 473.1 189.6 472.6 189.7 472.0 189.7 483.9 189.8 473.5 189.8 481.8 189.8 483.3 189.9 470.6 189.9 463.4 189.9 486.6 190.0 466.6 190.0 473.3 190.0 485.7 190.1 477.4 190.1 476.7 190.2 476.6 190.2 482.0 190.2 488.9 190.3 479.2 190.3 473.0 190.3 473.6 190.4 474.5 190.4 471.2 190.4 486.8 190.5 479.7 190.5 476.9 190.6 472.0 190.6 478.2 190.6 475.5 190.7 478.4 190.7 463.8 190.7 495.6 190.8 479.6 190.8 461.0 190.8 477.6 190.9 493.0 190.9 478.4 191.0 490.1 191.0 484.5 191.0 477.7 191.1 466.6 191.1 475.9 191.1 474.4 191.2 471.8 191.2 477.9 191.2 485.8 191.3 480.1 191.3 476.9 191.4 481.5 191.4 484.4 191.4 482.1 191.5 490.7 191.5 487.1 191.5 480.1 191.6 482.1 191.6 479.1 191.6 468.9 191.7 477.2 191.7 479.6 191.8 488.2 191.8 487.5 191.8 476.6 191.9 486.0 191.9 476.2 191.9 487.5 192.0 478.4 192.0 479.9 192.0 471.9 192.1 482.4 192.1 482.2 192.2 477.5 192.2 479.0 192.2 466.6 192.3 481.3 192.3 483.5 192.3 481.8 192.4 475.8 192.4 477.6 192.4 474.2 192.5 489.9 192.5 460.6 192.6 465.5 192.6 479.6 192.6 488.6 192.7 478.2 192.7 476.3 192.7 496.3 192.8 479.3 192.8 490.6 192.9 475.9 192.9 468.9 192.9 471.5 193.0 490.9 193.0 468.9 193.0 472.5 193.1 482.1 193.1 475.6 193.1 467.8 193.2 481.9 193.2 479.5 193.3 483.7 193.3 470.6 193.3 495.8 193.4 468.6 193.4 486.8 193.4 472.3 193.5 491.8 193.5 486.6 193.5 484.0 193.6 473.1 193.6 491.8 193.7 474.8 193.7 484.3 193.7 469.9 193.8 481.8 193.8 475.7 193.8 480.7 193.9 465.6 193.9 482.2 193.9 479.6 194.0 464.2 194.0 478.8 194.1 474.1 194.1 485.1 194.1 477.9 194.2 496.9 194.2 478.6 194.2 484.4 194.3 491.0 194.3 490.3 194.3 470.6 194.4 476.1 194.4 491.1 194.5 465.4 194.5 484.8 194.5 482.2 194.6 477.5 194.6 488.2 194.6 491.9 194.7 485.2 194.7 470.3 194.7 472.0 194.8 491.6 194.8 470.1 194.9 479.1 194.9 475.5 194.9 479.0 195.0 476.2 195.0 487.1 195.0 486.4 195.1 484.8 195.1 482.3 195.1 474.6 195.2 488.8 195.2 467.0 195.3 484.3 195.3 484.0 195.3 473.9 195.4 476.0 195.4 482.0 195.4 487.7 195.5 487.2 195.5 491.8 195.5 470.5 195.6 471.0 195.6 464.9 195.7 475.5 195.7 476.8 195.7 473.5 195.8 472.0 195.8 481.4 195.8 476.7 195.9 462.7 195.9 492.6 195.9 490.3 196.0 486.9 196.0 473.5 196.1 470.2 196.1 482.0 196.1 474.2 196.2 479.8 196.2 477.1 196.2 483.6 196.3 479.6 196.3 479.4 196.3 470.6 196.4 462.0 196.4 493.5 196.5 475.3 196.5 479.4 196.5 471.9 196.6 471.1 196.6 473.3 196.6 473.1 196.7 486.8 196.7 492.7 196.7 466.4 196.8 470.0 196.8 486.8 196.9 469.4 196.9 474.2 196.9 498.5 197.0 472.4 197.0 487.1 197.0 470.3 197.1 484.7 197.1 485.2 197.1 491.4 197.2 481.1 197.2 471.5 197.3 484.6 197.3 493.9 197.3 462.7 197.4 465.0 197.4 474.0 197.4 483.6 197.5 488.8 197.5 492.1 197.5 475.1 197.6 469.3 197.6 487.6 197.7 479.4 197.7 481.6 197.7 481.4 197.8 475.5 197.8 463.1 197.8 484.3 197.9 472.8 197.9 470.9 197.9 481.6 198.0 480.6 198.0 489.8 198.1 471.0 198.1 483.5 198.1 484.5 198.2 478.9 198.2 486.1 198.2 487.5 198.3 481.7 198.3 467.9 198.3 481.0 198.4 475.3 198.4 490.8 198.5 494.5 198.5 465.3 198.5 482.5 198.6 491.3 198.6 480.2 198.6 474.7 198.7 492.8 198.7 486.2 198.7 477.4 198.8 486.5 198.8 473.2 198.9 472.0 198.9 476.0 198.9 482.7 199.0 479.8 199.0 484.3 199.0 480.4 199.1 476.9 199.1 481.7 199.1 471.9 199.2 459.4 199.2 483.6 199.3 476.8 199.3 473.1 199.3 474.4 199.4 481.2 199.4 483.1 199.4 471.7 199.5 474.6 199.5 475.5 199.5 485.6 199.6 474.6 199.6 473.3 199.7 480.8 199.7 474.5 199.7 462.8 199.8 493.8 199.8 474.8 199.8 488.4 199.9 489.8 199.9 481.2 199.9 475.2 200.0 479.0 200.0 488.3 200.1 490.4 200.1 483.6 200.1 479.3 200.2 485.7 200.2 490.8 200.2 466.1 200.3 485.8 200.3 480.6 200.3 483.6 200.4 483.8 200.4 479.1 200.5 481.7 200.5 474.7 200.5 488.4 200.6 490.6 200.6 464.7 200.6 480.0 200.7 473.6 200.7 470.5 200.7 475.2 200.8 479.1 200.8 491.1 200.9 491.5 200.9 472.0 200.9 474.3 201.0 475.1 201.0 491.9 201.0 495.4 201.1 487.3 201.1 488.3 201.1 478.2 201.2 487.1 201.2 467.5 201.3 484.1 201.3 483.6 201.3 472.9 201.4 476.9 201.4 486.1 201.4 473.3 201.5 465.1 201.5 488.5 201.5 481.3 201.6 487.4 201.6 493.8 201.7 474.7 201.7 474.2 201.7 472.2 201.8 476.2 201.8 494.3 201.8 479.6 201.9 484.3 201.9 488.1 201.9 487.6 202.0 473.7 202.0 481.6 202.1 464.9 202.1 475.9 202.1 493.5 202.2 472.8 202.2 470.2 202.2 479.2 202.3 488.3 202.3 466.4 202.3 489.0 202.4 480.0 202.4 493.4 202.5 488.6 202.5 491.8 202.5 471.4 202.6 470.8 202.6 482.4 202.6 489.3 202.7 479.8 202.7 476.6 202.8 490.5 202.8 487.8 202.8 480.1 202.9 474.3 202.9 478.9 202.9 476.1 203.0 488.5 203.0 497.4 203.0 477.1 203.1 486.0 203.1 480.3 203.2 482.1 203.2 475.9 203.2 485.0 203.3 469.0 203.3 479.2 203.3 475.6 203.4 474.9 203.4 471.9 203.4 476.5 203.5 492.0 203.5 483.9 203.6 466.1 203.6 476.0 203.6 475.4 203.7 476.1 203.7 484.0 203.7 484.2 203.8 484.0 203.8 471.2 203.8 476.8 203.9 466.7 203.9 475.9 204.0 466.0 204.0 476.2 204.0 487.8 204.1 467.1 204.1 477.0 204.1 471.0 204.2 477.9 204.2 481.7 204.2 478.2 204.3 487.3 204.3 487.8 204.4 485.7 204.4 483.1 204.4 488.9 204.5 480.1 204.5 477.3 204.5 465.2 204.6 466.5 204.6 479.7 204.6 473.2 204.7 480.9 204.7 476.7 204.8 479.6 204.8 483.2 204.8 478.9 204.9 489.7 204.9 476.3 204.9 481.4 205.0 486.9 205.0 481.9 205.0 475.6 205.1 484.1 205.1 476.1 205.2 475.5 205.2 468.6 205.2 486.9 205.3 480.2 205.3 475.9 205.3 469.1 205.4 477.6 205.4 474.2 205.4 489.5 205.5 483.4 205.5 468.0 205.6 481.4 205.6 464.6 205.6 484.4 205.7 481.3 205.7 490.3 205.7 475.1 205.8 477.6 205.8 465.6 205.8 478.3 205.9 481.1 205.9 489.0 206.0 480.0 206.0 473.0 206.0 474.4 206.1 471.1 206.1 473.5 206.1 479.7 206.2 475.3 206.2 478.2 206.2 488.4 206.3 467.8 206.3 476.9 206.4 486.5 206.4 476.8 206.4 477.5 206.5 472.7 206.5 469.7 206.5 475.7 206.6 469.1 206.6 485.8 206.6 491.9 206.7 477.5 206.7 477.1 206.8 477.1 206.8 486.8 206.8 482.5 206.9 478.1 206.9 474.4 206.9 464.8 207.0 477.4 207.0 483.4 207.0 495.1 207.1 472.3 207.1 480.3 207.2 480.1 207.2 486.0 207.2 474.5 207.3 491.3 207.3 478.7 207.3 478.6 207.4 477.4 207.4 470.8 207.4 480.1 207.5 478.8 207.5 473.7 207.6 489.6 207.6 481.3 207.6 479.0 207.7 473.1 207.7 484.7 207.7 474.1 207.8 476.9 207.8 489.2 207.8 489.1 207.9 488.8 207.9 478.5 208.0 478.0 208.0 474.7 208.0 474.0 208.1 483.0 208.1 472.4 208.1 474.0 208.2 476.3 208.2 476.3 208.2 487.8 208.3 477.0 208.3 486.1 208.4 487.2 208.4 481.7 208.4 478.5 208.5 479.7 208.5 481.5 208.5 485.9 208.6 478.2 208.6 484.2 208.6 488.6 208.7 478.8 208.7 470.0 208.8 482.0 208.8 486.3 208.8 470.4 208.9 468.3 208.9 481.3 208.9 480.8 209.0 478.0 209.0 460.3 209.0 478.5 209.1 473.0 209.1 476.5 209.2 491.2 209.2 486.5 209.2 487.4 209.3 476.6 209.3 478.7 209.3 467.8 209.4 481.1 209.4 477.4 209.4 478.9 209.5 478.5 209.5 464.5 209.6 477.6 209.6 469.9 209.6 471.0 209.7 483.3 209.7 475.0 209.7 481.9 209.8 478.7 209.8 478.4 209.8 479.3 209.9 482.4 209.9 469.4 210.0 481.1 210.0 474.9 210.0 468.6 210.1 475.4 210.1 472.8 210.1 470.5 210.2 472.4 210.2 468.4 210.2 488.6 210.3 466.8 210.3 479.2 210.4 490.6 210.4 483.5 210.4 488.4 210.5 479.5 210.5 489.0 210.5 485.9 210.6 477.5 210.6 478.4 210.6 484.5 210.7 480.9 210.7 480.0 210.8 478.9 210.8 479.4 210.8 480.8 210.9 473.8 210.9 489.7 210.9 482.6 211.0 478.5 211.0 482.0 211.0 483.0 211.1 482.2 211.1 478.1 211.2 471.4 211.2 480.6 211.2 481.1 211.3 477.1 211.3 481.0 211.3 491.9 211.4 477.7 211.4 481.8 211.4 483.1 211.5 475.3 211.5 479.1 211.6 483.0 211.6 493.4 211.6 490.5 211.7 479.3 211.7 480.2 211.7 476.6 211.8 478.0 211.8 482.5 211.8 487.6 211.9 486.5 211.9 480.3 212.0 486.8 212.0 474.5 212.0 488.0 212.1 491.0 212.1 480.7 212.1 490.9 212.2 468.8 212.2 485.8 212.2 479.7 212.3 481.0 212.3 484.7 212.4 490.9 212.4 491.5 212.4 473.8 212.5 472.8 212.5 465.3 212.5 488.9 212.6 475.7 212.6 479.5 212.7 473.9 212.7 482.8 212.7 474.7 212.8 473.5 212.8 475.4 212.8 469.9 212.9 480.5 212.9 469.3 212.9 484.0 213.0 468.5 213.0 497.4 213.1 479.3 213.1 484.7 213.1 479.4 213.2 472.6 213.2 474.7 213.2 478.8 213.3 468.2 213.3 489.1 213.3 484.8 213.4 469.4 213.4 477.2 213.5 493.1 213.5 477.1 213.5 487.2 213.6 469.6 213.6 471.8 213.6 483.0 213.7 470.8 213.7 484.9 213.7 473.3 213.8 475.6 213.8 480.2 213.9 488.9 213.9 481.3 213.9 494.7 214.0 483.2 214.0 491.8 214.0 471.3 214.1 485.9 214.1 495.7 214.1 475.5 214.2 476.9 214.2 482.8 214.3 465.2 214.3 474.2 214.3 479.0 214.4 483.7 214.4 499.3 214.4 476.2 214.5 472.9 214.5 483.4 214.5 488.9 214.6 479.7 214.6 490.7 214.7 479.4 214.7 474.2 214.7 469.2 214.8 477.6 214.8 478.1 214.8 474.3 214.9 469.9 214.9 481.6 214.9 487.8 215.0 484.8 215.0 488.0 215.1 485.5 215.1 480.2 215.1 477.1 215.2 478.3 215.2 478.9 215.2 481.9 215.3 476.5 215.3 473.3 215.3 474.2 215.4 469.1 215.4 481.4 215.5 481.1 215.5 467.7 215.5 478.0 215.6 476.5 215.6 481.7 215.6 472.7 215.7 482.2 215.7 486.4 215.7 479.8 215.8 482.5 215.8 473.6 215.9 482.0 215.9 478.5 215.9 480.9 216.0 477.0 216.0 483.8 216.0 471.7 216.1 489.4 216.1 482.1 216.1 484.4 216.2 474.8 216.2 479.1 216.3 476.0 216.3 481.7 216.3 484.5 216.4 487.3 216.4 481.8 216.4 483.2 216.5 477.4 216.5 476.9 216.5 472.4 216.6 480.2 216.6 484.7 216.7 487.0 216.7 479.0 216.7 476.8 216.8 465.5 216.8 478.1 216.8 466.8 216.9 466.0 216.9 486.9 216.9 470.7 217.0 471.2 217.0 469.7 217.1 479.5 217.1 472.5 217.1 482.9 217.2 479.9 217.2 479.3 217.2 466.5 217.3 481.0 217.3 472.5 217.3 478.9 217.4 484.6 217.4 477.6 217.5 474.6 217.5 484.6 217.5 474.8 217.6 484.6 217.6 485.8 217.6 477.8 217.7 481.1 217.7 486.6 217.7 491.4 217.8 479.2 217.8 477.6 217.9 482.8 217.9 478.0 217.9 490.7 218.0 476.5 218.0 476.3 218.0 477.3 218.1 484.0 218.1 478.8 218.1 478.4 218.2 471.4 218.2 477.3 218.3 477.5 218.3 484.8 218.3 473.0 218.4 470.6 218.4 483.1 218.4 474.6 218.5 477.1 218.5 479.8 218.5 489.1 218.6 466.2 218.6 493.5 218.7 477.1 218.7 482.2 218.7 470.7 218.8 482.6 218.8 479.1 218.8 474.8 218.9 475.9 218.9 483.3 218.9 474.2 219.0 476.4 219.0 471.9 219.1 483.3 219.1 479.8 219.1 482.4 219.2 485.8 219.2 477.5 219.2 476.3 219.3 468.5 219.3 481.9 219.3 476.4 219.4 470.6 219.4 480.3 219.5 478.9 219.5 478.4 219.5 484.7 219.6 487.0 219.6 470.8 219.6 478.1 219.7 480.0 219.7 489.0 219.7 478.5 219.8 470.3 219.8 488.3 219.9 486.3 219.9 470.8 219.9 468.3 220.0 467.3 220.0 483.7 220.0 474.7 220.1 485.2 220.1 475.3 220.1 482.2 220.2 477.9 220.2 468.9 220.3 476.8 220.3 481.3 220.3 479.0 220.4 477.3 220.4 483.4 220.4 477.8 220.5 474.7 220.5 467.1 220.5 495.6 220.6 488.8 220.6 489.1 220.7 472.5 220.7 460.2 220.7 477.9 220.8 478.4 220.8 470.4 220.8 498.7 220.9 480.8 220.9 478.2 220.9 483.4 221.0 483.2 221.0 476.7 221.1 484.0 221.1 470.6 221.1 479.4 221.2 476.4 221.2 459.2 221.2 483.0 221.3 472.0 221.3 486.0 221.3 469.4 221.4 471.7 221.4 478.3 221.5 471.5 221.5 466.5 221.5 468.4 221.6 479.4 221.6 479.8 221.6 470.5 221.7 491.2 221.7 484.2 221.7 475.5 221.8 474.8 221.8 464.5 221.9 465.3 221.9 476.8 221.9 475.8 222.0 490.0 222.0 480.9 222.0 477.3 222.1 481.2 222.1 478.9 222.1 474.5 222.2 487.1 222.2 484.0 222.3 493.8 222.3 470.1 222.3 487.9 222.4 493.2 222.4 473.2 222.4 481.1 222.5 471.6 222.5 482.4 222.6 462.2 222.6 473.6 222.6 478.2 222.7 478.5 222.7 481.1 222.7 472.8 222.8 463.2 222.8 482.8 222.8 488.2 222.9 474.5 222.9 470.7 223.0 491.5 223.0 485.0 223.0 487.5 223.1 474.8 223.1 475.3 223.1 485.4 223.2 488.6 223.2 473.8 223.2 496.2 223.3 474.1 223.3 480.7 223.4 463.7 223.4 471.3 223.4 484.1 223.5 481.6 223.5 481.7 223.5 485.3 223.6 478.7 223.6 471.5 223.6 491.7 223.7 481.3 223.7 467.2 223.8 473.3 223.8 486.1 223.8 486.0 223.9 486.4 223.9 492.5 223.9 470.0 224.0 478.8 224.0 485.1 224.0 491.1 224.1 482.5 224.1 483.6 224.2 465.3 224.2 483.2 224.2 478.5 224.3 470.6 224.3 473.9 224.3 480.9 224.4 497.3 224.4 467.9 224.4 474.5 224.5 483.0 224.5 480.1 224.6 487.2 224.6 486.8 224.6 491.6 224.7 475.3 224.7 475.1 224.7 478.0 224.8 473.0 224.8 475.0 224.8 478.4 224.9 486.6 224.9 474.5 225.0 469.7 225.0 474.2 225.0 469.2 225.1 483.3 225.1 487.4 225.1 469.1 225.2 484.2 225.2 477.4 225.2 481.0 225.3 479.2 225.3 481.6 225.4 483.8 225.4 494.0 225.4 463.8 225.5 477.7 225.5 495.2 225.5 486.8 225.6 488.6 225.6 485.5 225.6 500.3 225.7 474.7 225.7 466.0 225.8 481.4 225.8 473.3 225.8 474.5 225.9 489.6 225.9 469.4 225.9 493.2 226.0 484.1 226.0 482.3 226.0 469.1 226.1 478.4 226.1 480.4 226.2 486.0 226.2 478.7 226.2 479.1 226.3 473.4 226.3 468.0 226.3 473.4 226.4 479.3 226.4 480.6 226.4 466.3 226.5 477.8 226.5 479.5 226.6 464.7 226.6 466.6 226.6 474.8 226.7 480.3 226.7 484.6 226.7 470.7 226.8 483.1 226.8 471.6 226.8 485.8 226.9 478.5 226.9 476.1 227.0 478.2 227.0 477.5 227.0 476.3 227.1 488.5 227.1 488.4 227.1 480.6 227.2 464.7 227.2 480.4 227.2 486.9 227.3 484.8 227.3 479.1 227.4 469.8 227.4 484.0 227.4 474.8 227.5 477.9 227.5 482.3 227.5 487.1 227.6 480.6 227.6 485.3 227.6 475.0 227.7 493.7 227.7 470.3 227.8 473.3 227.8 474.7 227.8 467.3 227.9 474.5 227.9 493.2 227.9 479.0 228.0 475.8 228.0 484.9 228.0 488.5 228.1 475.9 228.1 475.3 228.2 482.8 228.2 481.4 228.2 483.5 228.3 484.0 228.3 479.9 228.3 470.8 228.4 492.4 228.4 482.1 228.4 466.4 228.5 476.8 228.5 478.2 228.6 472.7 228.6 487.5 228.6 489.1 228.7 492.7 228.7 491.1 228.7 477.4 228.8 472.6 228.8 482.7 228.8 484.8 228.9 476.2 228.9 474.5 229.0 477.3 229.0 494.6 229.0 483.8 229.1 499.6 229.1 477.5 229.1 486.2 229.2 484.6 229.2 467.4 229.2 468.9 229.3 475.6 229.3 477.2 229.4 478.0 229.4 484.1 229.4 479.8 229.5 464.2 229.5 486.4 229.5 484.7 229.6 478.1 229.6 472.3 229.6 472.8 229.7 487.1 229.7 480.4 229.8 481.5 229.8 489.2 229.8 478.8 229.9 483.2 229.9 472.1 229.9 476.0 230.0 485.6 230.0 478.8 230.0 482.2 230.1 484.4 230.1 483.2 230.2 471.0 230.2 482.7 230.2 492.9 230.3 485.5 230.3 473.0 230.3 462.5 230.4 487.7 230.4 482.2 230.4 482.0 230.5 490.5 230.5 476.2 230.6 479.8 230.6 477.2 230.6 461.8 230.7 481.5 230.7 473.2 230.7 472.9 230.8 484.4 230.8 484.0 230.8 467.2 230.9 473.8 230.9 478.3 231.0 487.9 231.0 472.5 231.0 475.3 231.1 462.2 231.1 467.9 231.1 473.1 231.2 477.3 231.2 478.9 231.2 483.7 231.3 477.0 231.3 477.5 231.4 474.3 231.4 470.9 231.4 477.0 231.5 483.6 231.5 473.1 231.5 467.3 231.6 485.9 231.6 476.1 231.6 475.1 231.7 475.2 231.7 475.5 231.8 480.1 231.8 480.2 231.8 466.3 231.9 466.0 231.9 490.3 231.9 499.0 232.0 476.0 232.0 484.6 232.0 483.4 232.1 491.7 232.1 476.7 232.2 479.8 232.2 483.6 232.2 472.5 232.3 460.6 232.3 468.0 232.3 470.3 232.4 482.6 232.4 474.3 232.5 479.7 232.5 470.5 232.5 474.9 232.6 479.7 232.6 475.1 232.6 484.9 232.7 473.3 232.7 467.8 232.7 482.2 232.8 475.1 232.8 492.2 232.9 472.2 232.9 472.7 232.9 487.2 233.0 466.0 233.0 478.5 233.0 492.7 233.1 489.9 233.1 472.7 233.1 481.5 233.2 470.9 233.2 491.3 233.3 480.2 233.3 471.9 233.3 484.6 233.4 474.2 233.4 482.2 233.4 476.8 233.5 476.9 233.5 462.3 233.5 488.9 233.6 473.4 233.6 469.4 233.7 488.0 233.7 478.8 233.7 461.7 233.8 471.4 233.8 502.1 233.8 481.2 233.9 492.5 233.9 477.1 233.9 485.0 234.0 483.7 234.0 485.8 234.1 477.1 234.1 483.0 234.1 486.3 234.2 481.1 234.2 476.3 234.2 485.9 234.3 470.9 234.3 492.1 234.3 476.3 234.4 482.4 234.4 467.4 234.5 484.3 234.5 484.5 234.5 489.7 234.6 464.2 234.6 474.7 234.6 487.7 234.7 482.0 234.7 486.7 234.7 467.8 234.8 476.2 234.8 495.0 234.9 477.8 234.9 472.4 234.9 479.4 235.0 475.8 235.0 480.2 235.0 477.8 235.1 477.8 235.1 484.8 235.1 476.7 235.2 478.1 235.2 479.7 235.3 484.6 235.3 487.2 235.3 477.5 235.4 473.1 235.4 497.9 235.4 483.5 235.5 469.0 235.5 472.4 235.5 484.9 235.6 469.0 235.6 487.0 235.7 485.5 235.7 464.5 235.7 482.7 235.8 481.1 235.8 492.1 235.8 487.2 235.9 488.4 235.9 480.5 235.9 493.5 236.0 471.2 236.0 482.1 236.1 484.1 236.1 484.3 236.1 473.7 236.2 467.6 236.2 482.5 236.2 467.0 236.3 467.0 236.3 469.1 236.3 477.1 236.4 490.9 236.4 474.2 236.5 482.6 236.5 477.9 236.5 493.9 236.6 481.6 236.6 477.6 236.6 486.6 236.7 477.1 236.7 466.5 236.7 477.6 236.8 484.7 236.8 460.9 236.9 496.1 236.9 486.5 236.9 476.2 237.0 484.0 237.0 497.2 237.0 477.4 237.1 472.9 237.1 485.6 237.1 468.0 237.2 475.5 237.2 470.1 237.3 491.3 237.3 479.4 237.3 466.9 237.4 463.7 237.4 469.1 237.4 479.4 237.5 478.0 237.5 484.3 237.5 470.8 237.6 484.8 237.6 478.4 237.7 495.6 237.7 491.2 237.7 465.5 237.8 478.9 237.8 477.7 237.8 496.6 237.9 479.7 237.9 463.1 237.9 491.2 238.0 498.1 238.0 480.7 238.1 483.6 238.1 481.1 238.1 489.3 238.2 490.1 238.2 489.2 238.2 474.3 238.3 479.8 238.3 472.9 238.3 487.9 238.4 474.7 238.4 482.9 238.5 478.7 238.5 472.0 238.5 479.1 238.6 482.2 238.6 492.7 238.6 478.9 238.7 473.1 238.7 484.4 238.7 479.9 238.8 493.5 238.8 490.1 238.9 476.2 238.9 469.0 238.9 481.9 239.0 492.8 239.0 482.5 239.0 492.0 239.1 481.6 239.1 463.9 239.1 477.0 239.2 480.6 239.2 471.0 239.3 482.5 239.3 476.7 239.3 477.8 239.4 475.8 239.4 491.3 239.4 473.6 239.5 472.2 239.5 497.9 239.5 501.5 239.6 486.7 239.6 467.2 239.7 479.2 239.7 473.9 239.7 474.9 239.8 472.1 239.8 484.6 239.8 484.2 239.9 476.3 239.9 474.4 239.9 474.7 240.0 476.6 240.0 483.4 240.1 470.3 240.1 475.5 240.1 470.6 240.2 500.4 240.2 471.1 240.2 499.6 240.3 477.7 240.3 484.9 240.3 478.4 240.4 483.4 240.4 482.0 240.5 477.8 240.5 476.5 240.5 486.1 240.6 500.5 240.6 485.9 240.6 474.9 240.7 486.5 240.7 475.8 240.7 482.5 240.8 487.3 240.8 469.6 240.9 465.5 240.9 480.3 240.9 479.8 241.0 471.3 241.0 490.6 241.0 486.8 241.1 469.8 241.1 471.8 241.1 483.6 241.2 486.0 241.2 476.4 241.3 491.4 241.3 483.6 241.3 481.4 241.4 500.4 241.4 474.4 241.4 472.9 241.5 470.3 241.5 491.7 241.5 490.4 241.6 486.4 241.6 490.6 241.7 461.8 241.7 487.8 241.7 482.1 241.8 477.6 241.8 475.5 241.8 466.9 241.9 488.8 241.9 471.8 241.9 478.1 242.0 489.6 242.0 478.1 242.1 491.6 242.1 465.3 242.1 485.7 242.2 470.6 242.2 468.1 242.2 484.8 242.3 487.2 242.3 478.3 242.4 488.6 242.4 471.5 242.4 477.9 242.5 486.1 242.5 485.4 242.5 473.0 242.6 492.2 242.6 464.5 242.6 486.3 242.7 481.1 242.7 487.6 242.8 465.0 242.8 472.1 242.8 467.9 242.9 473.6 242.9 478.6 242.9 464.3 243.0 473.5 243.0 475.5 243.0 474.3 243.1 472.8 243.1 476.9 243.2 480.9 243.2 493.7 243.2 461.0 243.3 491.0 243.3 498.7 243.3 485.8 243.4 462.0 243.4 468.4 243.4 484.8 243.5 477.0 243.5 479.6 243.6 497.3 243.6 482.4 243.6 476.8 243.7 468.8 243.7 490.3 243.7 499.8 243.8 493.7 243.8 476.4 243.8 478.7 243.9 478.0 243.9 478.1 244.0 482.7 244.0 491.8 244.0 475.3 244.1 475.9 244.1 474.1 244.1 468.0 244.2 490.7 244.2 500.8 244.2 495.7 244.3 459.8 244.3 487.8 244.4 475.7 244.4 479.5 244.4 472.7 244.5 484.2 244.5 481.0 244.5 484.9 244.6 477.1 244.6 474.6 244.6 488.4 244.7 467.2 244.7 468.8 244.8 475.3 244.8 480.4 244.8 481.6 244.9 494.7 244.9 473.3 244.9 488.5 245.0 484.1 245.0 470.1 245.0 488.0 245.1 484.3 245.1 471.4 245.2 462.1 245.2 485.8 245.2 469.1 245.3 485.5 245.3 475.8 245.3 474.9 245.4 490.1 245.4 469.8 245.4 462.5 245.5 478.9 245.5 476.9 245.6 490.4 245.6 462.6 245.6 478.8 245.7 491.4 245.7 472.2 245.7 493.2 245.8 485.9 245.8 499.5 245.8 466.4 245.9 458.6 245.9 485.4 246.0 485.6 246.0 484.9 246.0 484.7 246.1 474.2 246.1 465.6 246.1 488.9 246.2 475.2 246.2 496.5 246.2 465.0 246.3 480.2 246.3 486.0 246.4 464.9 246.4 480.4 246.4 466.4 246.5 469.2 246.5 463.7 246.5 487.0 246.6 478.9 246.6 475.9 246.6 481.2 246.7 464.9 246.7 486.2 246.8 469.8 246.8 466.4 246.8 498.0 246.9 488.7 246.9 488.0 246.9 484.6 247.0 475.7 247.0 481.1 247.0 478.6 247.1 483.8 247.1 480.2 247.2 474.8 247.2 472.3 247.2 486.9 247.3 480.5 247.3 486.7 247.3 481.1 247.4 493.2 247.4 470.2 247.4 473.0 247.5 480.6 247.5 486.0 247.6 483.8 247.6 485.8 247.6 494.2 247.7 463.7 247.7 491.2 247.7 490.6 247.8 473.8 247.8 473.6 247.8 494.5 247.9 497.9 247.9 474.2 248.0 498.6 248.0 465.7 248.0 484.2 248.1 478.6 248.1 479.4 248.1 484.8 248.2 480.8 248.2 482.3 248.2 467.4 248.3 480.3 248.3 479.7 248.4 484.5 248.4 485.5 248.4 486.5 248.5 479.3 248.5 461.7 248.5 468.6 248.6 477.1 248.6 463.3 248.6 469.6 248.7 477.4 248.7 481.0 248.8 490.0 248.8 477.0 248.8 482.4 248.9 494.7 248.9 491.8 248.9 460.7 249.0 477.3 249.0 474.6 249.0 477.5 249.1 483.9 249.1 474.9 249.2 468.9 249.2 482.4 249.2 474.5 249.3 469.5 249.3 484.1 249.3 477.8 249.4 486.5 249.4 473.6 249.4 483.0 249.5 468.3 249.5 486.8 249.6 463.1 249.6 482.4 249.6 487.5 249.7 488.1 249.7 473.0 249.7 487.7 249.8 462.0 249.8 467.0 249.8 474.4 249.9 493.1 249.9 479.6 250.0 486.4 250.0 496.8 250.0 475.3 250.1 458.2 250.1 484.6 250.1 471.6 250.2 467.0 250.2 488.6 250.2 482.7 250.3 476.8 250.3 474.9 250.4 490.4 250.4 477.3 250.4 480.4 250.5 470.3 250.5 494.7 250.5 484.8 250.6 484.2 250.6 482.4 250.6 472.5 250.7 485.4 250.7 453.2 250.8 486.2 250.8 471.4 250.8 469.6 250.9 470.2 250.9 481.4 250.9 487.3 251.0 481.8 251.0 473.0 251.0 478.2 251.1 473.8 251.1 473.9 251.2 487.8 251.2 488.3 251.2 465.6 251.3 484.0 251.3 494.5 251.3 461.7 251.4 487.3 251.4 488.3 251.4 470.2 251.5 490.2 251.5 487.7 251.6 469.4 251.6 487.2 251.6 455.6 251.7 478.5 251.7 453.9 251.7 478.2 251.8 478.9 251.8 485.5 251.8 481.5 251.9 484.1 251.9 479.6 252.0 472.1 252.0 491.4 252.0 488.1 252.1 499.2 252.1 465.2 252.1 480.1 252.2 479.5 252.2 479.9 252.3 469.9 252.3 476.4 252.3 471.4 252.4 481.0 252.4 480.5 252.4 479.9 252.5 496.9 252.5 469.2 252.5 494.2 252.6 488.7 252.6 473.1 252.7 478.9 252.7 471.8 252.7 463.4 252.8 462.0 252.8 466.5 252.8 481.5 252.9 460.3 252.9 487.6 252.9 480.2 253.0 470.1 253.0 481.4 253.1 480.5 253.1 482.7 253.1 466.7 253.2 502.3 253.2 467.6 253.2 469.6 253.3 480.1 253.3 474.2 253.3 488.4 253.4 469.1 253.4 487.9 253.5 466.5 253.5 479.9 253.5 482.5 253.6 483.9 253.6 481.1 253.6 490.9 253.7 491.9 253.7 464.1 253.7 479.6 253.8 474.3 253.8 476.6 253.9 475.0 253.9 493.4 253.9 488.1 254.0 473.6 254.0 470.3 254.0 489.9 254.1 484.7 254.1 489.2 254.1 473.4 254.2 476.3 254.2 479.1 254.3 485.3 254.3 476.3 254.3 479.1 254.4 486.2 254.4 476.4 254.4 485.4 254.5 470.8 254.5 473.7 254.5 485.6 254.6 474.1 254.6 478.8 254.7 485.8 254.7 487.6 254.7 494.4 254.8 489.6 254.8 476.3 254.8 468.5 254.9 485.0 254.9 478.0 254.9 476.3 255.0 472.4 255.0 475.4 255.1 468.4 255.1 472.5 255.1 486.2 255.2 475.9 255.2 500.3 255.2 481.0 255.3 479.2 255.3 474.2 255.3 482.1 255.4 472.0 255.4 467.7 255.5 486.8 255.5 484.2 255.5 477.1 255.6 475.1 255.6 478.1 255.6 472.1 255.7 489.8 255.7 472.6 255.7 469.1 255.8 469.6 255.8 475.6 255.9 481.5 255.9 475.9 255.9 480.1 256.0 493.3 256.0 484.7 256.0 479.8 256.1 483.9 256.1 487.6 256.1 481.4 256.2 482.6 256.2 478.8 256.3 479.8 256.3 477.9 256.3 470.8 256.4 478.2 256.4 475.9 256.4 490.0 256.5 505.0 256.5 482.9 256.5 473.5 256.6 482.3 256.6 484.8 256.7 490.1 256.7 471.7 256.7 484.0 256.8 477.3 256.8 469.7 256.8 474.8 256.9 460.1 256.9 480.5 256.9 471.2 257.0 473.5 257.0 485.0 257.1 479.0 257.1 484.2 257.1 488.2 257.2 476.8 257.2 486.0 257.2 465.1 257.3 485.7 257.3 484.0 257.3 478.6 257.4 483.8 257.4 478.9 257.5 484.6 257.5 491.5 257.5 499.8 257.6 490.3 257.6 466.5 257.6 475.6 257.7 478.1 257.7 483.3 257.7 480.6 257.8 476.9 257.8 491.1 257.9 486.1 257.9 486.9 257.9 468.8 258.0 488.3 258.0 469.6 258.0 483.3 258.1 456.6 258.1 480.1 258.1 479.1 258.2 468.1 258.2 472.1 258.3 471.6 258.3 488.3 258.3 469.9" fill="none" stroke="#1030f8" stroke-width="0.42" stroke-opacity="0.95"/>
<path d="M258.3,480.0 L288.8,478.8" stroke="#2a46f5" stroke-width="1" fill="none"/>
<path d="M69.1 549.8 69.1 556.8 69.2 558.3 69.2 560.7 69.3 552.5 69.3 555.3 69.3 556.5 69.4 561.3 69.4 550.1 69.4 553.1 69.5 556.6 69.5 550.7 69.6 560.3 69.6 553.1 69.6 560.5 69.7 551.0 69.7 557.7 69.8 551.8 69.8 558.2 69.8 555.0 69.9 552.1 69.9 560.2 69.9 556.3 70.0 560.0 70.0 553.3 70.1 559.1 70.1 558.2 70.1 557.5 70.2 552.1 70.2 560.8 70.3 556.8 70.3 558.0 70.3 558.9 70.4 559.9 70.4 557.4 70.4 556.0 70.5 562.9 70.5 555.9 70.6 561.5 70.6 556.8 70.6 547.8 70.7 560.7 70.7 557.1 70.8 557.9 70.8 553.0 70.8 558.8 70.9 564.0 70.9 563.3 70.9 556.2 71.0 555.9 71.0 552.7 71.1 559.1 71.1 554.3 71.1 561.2 71.2 551.8 71.2 557.3 71.3 559.7 71.3 556.3 71.3 550.0 71.4 560.4 71.4 562.0 71.5 561.1 71.5 561.7 71.5 557.3 71.6 555.7 71.6 557.7 71.6 556.3 71.7 552.3 71.7 558.3 71.8 562.2 71.8 566.3 71.8 556.2 71.9 559.9 71.9 558.2 72.0 555.5 72.0 555.3 72.0 563.5 72.1 561.1 72.1 556.9 72.1 557.8 72.2 552.6 72.2 559.3 72.3 565.6 72.3 552.5 72.3 563.9 72.4 561.2 72.4 555.7 72.5 561.6 72.5 547.2 72.5 556.4 72.6 555.2 72.6 559.1 72.6 548.4 72.7 555.2 72.7 560.3 72.8 552.3 72.8 564.3 72.8 559.8 72.9 556.2 72.9 556.9 73.0 561.3 73.0 551.0 73.0 551.5 73.1 561.3 73.1 555.9 73.1 560.1 73.2 559.3 73.2 553.5 73.3 557.0 73.3 558.0 73.3 557.1 73.4 562.3 73.4 552.6 73.5 560.6 73.5 552.2 73.5 559.4 73.6 559.4 73.6 551.5 73.6 556.8 73.7 560.2 73.7 559.8 73.8 555.1 73.8 550.0 73.8 555.1 73.9 559.3 73.9 562.3 74.0 560.4 74.0 558.2 74.0 556.7 74.1 560.4 74.1 552.4 74.1 561.7 74.2 560.7 74.2 555.7 74.3 555.8 74.3 559.4 74.3 553.8 74.4 563.6 74.4 551.0 74.5 548.8 74.5 549.7 74.5 557.3 74.6 549.7 74.6 557.6 74.6 552.3 74.7 558.7 74.7 557.1 74.8 555.7 74.8 565.1 74.8 558.7 74.9 550.8 74.9 570.0 75.0 556.3 75.0 554.1 75.0 556.6 75.1 557.1 75.1 552.2 75.1 556.6 75.2 565.8 75.2 561.9 75.3 559.2 75.3 557.4 75.3 559.9 75.4 558.4 75.4 551.1 75.5 570.3 75.5 553.2 75.5 554.1 75.6 555.5 75.6 558.0 75.6 557.8 75.7 556.6 75.7 557.1 75.8 561.1 75.8 554.8 75.8 561.6 75.9 558.3 75.9 559.6 76.0 563.0 76.0 555.6 76.0 558.5 76.1 563.1 76.1 558.5 76.2 564.0 76.2 552.2 76.2 556.0 76.3 549.9 76.3 560.6 76.3 555.3 76.4 562.3 76.4 561.8 76.5 558.6 76.5 556.5 76.5 554.4 76.6 559.4 76.6 553.6 76.7 554.2 76.7 562.0 76.7 559.1 76.8 562.2 76.8 551.1 76.8 560.7 76.9 554.6 76.9 554.5 77.0 559.4 77.0 560.4 77.0 556.9 77.1 561.7 77.1 563.7 77.2 562.5 77.2 557.0 77.2 557.6 77.3 551.0 77.3 566.2 77.3 556.3 77.4 563.3 77.4 553.6 77.5 555.5 77.5 557.9 77.5 552.2 77.6 560.1 77.6 560.8 77.7 563.0 77.7 561.3 77.7 558.0 77.8 555.7 77.8 553.1 77.8 559.7 77.9 561.7 77.9 560.0 78.0 560.4 78.0 560.6 78.0 560.3 78.1 562.3 78.1 558.8 78.2 560.8 78.2 559.4 78.2 564.5 78.3 558.0 78.3 556.2 78.3 555.9 78.4 561.0 78.4 563.5 78.5 564.2 78.5 563.7 78.5 561.5 78.6 560.0 78.6 566.3 78.7 555.9 78.7 565.3 78.7 561.7 78.8 561.8 78.8 555.2 78.8 550.9 78.9 560.3 78.9 560.0 79.0 560.5 79.0 559.7 79.0 559.5 79.1 548.2 79.1 563.5 79.2 559.3 79.2 562.2 79.2 557.3 79.3 561.1 79.3 556.4 79.3 563.5 79.4 549.8 79.4 558.0 79.5 566.5 79.5 555.9 79.5 560.9 79.6 563.9 79.6 557.0 79.7 561.2 79.7 555.8 79.7 561.3 79.8 555.1 79.8 558.3 79.8 557.4 79.9 558.3 79.9 560.6 80.0 560.6 80.0 557.1 80.0 556.0 80.1 560.8 80.1 549.4 80.2 551.7 80.2 564.0 80.2 554.4 80.3 559.4 80.3 558.1 80.3 562.5 80.4 551.9 80.4 562.7 80.5 559.5 80.5 562.2 80.5 550.7 80.6 553.7 80.6 564.8 80.7 561.1 80.7 557.6 80.7 561.0 80.8 560.7 80.8 563.8 80.9 558.1 80.9 563.9 80.9 555.6 81.0 548.8 81.0 560.6 81.0 552.1 81.1 557.6 81.1 562.1 81.2 560.7 81.2 563.4 81.2 558.8 81.3 556.2 81.3 555.2 81.4 560.5 81.4 564.5 81.4 559.6 81.5 552.0 81.5 558.1 81.5 559.6 81.6 568.4 81.6 561.2 81.7 557.0 81.7 563.5 81.7 553.5 81.8 561.8 81.8 563.2 81.9 561.9 81.9 559.8 81.9 555.0 82.0 561.9 82.0 567.2 82.0 559.7 82.1 557.1 82.1 552.7 82.2 564.3 82.2 553.0 82.2 556.5 82.3 557.5 82.3 562.8 82.4 563.3 82.4 563.7 82.4 555.4 82.5 558.5 82.5 554.8 82.5 551.5 82.6 559.4 82.6 559.7 82.7 551.1 82.7 565.3 82.7 561.5 82.8 561.2 82.8 561.2 82.9 558.9 82.9 563.2 82.9 554.5 83.0 565.6 83.0 563.2 83.0 567.0 83.1 565.8 83.1 557.0 83.2 556.8 83.2 560.5 83.2 555.9 83.3 556.9 83.3 562.2 83.4 559.8 83.4 558.0 83.4 550.8 83.5 561.6 83.5 558.0 83.5 557.3 83.6 554.3 83.6 557.8 83.7 555.0 83.7 564.4 83.7 560.9 83.8 568.3 83.8 559.9 83.9 549.4 83.9 558.7 83.9 559.4 84.0 558.6 84.0 559.1 84.0 565.6 84.1 562.9 84.1 560.5 84.2 559.0 84.2 563.6 84.2 560.3 84.3 563.0 84.3 565.7 84.4 562.7 84.4 563.4 84.4 556.1 84.5 553.9 84.5 557.3 84.5 560.8 84.6 562.3 84.6 566.9 84.7 562.2 84.7 552.9 84.7 554.7 84.8 558.9 84.8 561.0 84.9 559.9 84.9 558.0 84.9 560.0 85.0 558.0 85.0 563.4 85.0 559.7 85.1 561.5 85.1 555.1 85.2 565.5 85.2 554.2 85.2 560.4 85.3 562.2 85.3 559.9 85.4 559.4 85.4 561.1 85.4 558.1 85.5 562.6 85.5 567.6 85.6 556.9 85.6 560.1 85.6 552.5 85.7 558.3 85.7 569.1 85.7 554.5 85.8 563.2 85.8 557.6 85.9 550.1 85.9 555.2 85.9 565.1 86.0 560.5 86.0 567.4 86.1 557.1 86.1 557.6 86.1 564.7 86.2 558.1 86.2 555.9 86.2 556.5 86.3 563.1 86.3 563.3 86.4 565.2 86.4 566.1 86.4 558.7 86.5 560.0 86.5 554.3 86.6 559.0 86.6 561.6 86.6 566.7 86.7 553.2 86.7 559.5 86.7 560.3 86.8 564.8 86.8 565.0 86.9 557.4 86.9 564.6 86.9 557.6 87.0 557.4 87.0 562.0 87.1 567.6 87.1 558.4 87.1 553.9 87.2 564.1 87.2 566.0 87.2 555.4 87.3 559.6 87.3 563.2 87.4 554.7 87.4 561.6 87.4 558.3 87.5 562.2 87.5 563.7 87.6 559.4 87.6 564.2 87.6 568.5 87.7 562.8 87.7 554.7 87.7 555.4 87.8 550.4 87.8 555.9 87.9 553.0 87.9 559.3 87.9 562.4 88.0 558.3 88.0 564.8 88.1 557.1 88.1 562.5 88.1 559.3 88.2 564.4 88.2 561.0 88.2 556.0 88.3 561.4 88.3 563.6 88.4 559.2 88.4 556.5 88.4 561.3 88.5 565.9 88.5 567.6 88.6 566.7 88.6 555.6 88.6 561.0 88.7 558.3 88.7 555.6 88.7 559.2 88.8 558.3 88.8 562.8 88.9 568.0 88.9 557.7 88.9 561.0 89.0 557.9 89.0 565.5 89.1 561.2 89.1 551.3 89.1 564.4 89.2 560.2 89.2 554.6 89.2 561.7 89.3 560.0 89.3 570.6 89.4 557.1 89.4 562.7 89.4 554.7 89.5 561.1 89.5 562.3 89.6 558.7 89.6 561.7 89.6 563.1 89.7 553.6 89.7 556.1 89.7 560.2 89.8 557.0 89.8 556.9 89.9 558.0 89.9 560.5 89.9 560.4 90.0 558.8 90.0 558.1 90.1 559.1 90.1 563.3 90.1 561.1 90.2 558.6 90.2 565.3 90.3 560.8 90.3 557.3 90.3 560.0 90.4 562.1 90.4 560.9 90.4 563.0 90.5 556.2 90.5 562.5 90.6 568.7 90.6 566.4 90.6 559.4 90.7 559.8 90.7 563.1 90.8 566.9 90.8 561.6 90.8 564.7 90.9 564.0 90.9 560.8 90.9 564.5 91.0 559.4 91.0 564.4 91.1 563.0 91.1 562.0 91.1 554.1 91.2 553.5 91.2 556.5 91.3 564.4 91.3 560.9 91.3 556.6 91.4 557.2 91.4 568.7 91.4 561.2 91.5 564.5 91.5 557.4 91.6 558.0 91.6 563.4 91.6 550.9 91.7 562.2 91.7 549.5 91.8 561.7 91.8 561.4 91.8 552.2 91.9 563.5 91.9 563.2 91.9 554.0 92.0 561.2 92.0 558.8 92.1 566.8 92.1 552.6 92.1 556.4 92.2 559.4 92.2 557.7 92.3 563.5 92.3 563.2 92.3 568.6 92.4 559.3 92.4 555.2 92.4 557.1 92.5 556.7 92.5 557.8 92.6 565.5 92.6 567.1 92.6 558.1 92.7 560.3 92.7 556.4 92.8 562.4 92.8 565.4 92.8 559.0 92.9 563.8 92.9 568.8 92.9 564.1 93.0 565.2 93.0 566.5 93.1 563.7 93.1 556.7 93.1 550.2 93.2 552.9 93.2 563.1 93.3 555.8 93.3 561.5 93.3 559.3 93.4 564.3 93.4 561.6 93.4 569.0 93.5 552.7 93.5 564.8 93.6 558.5 93.6 563.9 93.6 560.0 93.7 566.7 93.7 563.1 93.8 556.9 93.8 558.4 93.8 570.3 93.9 557.2 93.9 567.4 93.9 559.9 94.0 558.8 94.0 564.4 94.1 562.8 94.1 562.5 94.1 559.4 94.2 556.9 94.2 554.9 94.3 559.8 94.3 551.9 94.3 566.0 94.4 552.9 94.4 562.7 94.4 557.7 94.5 562.0 94.5 560.9 94.6 565.9 94.6 559.5 94.6 551.6 94.7 560.6 94.7 561.5 94.8 561.3 94.8 558.0 94.8 562.3 94.9 561.5 94.9 560.4 95.0 555.1 95.0 556.9 95.0 566.6 95.1 564.4 95.1 561.4 95.1 557.4 95.2 556.8 95.2 562.4 95.3 551.1 95.3 562.2 95.3 554.6 95.4 554.7 95.4 553.7 95.5 560.5 95.5 558.7 95.5 568.7 95.6 570.2 95.6 564.4 95.6 558.0 95.7 556.4 95.7 562.1 95.8 556.5 95.8 558.7 95.8 554.2 95.9 569.4 95.9 565.4 96.0 566.3 96.0 566.5 96.0 553.5 96.1 565.9 96.1 565.7 96.1 563.4 96.2 557.3 96.2 563.7 96.3 558.0 96.3 558.9 96.3 564.8 96.4 572.8 96.4 566.2 96.5 567.5 96.5 553.6 96.5 565.0 96.6 566.9 96.6 559.8 96.6 561.4 96.7 566.1 96.7 556.3 96.8 557.2 96.8 560.3 96.8 565.3 96.9 566.0 96.9 571.5 97.0 559.8 97.0 559.8 97.0 566.3 97.1 561.5 97.1 567.1 97.1 570.2 97.2 558.7 97.2 563.9 97.3 564.1 97.3 558.7 97.3 562.3 97.4 556.8 97.4 559.2 97.5 556.0 97.5 561.1 97.5 572.5 97.6 555.2 97.6 570.3 97.6 556.7 97.7 560.5 97.7 568.4 97.8 561.5 97.8 557.5 97.8 566.9 97.9 561.6 97.9 565.5 98.0 566.6 98.0 564.9 98.0 555.6 98.1 558.4 98.1 561.9 98.1 562.3 98.2 561.2 98.2 560.4 98.3 560.9 98.3 570.5 98.3 557.4 98.4 566.2 98.4 574.5 98.5 558.4 98.5 567.7 98.5 562.6 98.6 562.3 98.6 564.9 98.6 559.3 98.7 563.3 98.7 563.2 98.8 566.7 98.8 563.2 98.8 567.2 98.9 561.7 98.9 555.3 99.0 557.0 99.0 559.8 99.0 568.6 99.1 556.8 99.1 557.4 99.1 551.6 99.2 572.9 99.2 561.9 99.3 563.6 99.3 556.5 99.3 567.3 99.4 563.9 99.4 550.6 99.5 557.0 99.5 571.7 99.5 561.9 99.6 555.3 99.6 565.2 99.7 559.1 99.7 561.5 99.7 569.2 99.8 565.2 99.8 556.4 99.8 556.0 99.9 565.0 99.9 556.3 100.0 565.5 100.0 560.8 100.0 562.1 100.1 568.4 100.1 560.5 100.2 564.1 100.2 575.6 100.2 566.3 100.3 566.2 100.3 566.4 100.3 566.9 100.4 565.6 100.4 574.2 100.5 557.6 100.5 561.7 100.5 560.8 100.6 563.4 100.6 561.8 100.7 563.4 100.7 567.7 100.7 569.6 100.8 561.8 100.8 557.1 100.8 561.0 100.9 554.1 100.9 569.2 101.0 563.5 101.0 565.4 101.0 556.0 101.1 553.5 101.1 564.8 101.2 558.4 101.2 563.4 101.2 567.3 101.3 562.7 101.3 567.6 101.3 554.5 101.4 559.2 101.4 556.3 101.5 560.4 101.5 574.4 101.5 558.1 101.6 561.8 101.6 574.5 101.7 561.7 101.7 557.0 101.7 553.7 101.8 567.5 101.8 558.3 101.8 560.6 101.9 563.1 101.9 563.7 102.0 559.6 102.0 559.3 102.0 559.0 102.1 564.4 102.1 568.9 102.2 555.5 102.2 555.8 102.2 565.2 102.3 562.5 102.3 558.1 102.3 571.2 102.4 559.7 102.4 550.1 102.5 560.9 102.5 565.9 102.5 551.7 102.6 562.3 102.6 561.3 102.7 564.5 102.7 561.4 102.7 571.4 102.8 569.0 102.8 569.8 102.8 557.7 102.9 562.8 102.9 556.4 103.0 572.7 103.0 565.5 103.0 555.0 103.1 566.5 103.1 571.9 103.2 566.3 103.2 564.2 103.2 562.5 103.3 555.8 103.3 555.5 103.3 554.5 103.4 559.4 103.4 565.0 103.5 565.0 103.5 570.0 103.5 555.8 103.6 556.1 103.6 562.0 103.7 567.0 103.7 558.9 103.7 560.0 103.8 561.7 103.8 568.4 103.9 561.2 103.9 565.4 103.9 558.6 104.0 559.4 104.0 560.2 104.0 564.7 104.1 554.5 104.1 558.5 104.2 555.9 104.2 558.2 104.2 559.0 104.3 560.5 104.3 568.2 104.4 571.9 104.4 567.5 104.4 559.4 104.5 557.8 104.5 561.6 104.5 562.1 104.6 553.1 104.6 564.7 104.7 571.7 104.7 570.7 104.7 564.2 104.8 558.9 104.8 558.8 104.9 563.8 104.9 558.4 104.9 562.8 105.0 566.3 105.0 564.6 105.0 558.7 105.1 557.6 105.1 568.4 105.2 567.8 105.2 562.0 105.2 551.4 105.3 568.7 105.3 569.3 105.4 560.5 105.4 559.9 105.4 565.8 105.5 562.8 105.5 560.1 105.5 571.9 105.6 562.8 105.6 559.5 105.7 557.9 105.7 556.5 105.7 563.0 105.8 570.3 105.8 555.7 105.9 558.6 105.9 566.0 105.9 557.2 106.0 557.3 106.0 563.4 106.0 575.0 106.1 565.2 106.1 566.6 106.2 567.2 106.2 563.1 106.2 568.5 106.3 560.7 106.3 552.7 106.4 568.9 106.4 557.2 106.4 565.5 106.5 559.8 106.5 563.4 106.5 555.9 106.6 566.5 106.6 558.8 106.7 566.8 106.7 561.5 106.7 562.8 106.8 557.0 106.8 571.0 106.9 570.0 106.9 555.5 106.9 560.7 107.0 553.9 107.0 568.3 107.0 561.7 107.1 559.6 107.1 553.5 107.2 563.1 107.2 565.2 107.2 559.0 107.3 563.4 107.3 566.8 107.4 558.8 107.4 573.0 107.4 568.2 107.5 555.5 107.5 565.5 107.5 564.6 107.6 560.9 107.6 556.8 107.7 560.1 107.7 568.0 107.7 565.8 107.8 557.2 107.8 563.5 107.9 566.3 107.9 558.3 107.9 556.7 108.0 551.4 108.0 568.7 108.0 566.6 108.1 566.6 108.1 561.0 108.2 565.5 108.2 557.0 108.2 577.4 108.3 557.8 108.3 566.4 108.4 564.4 108.4 559.9 108.4 561.8 108.5 568.4 108.5 555.0 108.6 559.8 108.6 565.5 108.6 561.8 108.7 568.8 108.7 569.6 108.7 564.5 108.8 561.0 108.8 562.4 108.9 567.2 108.9 570.3 108.9 572.0 109.0 554.5 109.0 561.0 109.1 567.2 109.1 556.6 109.1 560.1 109.2 565.2 109.2 566.3 109.2 556.8 109.3 561.3 109.3 554.1 109.4 561.1 109.4 566.2 109.4 566.2 109.5 566.8 109.5 561.7 109.6 561.6 109.6 559.8 109.6 560.6 109.7 568.6 109.7 564.1 109.7 568.1 109.8 560.4 109.8 570.1 109.9 566.2 109.9 567.6 109.9 566.4 110.0 564.4 110.0 554.8 110.1 564.4 110.1 570.9 110.1 564.7 110.2 559.0 110.2 560.1 110.2 561.8 110.3 552.4 110.3 557.0 110.4 562.6 110.4 556.5 110.4 570.3 110.5 564.0 110.5 567.8 110.6 562.1 110.6 554.4 110.6 565.8 110.7 554.5 110.7 568.7 110.7 555.4 110.8 572.4 110.8 567.7 110.9 557.7 110.9 563.6 110.9 562.3 111.0 563.2 111.0 562.2 111.1 564.1 111.1 568.5 111.1 564.7 111.2 562.5 111.2 568.0 111.2 560.6 111.3 553.6 111.3 572.2 111.4 566.1 111.4 564.7 111.4 563.1 111.5 562.7 111.5 567.1 111.6 563.4 111.6 563.2 111.6 563.7 111.7 554.8 111.7 562.5 111.7 571.2 111.8 571.8 111.8 560.0 111.9 565.1 111.9 566.6 111.9 570.7 112.0 564.9 112.0 563.7 112.1 567.0 112.1 565.2 112.1 558.4 112.2 558.9 112.2 560.3 112.2 564.2 112.3 570.6 112.3 559.0 112.4 555.1 112.4 556.2 112.4 556.9 112.5 561.7 112.5 561.2 112.6 563.3 112.6 556.4 112.6 564.8 112.7 551.6 112.7 559.0 112.7 565.0 112.8 563.3 112.8 572.1 112.9 567.3 112.9 564.9 112.9 549.7 113.0 567.8 113.0 558.2 113.1 562.9 113.1 565.0 113.1 559.9 113.2 574.4 113.2 558.1 113.3 552.6 113.3 561.7 113.3 563.7 113.4 562.5 113.4 559.7 113.4 566.0 113.5 562.7 113.5 560.6 113.6 565.3 113.6 561.2 113.6 561.5 113.7 559.4 113.7 568.9 113.8 566.3 113.8 565.7 113.8 556.8 113.9 562.0 113.9 572.5 113.9 570.5 114.0 552.7 114.0 561.5 114.1 570.5 114.1 568.5 114.1 562.6 114.2 555.4 114.2 554.5 114.3 565.4 114.3 565.1 114.3 552.7 114.4 568.8 114.4 554.7 114.4 561.5 114.5 562.9 114.5 556.3 114.6 560.7 114.6 568.1 114.6 572.0 114.7 563.3 114.7 560.6 114.8 555.9 114.8 578.1 114.8 556.0 114.9 560.0 114.9 555.0 114.9 559.0 115.0 562.3 115.0 561.0 115.1 561.2 115.1 567.0 115.1 564.1 115.2 562.7 115.2 566.0 115.3 571.7 115.3 571.5 115.3 560.6 115.4 560.6 115.4 562.9 115.4 570.0 115.5 558.7 115.5 565.7 115.6 575.2 115.6 554.8 115.6 571.9 115.7 550.9 115.7 560.5 115.8 566.0 115.8 576.8 115.8 567.5 115.9 555.1 115.9 555.9 115.9 562.1 116.0 573.1 116.0 565.7 116.1 565.1 116.1 560.9 116.1 564.2 116.2 561.6 116.2 572.7 116.3 567.2 116.3 555.5 116.3 571.8 116.4 558.4 116.4 550.5 116.4 559.9 116.5 571.4 116.5 556.6 116.6 574.1 116.6 561.7 116.6 565.9 116.7 556.6 116.7 556.9 116.8 562.5 116.8 553.4 116.8 558.1 116.9 566.3 116.9 569.1 116.9 549.6 117.0 565.9 117.0 561.3 117.1 564.3 117.1 566.3 117.1 572.7 117.2 564.4 117.2 564.3 117.3 558.0 117.3 566.5 117.3 572.6 117.4 569.7 117.4 563.9 117.4 562.2 117.5 559.5 117.5 565.8 117.6 560.6 117.6 562.8 117.6 554.0 117.7 564.0 117.7 562.8 117.8 560.4 117.8 556.7 117.8 568.9 117.9 566.4 117.9 565.2 118.0 575.9 118.0 556.3 118.0 557.5 118.1 563.5 118.1 556.4 118.1 552.1 118.2 554.7 118.2 558.5 118.3 571.8 118.3 554.9 118.3 561.3 118.4 570.6 118.4 563.4 118.5 559.4 118.5 558.1 118.5 562.7 118.6 566.7 118.6 559.3 118.6 568.1 118.7 564.2 118.7 559.4 118.8 572.0 118.8 561.6 118.8 575.0 118.9 569.0 118.9 570.8 119.0 564.2 119.0 559.6 119.0 564.0 119.1 558.5 119.1 563.2 119.1 564.9 119.2 560.9 119.2 565.1 119.3 563.0 119.3 557.7 119.3 567.0 119.4 557.1 119.4 570.1 119.5 565.0 119.5 573.8 119.5 566.8 119.6 554.6 119.6 561.7 119.6 556.5 119.7 572.3 119.7 569.6 119.8 561.1 119.8 559.0 119.8 558.9 119.9 573.5 119.9 560.8 120.0 564.2 120.0 563.1 120.0 561.1 120.1 565.4 120.1 573.6 120.1 570.0 120.2 572.2 120.2 571.5 120.3 564.6 120.3 556.2 120.3 568.0 120.4 568.3 120.4 570.5 120.5 573.9 120.5 563.4 120.5 566.7 120.6 565.2 120.6 569.5 120.6 561.0 120.7 570.9 120.7 560.7 120.8 567.7 120.8 559.3 120.8 569.1 120.9 561.3 120.9 561.3 121.0 564.3 121.0 554.3 121.0 562.8 121.1 569.1 121.1 559.8 121.1 568.7 121.2 567.0 121.2 563.8 121.3 562.8 121.3 553.9 121.3 574.1 121.4 565.4 121.4 557.3 121.5 564.8 121.5 562.0 121.5 554.9 121.6 571.1 121.6 563.6 121.6 559.3 121.7 567.4 121.7 574.2 121.8 569.8 121.8 562.8 121.8 562.8 121.9 553.1 121.9 556.1 122.0 573.0 122.0 557.8 122.0 558.6 122.1 554.3 122.1 564.8 122.1 567.2 122.2 563.1 122.2 554.8 122.3 560.3 122.3 553.9 122.3 559.3 122.4 567.4 122.4 569.9 122.5 553.0 122.5 572.9 122.5 566.0 122.6 565.8 122.6 569.4 122.7 567.3 122.7 563.9 122.7 550.0 122.8 564.4 122.8 567.1 122.8 563.2 122.9 558.4 122.9 568.8 123.0 566.4 123.0 574.4 123.0 559.8 123.1 559.9 123.1 555.1 123.2 571.1 123.2 551.1 123.2 558.8 123.3 565.6 123.3 566.3 123.3 565.8 123.4 571.3 123.4 559.4 123.5 567.6 123.5 568.3 123.5 560.9 123.6 563.4 123.6 567.5 123.7 565.4 123.7 567.0 123.7 556.0 123.8 558.0 123.8 568.4 123.8 564.3 123.9 555.9 123.9 565.8 124.0 553.4 124.0 561.4 124.0 560.1 124.1 576.5 124.1 559.0 124.2 562.0 124.2 560.6 124.2 561.2 124.3 560.9 124.3 567.1 124.3 558.7 124.4 563.7 124.4 570.3 124.5 570.2 124.5 563.1 124.5 562.1 124.6 577.3 124.6 576.5 124.7 557.8 124.7 564.2 124.7 547.0 124.8 573.3 124.8 565.6 124.8 567.7 124.9 560.8 124.9 555.6 125.0 554.4 125.0 570.2 125.0 556.7 125.1 571.5 125.1 562.3 125.2 563.1 125.2 560.4 125.2 569.0 125.3 556.1 125.3 564.5 125.3 564.2 125.4 565.7 125.4 570.5 125.5 559.8 125.5 562.1 125.5 561.4 125.6 552.9 125.6 569.4 125.7 565.9 125.7 564.1 125.7 559.0 125.8 565.2 125.8 558.5 125.8 561.4 125.9 574.8 125.9 568.3 126.0 576.4 126.0 565.9 126.0 566.7 126.1 560.6 126.1 563.1 126.2 564.6 126.2 556.5 126.2 560.5 126.3 571.6 126.3 568.4 126.3 562.2 126.4 553.8 126.4 565.4 126.5 565.2 126.5 562.6 126.5 559.4 126.6 564.7 126.6 562.4 126.7 566.8 126.7 567.6 126.7 569.0 126.8 560.2 126.8 567.6 126.8 560.8 126.9 561.7 126.9 558.2 127.0 580.6 127.0 570.1 127.0 571.6 127.1 565.2 127.1 559.3 127.2 548.7 127.2 554.8 127.2 555.9 127.3 561.9 127.3 566.6 127.4 561.0 127.4 577.6 127.4 558.5 127.5 564.2 127.5 560.5 127.5 570.6 127.6 570.9 127.6 568.2 127.7 564.5 127.7 562.1 127.7 566.4 127.8 562.1 127.8 560.1 127.9 571.4 127.9 564.9 127.9 573.9 128.0 567.6 128.0 558.7 128.0 568.7 128.1 552.8 128.1 561.2 128.2 558.8 128.2 563.6 128.2 558.9 128.3 557.6 128.3 563.6 128.4 567.5 128.4 567.7 128.4 552.4 128.5 565.4 128.5 567.1 128.5 568.7 128.6 574.7 128.6 567.4 128.7 562.3 128.7 567.3 128.7 569.0 128.8 561.8 128.8 561.5 128.9 567.0 128.9 562.4 128.9 570.4 129.0 559.0 129.0 570.4 129.0 566.4 129.1 563.5 129.1 566.9 129.2 571.4 129.2 551.3 129.2 554.9 129.3 575.1 129.3 563.6 129.4 572.2 129.4 562.4 129.4 572.4 129.5 560.7 129.5 561.0 129.5 553.7 129.6 556.9 129.6 567.2 129.7 558.5 129.7 567.2 129.7 565.1 129.8 567.5 129.8 575.3 129.9 560.6 129.9 577.0 129.9 565.8 130.0 561.1 130.0 563.7 130.0 574.2 130.1 568.4 130.1 560.1 130.2 557.5 130.2 554.4 130.2 575.7 130.3 561.5 130.3 567.4 130.4 559.6 130.4 575.0 130.4 565.3 130.5 560.0 130.5 568.4 130.5 566.7 130.6 570.5 130.6 557.4 130.7 572.7 130.7 570.1 130.7 566.5 130.8 566.4 130.8 551.2 130.9 562.7 130.9 569.6 130.9 560.8 131.0 562.3 131.0 562.6 131.0 564.8 131.1 561.5 131.1 571.8 131.2 572.0 131.2 567.1 131.2 571.4 131.3 560.0 131.3 552.2 131.4 556.7 131.4 561.6 131.4 562.3 131.5 568.8 131.5 572.6 131.5 561.0 131.6 573.8 131.6 562.5 131.7 565.3 131.7 559.7 131.7 564.1 131.8 563.8 131.8 568.1 131.9 575.4 131.9 566.6 131.9 560.1 132.0 557.9 132.0 555.7 132.1 570.7 132.1 570.4 132.1 560.0 132.2 567.3 132.2 548.2 132.2 562.5 132.3 574.1 132.3 568.0 132.4 554.6 132.4 576.1 132.4 563.5 132.5 573.3 132.5 554.4 132.6 567.3 132.6 571.0 132.6 575.4 132.7 569.0 132.7 580.8 132.7 567.5 132.8 550.6 132.8 563.9 132.9 566.2 132.9 571.9 132.9 562.3 133.0 567.5 133.0 569.9 133.1 555.7 133.1 561.7 133.1 570.2 133.2 555.1 133.2 564.9 133.2 561.3 133.3 563.6 133.3 557.0 133.4 560.6 133.4 566.8 133.4 560.0 133.5 567.0 133.5 563.7 133.6 554.0 133.6 571.3 133.6 571.2 133.7 567.1 133.7 567.7 133.7 556.2 133.8 574.7 133.8 549.9 133.9 554.4 133.9 567.4 133.9 563.4 134.0 566.9 134.0 560.3 134.1 560.3 134.1 559.7 134.1 559.7 134.2 552.2 134.2 565.7 134.2 560.1 134.3 565.8 134.3 564.3 134.4 563.2 134.4 564.9 134.4 562.4 134.5 570.1 134.5 565.6 134.6 568.5 134.6 572.1 134.6 569.1 134.7 567.8 134.7 565.6 134.7 574.6 134.8 566.3 134.8 571.9 134.9 569.9 134.9 563.4 134.9 557.4 135.0 562.8 135.0 567.8 135.1 567.4 135.1 556.0 135.1 575.1 135.2 557.2 135.2 574.3 135.2 568.7 135.3 564.3 135.3 566.1 135.4 553.9 135.4 561.4 135.4 564.9 135.5 558.4 135.5 564.4 135.6 569.8 135.6 557.4 135.6 554.9 135.7 556.4 135.7 572.2 135.7 552.3 135.8 567.3 135.8 559.7 135.9 556.9 135.9 549.3 135.9 575.1 136.0 571.2 136.0 557.0 136.1 561.5 136.1 566.7 136.1 583.6 136.2 561.8 136.2 565.9 136.3 581.6 136.3 547.4 136.3 580.9 136.4 568.3 136.4 564.7 136.4 563.2 136.5 559.8 136.5 566.4 136.6 570.5 136.6 567.0 136.6 578.3 136.7 571.9 136.7 551.9 136.8 569.1 136.8 565.2 136.8 552.4 136.9 557.9 136.9 563.9 136.9 559.9 137.0 566.4 137.0 570.6 137.1 558.2 137.1 563.8 137.1 554.3 137.2 566.4 137.2 567.1 137.3 562.5 137.3 565.9 137.3 566.7 137.4 570.5 137.4 563.1 137.4 562.6 137.5 552.8 137.5 564.9 137.6 576.1 137.6 561.7 137.6 549.9 137.7 567.6 137.7 569.9 137.8 565.8 137.8 583.3 137.8 566.9 137.9 565.9 137.9 574.5 137.9 561.0 138.0 570.4 138.0 576.7 138.1 569.4 138.1 560.6 138.1 552.3 138.2 556.6 138.2 563.5 138.3 568.1 138.3 566.4 138.3 558.5 138.4 568.1 138.4 562.0 138.4 558.5 138.5 570.6 138.5 568.6 138.6 561.8 138.6 564.7 138.6 565.6 138.7 568.2 138.7 565.2 138.8 552.7 138.8 555.9 138.8 575.2 138.9 564.5 138.9 564.2 138.9 564.5 139.0 573.7 139.0 565.6 139.1 563.8 139.1 569.2 139.1 562.7 139.2 580.6 139.2 574.5 139.3 564.1 139.3 562.2 139.3 565.9 139.4 567.8 139.4 563.6 139.4 557.8 139.5 558.9 139.5 565.3 139.6 567.8 139.6 557.9 139.6 561.3 139.7 559.1 139.7 566.6 139.8 570.4 139.8 563.6 139.8 568.9 139.9 557.3 139.9 559.3 139.9 579.0 140.0 560.5 140.0 556.1 140.1 558.1 140.1 567.9 140.1 570.4 140.2 558.5 140.2 558.2 140.3 564.4 140.3 572.3 140.3 574.7 140.4 563.1 140.4 570.2 140.4 569.2 140.5 561.9 140.5 558.0 140.6 578.2 140.6 569.2 140.6 556.4 140.7 565.1 140.7 567.1 140.8 560.7 140.8 572.2 140.8 572.8 140.9 564.7 140.9 554.7 141.0 558.2 141.0 564.9 141.0 558.3 141.1 567.5 141.1 572.5 141.1 575.7 141.2 563.1 141.2 559.0 141.3 562.4 141.3 565.1 141.3 567.5 141.4 557.8 141.4 565.2 141.5 574.2 141.5 556.0 141.5 569.1 141.6 562.3 141.6 564.8 141.6 558.0 141.7 563.3 141.7 556.9 141.8 563.5 141.8 567.9 141.8 568.2 141.9 560.6 141.9 570.3 142.0 558.8 142.0 566.4 142.0 570.9 142.1 570.5 142.1 565.8 142.1 553.4 142.2 559.9 142.2 564.8 142.3 570.8 142.3 552.5 142.3 566.7 142.4 564.9 142.4 567.7 142.5 556.2 142.5 563.8 142.5 567.9 142.6 563.7 142.6 571.4 142.6 571.8 142.7 566.0 142.7 583.6 142.8 557.3 142.8 552.0 142.8 572.1 142.9 565.8 142.9 575.2 143.0 563.8 143.0 563.5 143.0 560.1 143.1 573.6 143.1 568.8 143.1 569.1 143.2 566.5 143.2 550.1 143.3 566.2 143.3 565.2 143.3 568.2 143.4 559.8 143.4 548.3 143.5 557.4 143.5 555.0 143.5 571.9 143.6 558.1 143.6 564.8 143.6 556.8 143.7 558.1 143.7 560.7 143.8 575.8 143.8 564.1 143.8 568.2 143.9 562.0 143.9 564.7 144.0 558.1 144.0 575.4 144.0 569.8 144.1 565.4 144.1 562.9 144.1 567.6 144.2 565.1 144.2 564.6 144.3 558.1 144.3 565.7 144.3 563.4 144.4 576.8 144.4 582.0 144.5 574.5 144.5 562.6 144.5 579.9 144.6 562.3 144.6 565.6 144.6 565.0 144.7 569.7 144.7 567.7 144.8 559.6 144.8 562.7 144.8 565.1 144.9 568.2 144.9 563.6 145.0 557.2 145.0 565.1 145.0 567.4 145.1 572.7 145.1 564.3 145.1 571.0 145.2 574.4 145.2 559.3 145.3 569.1 145.3 578.2 145.3 569.7 145.4 553.0 145.4 565.7 145.5 573.6 145.5 572.2 145.5 560.3 145.6 562.4 145.6 563.6 145.7 566.3 145.7 561.9 145.7 555.0 145.8 561.8 145.8 566.1 145.8 574.1 145.9 562.1 145.9 554.8 146.0 560.8 146.0 573.2 146.0 563.8 146.1 556.6 146.1 569.2 146.2 561.8 146.2 557.1 146.2 554.4 146.3 575.4 146.3 576.4 146.3 562.6 146.4 560.5 146.4 567.3 146.5 565.2 146.5 567.7 146.5 557.2 146.6 579.5 146.6 563.4 146.7 573.4 146.7 569.5 146.7 575.0 146.8 571.0 146.8 565.2 146.8 564.9 146.9 553.4 146.9 566.5 147.0 562.8 147.0 562.7 147.0 563.4 147.1 555.5 147.1 564.2 147.2 564.1 147.2 565.8 147.2 565.0 147.3 565.4 147.3 558.6 147.3 564.9 147.4 564.6 147.4 565.4 147.5 560.1 147.5 568.1 147.5 559.0 147.6 568.8 147.6 560.6 147.7 552.5 147.7 563.6 147.7 565.6 147.8 572.8 147.8 560.3 147.8 565.0 147.9 559.1 147.9 569.4 148.0 561.7 148.0 553.3 148.0 562.5 148.1 567.2 148.1 573.6 148.2 565.1 148.2 560.8 148.2 561.2 148.3 572.4 148.3 571.8 148.3 571.5 148.4 571.8 148.4 566.9 148.5 563.4 148.5 552.5 148.5 563.8 148.6 555.6 148.6 575.9 148.7 555.0 148.7 559.9 148.7 562.2 148.8 559.7 148.8 561.1 148.8 552.6 148.9 559.8 148.9 576.5 149.0 576.5 149.0 554.6 149.0 565.7 149.1 556.5 149.1 567.4 149.2 569.4 149.2 567.4 149.2 563.1 149.3 563.9 149.3 569.2 149.3 561.6 149.4 561.1 149.4 571.1 149.5 572.4 149.5 578.0 149.5 567.1 149.6 565.1 149.6 569.7 149.7 569.1 149.7 566.0 149.7 564.9 149.8 561.4 149.8 559.7 149.8 562.3 149.9 557.8 149.9 571.5 150.0 561.2 150.0 562.7 150.0 572.0 150.1 569.6 150.1 562.2 150.2 564.7 150.2 573.4 150.2 568.8 150.3 555.2 150.3 559.6 150.4 564.6 150.4 556.3 150.4 571.1 150.5 566.3 150.5 558.9 150.5 567.4 150.6 572.5 150.6 561.3 150.7 554.7 150.7 581.8 150.7 564.2 150.8 573.3 150.8 567.1 150.9 574.4 150.9 548.2 150.9 569.6 151.0 564.9 151.0 569.8 151.0 571.7 151.1 568.2 151.1 563.8 151.2 553.7 151.2 563.3 151.2 554.9 151.3 572.2 151.3 564.7 151.4 568.0 151.4 575.4 151.4 566.8 151.5 563.6 151.5 570.1 151.5 569.0 151.6 572.0 151.6 558.5 151.7 567.8 151.7 566.1 151.7 564.0 151.8 573.2 151.8 563.7 151.9 566.3 151.9 562.3 151.9 567.7 152.0 564.9 152.0 561.8 152.0 558.9 152.1 569.7 152.1 558.8 152.2 571.7 152.2 566.4 152.2 564.4 152.3 564.3 152.3 581.6 152.4 571.6 152.4 566.4 152.4 559.2 152.5 569.8 152.5 555.3 152.5 577.0 152.6 564.7 152.6 561.7 152.7 565.1 152.7 563.5 152.7 559.1 152.8 570.5 152.8 561.4 152.9 558.3 152.9 566.8 152.9 580.4 153.0 573.0 153.0 570.8 153.0 572.2 153.1 562.4 153.1 570.5 153.2 549.0 153.2 561.5 153.2 573.8 153.3 567.1 153.3 555.2 153.4 560.8 153.4 571.9 153.4 558.5 153.5 568.4 153.5 550.8 153.5 568.9 153.6 561.3 153.6 561.6 153.7 568.2 153.7 566.3 153.7 557.7 153.8 562.0 153.8 565.6 153.9 562.3 153.9 553.8 153.9 559.2 154.0 562.1 154.0 563.1 154.0 575.5 154.1 564.4 154.1 568.4 154.2 560.5 154.2 569.2 154.2 562.3 154.3 572.1 154.3 559.4 154.4 570.0 154.4 565.5 154.4 561.5 154.5 567.4 154.5 565.2 154.5 558.3 154.6 553.7 154.6 577.1 154.7 571.2 154.7 560.9 154.7 559.1 154.8 568.4 154.8 564.7 154.9 566.5 154.9 550.4 154.9 566.6 155.0 573.1 155.0 575.4 155.1 573.6 155.1 556.8 155.1 567.8 155.2 552.5 155.2 561.1 155.2 562.8 155.3 561.1 155.3 560.1 155.4 559.3 155.4 571.7 155.4 568.9 155.5 568.9 155.5 564.6 155.6 566.9 155.6 573.4 155.6 569.8 155.7 553.6 155.7 551.4 155.7 570.9 155.8 562.8 155.8 565.5 155.9 570.8 155.9 560.6 155.9 565.8 156.0 554.4 156.0 562.3 156.1 567.3 156.1 582.6 156.1 566.0 156.2 559.8 156.2 570.0 156.2 559.5 156.3 560.9 156.3 576.9 156.4 566.6 156.4 563.2 156.4 560.4 156.5 564.3 156.5 565.4 156.6 567.6 156.6 567.2 156.6 565.3 156.7 572.3 156.7 561.1 156.7 567.5 156.8 561.9 156.8 568.6 156.9 562.6 156.9 564.5 156.9 559.5 157.0 562.3 157.0 559.2 157.1 566.4 157.1 565.7 157.1 567.1 157.2 573.5 157.2 566.2 157.2 558.2 157.3 560.3 157.3 570.9 157.4 563.4 157.4 560.4 157.4 574.2 157.5 563.1 157.5 563.2 157.6 560.5 157.6 563.7 157.6 576.7 157.7 578.5 157.7 552.4 157.7 567.9 157.8 557.0 157.8 557.1 157.9 564.8 157.9 572.8 157.9 556.4 158.0 565.6 158.0 562.0 158.1 562.2 158.1 559.1 158.1 558.8 158.2 574.7 158.2 574.6 158.2 564.4 158.3 565.3 158.3 560.3 158.4 566.3 158.4 566.6 158.4 552.1 158.5 556.4 158.5 557.8 158.6 558.6 158.6 570.5 158.6 565.9 158.7 565.8 158.7 572.5 158.7 571.1 158.8 564.3 158.8 573.3 158.9 561.8 158.9 562.3 158.9 566.9 159.0 567.6 159.0 561.4 159.1 562.3 159.1 563.0 159.1 573.4 159.2 576.0 159.2 552.0 159.2 569.7 159.3 567.8 159.3 577.3 159.4 570.6 159.4 570.2 159.4 560.2 159.5 582.7 159.5 574.5 159.6 568.1 159.6 568.6 159.6 570.5 159.7 568.3 159.7 575.7 159.8 563.7 159.8 557.6 159.8 564.4 159.9 568.9 159.9 557.2 159.9 562.2 160.0 572.1 160.0 569.2 160.1 569.4 160.1 565.7 160.1 557.5 160.2 570.0 160.2 566.4 160.3 564.7 160.3 573.2 160.3 568.5 160.4 561.4 160.4 558.0 160.4 577.6 160.5 560.8 160.5 567.3 160.6 557.0 160.6 561.4 160.6 552.5 160.7 563.4 160.7 568.0 160.8 570.8 160.8 574.8 160.8 561.8 160.9 562.1 160.9 560.1 160.9 563.1 161.0 575.2 161.0 568.1 161.1 567.0 161.1 564.4 161.1 560.4 161.2 556.2 161.2 563.6 161.3 578.9 161.3 572.1 161.3 579.4 161.4 570.4 161.4 573.3 161.4 563.9 161.5 566.9 161.5 558.2 161.6 558.4 161.6 568.4 161.6 559.3 161.7 565.4 161.7 562.5 161.8 556.7 161.8 573.0 161.8 565.9 161.9 555.4 161.9 570.4 161.9 564.0 162.0 564.6 162.0 568.2 162.1 574.0 162.1 569.9 162.1 571.8 162.2 558.4 162.2 563.8 162.3 560.9 162.3 573.2 162.3 562.2 162.4 564.5 162.4 558.6 162.4 570.2 162.5 560.2 162.5 556.6 162.6 553.7 162.6 571.5 162.6 572.8 162.7 575.0 162.7 559.2 162.8 561.6 162.8 563.2 162.8 571.1 162.9 557.3 162.9 555.1 162.9 565.7 163.0 566.3 163.0 557.7 163.1 562.2 163.1 556.7 163.1 568.1 163.2 563.3 163.2 567.7 163.3 569.2 163.3 567.4 163.3 567.3 163.4 562.2 163.4 567.5 163.4 565.0 163.5 570.8 163.5 573.4 163.6 556.1 163.6 571.9 163.6 553.6 163.7 559.4 163.7 580.5 163.8 569.6 163.8 568.2 163.8 565.4 163.9 566.7 163.9 569.4 164.0 557.3 164.0 566.3 164.0 559.2 164.1 569.9 164.1 570.0 164.1 556.9 164.2 567.3 164.2 572.6 164.3 566.6 164.3 558.7 164.3 566.6 164.4 570.2 164.4 561.3 164.5 559.1 164.5 566.9 164.5 567.6 164.6 567.9 164.6 548.0 164.6 566.7 164.7 554.2 164.7 566.5 164.8 562.9 164.8 578.8 164.8 564.4 164.9 565.2 164.9 567.6 165.0 568.2 165.0 574.4 165.0 575.3 165.1 564.4 165.1 569.7 165.1 566.1 165.2 566.7 165.2 568.8 165.3 570.3 165.3 553.5 165.3 572.7 165.4 568.8 165.4 567.5 165.5 573.0 165.5 571.8 165.5 559.9 165.6 559.4 165.6 564.7 165.6 560.2 165.7 557.5 165.7 570.8 165.8 558.4 165.8 554.6 165.8 568.0 165.9 553.8 165.9 570.8 166.0 572.9 166.0 565.8 166.0 570.8 166.1 561.4 166.1 572.7 166.1 565.0 166.2 578.2 166.2 565.7 166.3 558.7 166.3 567.3 166.3 563.5 166.4 558.4 166.4 572.6 166.5 573.9 166.5 565.0 166.5 563.7 166.6 567.3 166.6 571.9 166.6 557.7 166.7 573.1 166.7 567.2 166.8 565.8 166.8 560.9 166.8 568.5 166.9 570.9 166.9 552.4 167.0 571.0 167.0 560.3 167.0 566.6 167.1 568.7 167.1 565.8 167.1 567.2 167.2 563.6 167.2 582.2 167.3 565.7 167.3 565.1 167.3 571.9 167.4 568.1 167.4 550.4 167.5 553.5 167.5 561.4 167.5 564.0 167.6 567.5 167.6 556.5 167.6 568.5 167.7 570.9 167.7 561.1 167.8 571.9 167.8 570.7 167.8 556.1 167.9 576.0 167.9 566.0 168.0 564.8 168.0 563.9 168.0 575.0 168.1 567.0 168.1 567.7 168.1 553.0 168.2 559.1 168.2 570.5 168.3 559.9 168.3 561.3 168.3 566.3 168.4 567.2 168.4 567.4 168.5 575.7 168.5 569.7 168.5 559.5 168.6 556.3 168.6 553.5 168.7 568.0 168.7 561.5 168.7 581.1 168.8 567.3 168.8 573.8 168.8 560.2 168.9 576.3 168.9 572.4 169.0 572.7 169.0 563.0 169.0 560.2 169.1 571.6 169.1 553.9 169.2 564.5 169.2 571.0 169.2 563.3 169.3 565.7 169.3 560.1 169.3 563.4 169.4 551.3 169.4 558.1 169.5 569.8 169.5 560.5 169.5 560.6 169.6 572.1 169.6 570.5 169.7 570.8 169.7 581.7 169.7 561.5 169.8 567.0 169.8 557.7 169.8 569.2 169.9 565.1 169.9 560.8 170.0 559.4 170.0 563.5 170.0 572.3 170.1 551.2 170.1 560.0 170.2 556.7 170.2 555.2 170.2 556.4 170.3 562.9 170.3 562.5 170.3 561.5 170.4 575.4 170.4 560.4 170.5 572.0 170.5 562.9 170.5 572.2 170.6 561.0 170.6 568.8 170.7 549.6 170.7 564.3 170.7 562.4 170.8 571.5 170.8 567.5 170.8 566.0 170.9 567.5 170.9 568.4 171.0 571.3 171.0 560.6 171.0 568.1 171.1 570.9 171.1 563.3 171.2 570.9 171.2 566.8 171.2 568.9 171.3 571.6 171.3 567.1 171.3 571.0 171.4 573.8 171.4 563.4 171.5 567.5 171.5 575.1 171.5 568.2 171.6 564.4 171.6 562.8 171.7 563.2 171.7 564.0 171.7 561.8 171.8 568.8 171.8 570.8 171.8 561.6 171.9 568.3 171.9 565.5 172.0 561.5 172.0 559.5 172.0 557.8 172.1 570.1 172.1 568.0 172.2 562.0 172.2 574.9 172.2 573.8 172.3 561.7 172.3 569.6 172.3 571.6 172.4 560.4 172.4 562.2 172.5 559.6 172.5 567.8 172.5 567.5 172.6 567.9 172.6 563.7 172.7 578.8 172.7 570.1 172.7 561.1 172.8 570.7 172.8 566.1 172.8 564.8 172.9 562.3 172.9 568.7 173.0 573.0 173.0 549.4 173.0 570.3 173.1 554.5 173.1 577.0 173.2 564.9 173.2 566.9 173.2 553.3 173.3 552.5 173.3 559.3 173.4 572.2 173.4 570.9 173.4 570.5 173.5 569.0 173.5 564.0 173.5 570.8 173.6 567.3 173.6 556.0 173.7 556.4 173.7 577.8 173.7 571.8 173.8 568.1 173.8 557.3 173.9 567.8 173.9 553.4 173.9 563.3 174.0 556.4 174.0 571.2 174.0 567.7 174.1 559.0 174.1 562.0 174.2 577.8 174.2 567.5 174.2 564.5 174.3 561.6 174.3 569.8 174.4 554.5 174.4 564.7 174.4 556.4 174.5 563.0 174.5 565.2 174.5 567.7 174.6 573.2 174.6 560.0 174.7 560.8 174.7 559.6 174.7 568.1 174.8 572.2 174.8 568.1 174.9 567.7 174.9 565.8 174.9 559.2 175.0 571.6 175.0 568.8 175.0 561.3 175.1 559.8 175.1 551.5 175.2 562.2 175.2 571.1 175.2 572.4 175.3 570.8 175.3 565.2 175.4 564.1 175.4 566.1 175.4 569.7 175.5 566.9 175.5 566.2 175.5 561.8 175.6 565.2 175.6 570.9 175.7 573.2 175.7 556.0 175.7 566.3 175.8 566.8 175.8 565.9 175.9 558.3 175.9 567.7 175.9 564.5 176.0 567.2 176.0 561.9 176.0 572.2 176.1 564.3 176.1 559.1 176.2 558.0 176.2 561.8 176.2 563.7 176.3 555.6 176.3 561.1 176.4 556.7 176.4 573.5 176.4 572.8 176.5 560.5 176.5 567.4 176.5 568.5 176.6 571.8 176.6 556.0 176.7 573.4 176.7 565.0 176.7 574.7 176.8 566.8 176.8 551.3 176.9 549.9 176.9 568.9 176.9 572.2 177.0 555.3 177.0 571.2 177.0 577.2 177.1 563.4 177.1 572.7 177.2 575.1 177.2 558.5 177.2 570.4 177.3 572.6 177.3 564.6 177.4 567.0 177.4 558.4 177.4 565.1 177.5 555.3 177.5 558.5 177.5 554.1 177.6 558.6 177.6 565.2 177.7 562.3 177.7 565.5 177.7 575.7 177.8 573.3 177.8 561.0 177.9 581.0 177.9 571.0 177.9 574.0 178.0 566.2 178.0 572.4 178.1 564.2 178.1 567.0 178.1 568.8 178.2 571.2 178.2 580.0 178.2 565.2 178.3 574.0 178.3 567.6 178.4 563.4 178.4 558.9 178.4 561.3 178.5 556.1 178.5 574.9 178.6 561.3 178.6 555.7 178.6 563.1 178.7 572.9 178.7 563.1 178.7 569.1 178.8 569.9 178.8 558.9 178.9 566.8 178.9 572.9 178.9 570.1 179.0 553.2 179.0 571.2 179.1 561.4 179.1 564.5 179.1 558.3 179.2 567.5 179.2 571.8 179.2 569.8 179.3 572.4 179.3 548.9 179.4 564.5 179.4 567.8 179.4 557.7 179.5 561.4 179.5 566.9 179.6 561.7 179.6 564.0 179.6 558.4 179.7 555.2 179.7 567.7 179.7 566.0 179.8 566.9 179.8 557.9 179.9 563.2 179.9 560.8 179.9 559.9 180.0 569.8 180.0 564.9 180.1 556.9 180.1 559.7 180.1 560.6 180.2 567.5 180.2 568.1 180.2 571.2 180.3 567.5 180.3 566.1 180.4 575.0 180.4 558.2 180.4 570.7 180.5 564.1 180.5 561.9 180.6 569.3 180.6 577.4 180.6 559.5 180.7 563.2 180.7 567.3 180.7 558.5 180.8 559.9 180.8 571.9 180.9 566.2 180.9 577.1 180.9 567.4 181.0 556.8 181.0 571.1 181.1 560.5 181.1 575.5 181.1 567.7 181.2 559.6 181.2 554.8 181.2 562.8 181.3 561.0 181.3 554.6 181.4 581.4 181.4 576.7 181.4 553.7 181.5 549.8 181.5 562.0 181.6 565.3 181.6 564.1 181.6 565.5 181.7 569.7 181.7 565.8 181.7 566.6 181.8 561.4 181.8 561.4 181.9 559.4 181.9 562.0 181.9 572.0 182.0 556.9 182.0 583.0 182.1 565.1 182.1 563.6 182.1 569.2 182.2 553.6 182.2 572.8 182.2 573.3 182.3 569.0 182.3 563.0 182.4 560.7 182.4 565.0 182.4 561.5 182.5 570.3 182.5 569.7 182.6 564.9 182.6 574.4 182.6 564.5 182.7 568.3 182.7 561.3 182.8 572.3 182.8 569.1 182.8 569.4 182.9 568.1 182.9 572.2 182.9 567.4 183.0 574.5 183.0 562.3 183.1 561.5 183.1 565.8 183.1 567.0 183.2 571.5 183.2 572.0 183.3 567.1 183.3 571.6 183.3 573.3 183.4 564.8 183.4 565.9 183.4 568.4 183.5 571.0 183.5 566.2 183.6 570.2 183.6 568.6 183.6 564.5 183.7 561.2 183.7 560.9 183.8 569.7 183.8 558.0 183.8 573.2 183.9 566.9 183.9 557.5 183.9 550.5 184.0 565.0 184.0 568.1 184.1 568.2 184.1 573.5 184.1 566.8 184.2 568.5 184.2 570.7 184.3 558.1 184.3 570.8 184.3 554.9 184.4 560.5 184.4 561.6 184.4 569.6 184.5 569.0 184.5 578.6 184.6 564.0 184.6 567.6 184.6 563.3 184.7 570.1 184.7 562.6 184.8 575.4 184.8 579.8 184.8 562.8 184.9 558.9 184.9 557.5 184.9 568.1 185.0 566.8 185.0 575.7 185.1 572.2 185.1 561.3 185.1 570.5 185.2 566.1 185.2 566.8 185.3 553.1 185.3 560.1 185.3 574.3 185.4 568.9 185.4 573.2 185.4 574.7 185.5 570.2 185.5 558.7 185.6 565.5 185.6 561.5 185.6 566.7 185.7 568.5 185.7 565.3 185.8 566.3 185.8 553.5 185.8 554.3 185.9 563.5 185.9 561.9 185.9 578.6 186.0 566.6 186.0 550.6 186.1 570.9 186.1 560.7 186.1 558.0 186.2 568.4 186.2 567.2 186.3 568.8 186.3 560.7 186.3 565.7 186.4 556.2 186.4 558.3 186.4 565.9 186.5 549.2 186.5 567.8 186.6 569.8 186.6 567.3 186.6 571.5 186.7 568.5 186.7 566.3 186.8 560.1 186.8 576.0 186.8 574.8 186.9 570.8 186.9 567.8 186.9 563.0 187.0 570.8 187.0 556.2 187.1 569.2 187.1 567.3 187.1 565.5 187.2 558.4 187.2 563.9 187.3 565.7 187.3 569.3 187.3 564.8 187.4 563.2 187.4 568.1 187.5 566.0 187.5 577.7 187.5 569.2 187.6 558.3 187.6 556.7 187.6 566.4 187.7 579.6 187.7 554.1 187.8 566.9 187.8 549.4 187.8 568.5 187.9 559.5 187.9 569.8 188.0 557.1 188.0 558.4 188.0 572.7 188.1 557.6 188.1 547.6 188.1 567.3 188.2 573.7 188.2 564.1 188.3 568.5 188.3 575.4 188.3 572.6 188.4 564.3 188.4 575.7 188.5 558.9 188.5 563.0 188.5 567.0 188.6 556.9 188.6 571.7 188.6 561.5 188.7 574.5 188.7 568.0 188.8 561.8 188.8 569.4 188.8 566.6 188.9 561.7 188.9 556.1 189.0 557.6 189.0 562.9 189.0 567.6 189.1 575.1 189.1 554.9 189.1 553.9 189.2 579.8 189.2 560.3 189.3 566.2 189.3 561.3 189.3 563.9 189.4 567.1 189.4 566.0 189.5 566.1 189.5 558.4 189.5 567.5 189.6 569.4 189.6 561.7 189.6 561.8 189.7 563.1 189.7 564.1 189.8 556.5 189.8 558.8 189.8 564.5 189.9 567.3 189.9 561.7 190.0 578.0 190.0 569.2 190.0 570.5 190.1 564.8 190.1 568.4 190.1 550.2 190.2 561.2 190.2 563.3 190.3 551.5 190.3 565.9 190.3 568.0 190.4 558.0 190.4 560.6 190.5 560.0 190.5 558.2 190.5 568.2 190.6 570.2 190.6 570.5 190.6 565.3 190.7 559.5 190.7 572.7 190.8 569.3 190.8 574.6 190.8 553.1 190.9 560.8 190.9 564.5 191.0 573.8 191.0 572.4 191.0 570.1 191.1 565.7 191.1 574.1 191.1 567.3 191.2 558.1 191.2 565.8 191.3 565.3 191.3 579.2 191.3 567.7 191.4 566.8 191.4 570.4 191.5 574.7 191.5 566.4 191.5 572.4 191.6 569.5 191.6 576.1 191.6 566.6 191.7 560.1 191.7 571.4 191.8 563.8 191.8 575.7 191.8 562.2 191.9 562.5 191.9 568.4 192.0 560.3 192.0 571.5 192.0 565.7 192.1 555.2 192.1 566.1 192.2 573.1 192.2 558.5 192.2 562.5 192.3 567.8 192.3 577.5 192.3 578.1 192.4 575.6 192.4 556.4 192.5 564.0 192.5 571.5 192.5 558.6 192.6 556.5 192.6 571.3 192.7 562.9 192.7 576.4 192.7 563.6 192.8 554.4 192.8 575.1 192.8 565.6 192.9 570.1 192.9 566.5 193.0 565.4 193.0 564.1 193.0 560.2 193.1 562.7 193.1 559.2 193.2 559.5 193.2 558.9 193.2 570.2 193.3 563.3 193.3 568.3 193.3 571.4 193.4 553.5 193.4 564.1 193.5 565.6 193.5 579.6 193.5 567.4 193.6 561.0 193.6 567.2 193.7 569.5 193.7 556.6 193.7 568.0 193.8 568.0 193.8 566.6 193.8 567.4 193.9 559.2 193.9 562.3 194.0 566.4 194.0 568.2 194.0 567.4 194.1 555.2 194.1 568.0 194.2 561.8 194.2 576.2 194.2 563.9 194.3 561.5 194.3 557.9 194.3 563.9 194.4 562.3 194.4 563.9 194.5 559.2 194.5 552.8 194.5 564.7 194.6 571.3 194.6 562.2 194.7 566.7 194.7 561.9 194.7 561.0 194.8 565.0 194.8 568.8 194.8 564.0 194.9 574.1 194.9 564.2 195.0 571.7 195.0 563.1 195.0 565.2 195.1 567.3 195.1 573.8 195.2 565.6 195.2 570.4 195.2 566.8 195.3 561.5 195.3 559.9 195.3 574.3 195.4 560.0 195.4 557.2 195.5 558.8 195.5 564.2 195.5 566.5 195.6 554.8 195.6 568.0 195.7 575.9 195.7 565.4 195.7 564.2 195.8 572.5 195.8 573.9 195.8 553.4 195.9 565.3 195.9 561.0 196.0 569.8 196.0 575.6 196.0 567.2 196.1 557.5 196.1 570.3 196.2 577.3 196.2 567.1 196.2 567.7 196.3 565.9 196.3 572.6 196.4 568.0 196.4 569.4 196.4 560.3 196.5 565.0 196.5 560.4 196.5 566.3 196.6 579.8 196.6 578.3 196.7 562.6 196.7 560.4 196.7 560.4 196.8 566.4 196.8 577.6 196.9 569.1 196.9 563.4 196.9 557.2 197.0 568.2 197.0 569.5 197.0 571.0 197.1 559.5 197.1 560.4 197.2 577.5 197.2 558.2 197.2 571.8 197.3 575.5 197.3 576.1 197.4 570.7 197.4 551.3 197.4 549.5 197.5 573.8 197.5 570.4 197.5 565.0 197.6 563.3 197.6 569.0 197.7 576.3 197.7 568.6 197.7 570.4 197.8 577.3 197.8 565.1 197.9 575.3 197.9 577.3 197.9 556.4 198.0 560.0 198.0 556.8 198.0 565.3 198.1 568.6 198.1 566.6 198.2 574.6 198.2 561.2 198.2 564.3 198.3 568.0 198.3 577.8 198.4 566.8 198.4 555.7 198.4 556.7 198.5 560.4 198.5 568.3 198.5 565.1 198.6 562.5 198.6 564.7 198.7 559.3 198.7 570.2 198.7 581.0 198.8 581.3 198.8 571.9 198.9 574.7 198.9 561.7 198.9 559.2 199.0 566.0 199.0 562.6 199.0 565.5 199.1 564.9 199.1 569.1 199.2 568.5 199.2 558.4 199.2 567.7 199.3 566.3 199.3 558.4 199.4 559.7 199.4 568.5 199.4 564.4 199.5 572.4 199.5 565.2 199.5 564.0 199.6 566.1 199.6 564.9 199.7 563.7 199.7 582.0 199.7 571.4 199.8 565.5 199.8 569.2 199.9 572.1 199.9 567.6 199.9 555.8 200.0 567.5 200.0 570.1 200.0 569.2 200.1 573.5 200.1 562.9 200.2 572.2 200.2 560.2 200.2 560.2 200.3 562.4 200.3 559.4 200.4 566.6 200.4 577.1 200.4 566.5 200.5 561.9 200.5 576.1 200.5 573.7 200.6 559.0 200.6 563.2 200.7 557.4 200.7 561.8 200.7 565.6 200.8 563.3 200.8 560.6 200.9 566.2 200.9 567.4 200.9 564.0 201.0 568.1 201.0 550.7 201.1 571.0 201.1 575.6 201.1 574.4 201.2 559.3 201.2 568.7 201.2 565.0 201.3 567.5 201.3 564.2 201.4 575.5 201.4 565.5 201.4 569.8 201.5 559.1 201.5 562.1 201.6 574.0 201.6 572.3 201.6 562.4 201.7 558.3 201.7 561.1 201.7 567.1 201.8 558.9 201.8 581.3 201.9 569.4 201.9 572.4 201.9 572.6 202.0 562.4 202.0 564.2 202.1 564.2 202.1 566.8 202.1 562.1 202.2 561.0 202.2 569.8 202.2 560.0 202.3 572.1 202.3 554.8 202.4 574.5 202.4 567.8 202.4 573.1 202.5 565.8 202.5 557.6 202.6 570.8 202.6 554.6 202.6 557.0 202.7 563.6 202.7 569.8 202.7 560.2 202.8 584.3 202.8 571.0 202.9 559.9 202.9 566.3 202.9 550.1 203.0 570.5 203.0 574.5 203.1 567.5 203.1 562.3 203.1 555.0 203.2 577.3 203.2 565.1 203.2 557.9 203.3 570.5 203.3 568.9 203.4 574.0 203.4 561.1 203.4 560.7 203.5 562.2 203.5 564.5 203.6 559.7 203.6 566.9 203.6 561.4 203.7 560.8 203.7 557.7 203.7 562.8 203.8 565.5 203.8 561.5 203.9 575.9 203.9 577.5 203.9 555.7 204.0 565.2 204.0 572.8 204.1 569.9 204.1 567.0 204.1 565.6 204.2 570.9 204.2 559.6 204.2 577.0 204.3 547.9 204.3 573.0 204.4 555.3 204.4 561.7 204.4 577.0 204.5 573.9 204.5 565.7 204.6 564.3 204.6 568.9 204.6 565.9 204.7 565.1 204.7 573.4 204.7 565.7 204.8 551.4 204.8 570.3 204.9 572.6 204.9 561.8 204.9 557.4 205.0 559.3 205.0 570.1 205.1 566.6 205.1 564.7 205.1 567.5 205.2 563.5 205.2 559.1 205.2 562.5 205.3 566.2 205.3 567.3 205.4 554.5 205.4 574.0 205.4 553.1 205.5 561.3 205.5 565.5 205.6 570.8 205.6 554.2 205.6 558.2 205.7 560.2 205.7 552.6 205.8 577.8 205.8 565.4 205.8 568.1 205.9 570.7 205.9 565.6 205.9 562.6 206.0 562.7 206.0 566.9 206.1 574.8 206.1 562.4 206.1 562.2 206.2 552.3 206.2 560.0 206.3 565.9 206.3 573.6 206.3 548.4 206.4 570.5 206.4 564.8 206.4 561.2 206.5 562.8 206.5 557.4 206.6 572.8 206.6 570.6 206.6 564.9 206.7 574.2 206.7 570.0 206.8 557.1 206.8 564.1 206.8 566.8 206.9 569.8 206.9 565.8 206.9 566.3 207.0 573.2 207.0 560.9 207.1 574.5 207.1 557.7 207.1 568.3 207.2 580.9 207.2 576.3 207.3 564.2 207.3 571.8 207.3 554.2 207.4 557.1 207.4 552.3 207.4 560.3 207.5 557.2 207.5 570.1 207.6 557.6 207.6 569.0 207.6 566.4 207.7 575.1 207.7 565.7 207.8 563.5 207.8 566.5 207.8 573.4 207.9 560.1 207.9 560.2 207.9 566.6 208.0 561.0 208.0 559.6 208.1 572.6 208.1 566.3 208.1 578.4 208.2 572.8 208.2 563.3 208.3 571.8 208.3 563.6 208.3 563.7 208.4 579.7 208.4 569.3 208.4 556.2 208.5 566.0 208.5 565.3 208.6 570.7 208.6 576.7 208.6 576.5 208.7 547.3 208.7 567.3 208.8 571.9 208.8 565.3 208.8 578.9 208.9 556.9 208.9 554.9 208.9 571.0 209.0 564.0 209.0 572.0 209.1 560.5 209.1 571.6 209.1 567.1 209.2 557.5 209.2 562.7 209.3 568.2 209.3 576.2 209.3 576.6 209.4 558.2 209.4 562.7 209.4 565.8 209.5 557.8 209.5 565.2 209.6 570.9 209.6 566.9 209.6 566.7 209.7 566.3 209.7 549.6 209.8 562.3 209.8 564.3 209.8 567.8 209.9 570.6 209.9 572.7 209.9 578.5 210.0 569.2 210.0 576.1 210.1 578.4 210.1 572.3 210.1 579.5 210.2 557.0 210.2 557.9 210.3 572.5 210.3 552.7 210.3 561.7 210.4 582.8 210.4 566.0 210.5 572.8 210.5 577.6 210.5 567.9 210.6 558.5 210.6 563.2 210.6 575.8 210.7 570.5 210.7 571.1 210.8 558.6 210.8 566.7 210.8 572.6 210.9 572.1 210.9 579.2 211.0 571.7 211.0 560.3 211.0 578.8 211.1 564.9 211.1 566.9 211.1 560.8 211.2 573.7 211.2 560.2 211.3 555.8 211.3 551.0 211.3 576.9 211.4 566.4 211.4 567.5 211.5 565.4 211.5 572.7 211.5 560.5 211.6 550.6 211.6 556.2 211.6 572.5 211.7 570.0 211.7 561.3 211.8 565.3 211.8 571.2 211.8 558.0 211.9 562.7 211.9 559.4 212.0 567.3 212.0 557.7 212.0 569.2 212.1 573.6 212.1 566.2 212.1 575.4 212.2 557.8 212.2 561.3 212.3 577.3 212.3 565.1 212.3 560.5 212.4 568.6 212.4 563.4 212.5 570.1 212.5 566.6 212.5 566.8 212.6 562.9 212.6 572.6 212.6 573.7 212.7 564.0 212.7 569.5 212.8 562.8 212.8 569.5 212.8 574.9 212.9 561.2 212.9 564.4 213.0 561.3 213.0 568.4 213.0 568.5 213.1 557.8 213.1 577.4 213.1 554.7 213.2 562.7 213.2 566.6 213.3 565.6 213.3 562.2 213.3 571.3 213.4 564.4 213.4 572.5 213.5 578.5 213.5 564.8 213.5 565.5 213.6 561.9 213.6 562.5 213.6 561.5 213.7 561.0 213.7 573.2 213.8 558.1 213.8 548.4 213.8 570.0 213.9 574.6 213.9 561.7 214.0 560.1 214.0 559.5 214.0 556.0 214.1 575.4 214.1 563.7 214.1 563.1 214.2 557.9 214.2 572.1 214.3 566.0 214.3 568.7 214.3 567.3 214.4 567.2 214.4 567.2 214.5 578.0 214.5 566.4 214.5 565.8 214.6 568.7 214.6 570.8 214.6 570.6 214.7 572.0 214.7 555.6 214.8 560.0 214.8 567.4 214.8 562.2 214.9 572.6 214.9 563.1 215.0 570.2 215.0 556.3 215.0 558.8 215.1 567.0 215.1 562.1 215.2 571.5 215.2 576.7 215.2 560.6 215.3 555.3 215.3 568.2 215.3 569.7 215.4 578.1 215.4 551.9 215.5 574.2 215.5 572.7 215.5 567.5 215.6 558.1 215.6 565.9 215.7 566.3 215.7 566.1 215.7 560.6 215.8 566.5 215.8 565.2 215.8 566.7 215.9 573.6 215.9 557.3 216.0 570.8 216.0 575.0 216.0 569.1 216.1 566.0 216.1 560.7 216.2 576.0 216.2 574.7 216.2 565.0 216.3 563.7 216.3 573.5 216.3 573.8 216.4 565.1 216.4 567.2 216.5 577.0 216.5 572.1 216.5 556.4 216.6 573.3 216.6 559.3 216.7 576.4 216.7 556.4 216.7 555.6 216.8 570.4 216.8 570.8 216.8 562.1 216.9 574.5 216.9 562.6 217.0 558.1 217.0 564.5 217.0 564.1 217.1 567.3 217.1 559.5 217.2 571.7 217.2 555.6 217.2 566.4 217.3 568.4 217.3 577.1 217.3 569.2 217.4 564.7 217.4 557.9 217.5 577.0 217.5 567.1 217.5 570.8 217.6 574.2 217.6 566.2 217.7 571.3 217.7 560.5 217.7 584.2 217.8 561.3 217.8 578.9 217.8 579.2 217.9 562.8 217.9 568.5 218.0 565.4 218.0 572.7 218.0 573.2 218.1 571.1 218.1 566.6 218.2 571.8 218.2 569.0 218.2 572.0 218.3 564.7 218.3 573.8 218.3 580.1 218.4 583.7 218.4 566.4 218.5 565.6 218.5 559.8 218.5 571.2 218.6 573.8 218.6 576.2 218.7 561.2 218.7 570.4 218.7 559.7 218.8 566.8 218.8 568.1 218.8 578.6 218.9 570.7 218.9 561.0 219.0 570.3 219.0 561.7 219.0 577.2 219.1 559.5 219.1 547.7 219.2 558.8 219.2 564.1 219.2 574.5 219.3 569.8 219.3 570.6 219.3 565.0 219.4 579.7 219.4 572.0 219.5 561.0 219.5 565.3 219.5 561.3 219.6 560.6 219.6 573.9 219.7 575.2 219.7 563.2 219.7 566.0 219.8 565.7 219.8 571.7 219.9 559.5 219.9 563.0 219.9 558.7 220.0 568.6 220.0 561.7 220.0 566.7 220.1 572.5 220.1 566.8 220.2 577.3 220.2 567.5 220.2 565.1 220.3 561.6 220.3 573.3 220.4 575.1 220.4 571.1 220.4 580.0 220.5 570.6 220.5 548.9 220.5 565.3 220.6 571.3 220.6 570.8 220.7 554.5 220.7 574.0 220.7 567.0 220.8 566.8 220.8 571.1 220.9 571.1 220.9 577.4 220.9 571.9 221.0 557.6 221.0 556.9 221.0 568.1 221.1 561.6 221.1 563.2 221.2 565.5 221.2 567.2 221.2 558.2 221.3 562.5 221.3 567.8 221.4 567.8 221.4 560.1 221.4 570.2 221.5 571.0 221.5 568.1 221.5 569.6 221.6 557.9 221.6 563.9 221.7 566.9 221.7 569.8 221.7 556.9 221.8 563.4 221.8 552.4 221.9 560.2 221.9 567.7 221.9 569.9 222.0 568.2 222.0 565.1 222.0 561.0 222.1 563.1 222.1 555.8 222.2 576.4 222.2 566.1 222.2 575.7 222.3 573.1 222.3 570.3 222.4 570.6 222.4 572.7 222.4 576.4 222.5 558.7 222.5 568.4 222.5 559.9 222.6 573.6 222.6 581.7 222.7 570.2 222.7 560.4 222.7 570.0 222.8 563.7 222.8 573.4 222.9 557.0 222.9 563.4 222.9 559.3 223.0 568.1 223.0 557.8 223.0 565.8 223.1 569.5 223.1 570.5 223.2 565.9 223.2 572.3 223.2 574.2 223.3 565.4 223.3 561.6 223.4 568.2 223.4 560.7 223.4 555.8 223.5 574.7 223.5 564.6 223.5 572.7 223.6 570.6 223.6 565.1 223.7 582.0 223.7 562.3 223.7 560.7 223.8 562.7 223.8 562.0 223.9 554.3 223.9 568.7 223.9 559.0 224.0 556.7 224.0 563.0 224.0 578.1 224.1 567.3 224.1 568.2 224.2 577.1 224.2 566.7 224.2 561.3 224.3 568.0 224.3 567.5 224.4 556.5 224.4 570.4 224.4 572.6 224.5 566.0 224.5 558.9 224.6 562.4 224.6 565.8 224.6 569.6 224.7 558.1 224.7 560.4 224.7 577.8 224.8 564.1 224.8 582.3 224.9 556.4 224.9 562.2 224.9 570.5 225.0 574.9 225.0 568.3 225.1 577.9 225.1 562.6 225.1 569.7 225.2 578.1 225.2 566.5 225.2 558.5 225.3 574.7 225.3 568.7 225.4 554.3 225.4 565.1 225.4 570.0 225.5 565.1 225.5 561.1 225.6 573.0 225.6 567.0 225.6 577.2 225.7 576.8 225.7 576.5 225.7 560.7 225.8 564.3 225.8 561.5 225.9 558.2 225.9 566.0 225.9 564.8 226.0 563.6 226.0 563.2 226.1 573.4 226.1 568.1 226.1 567.3 226.2 566.1 226.2 571.3 226.2 567.2 226.3 564.4 226.3 565.1 226.4 562.4 226.4 560.9 226.4 562.6 226.5 559.9 226.5 560.7 226.6 557.1 226.6 562.2 226.6 570.4 226.7 550.9 226.7 558.8 226.7 558.0 226.8 561.5 226.8 566.0 226.9 573.9 226.9 563.4 226.9 568.7 227.0 569.0 227.0 580.5 227.1 556.0 227.1 574.1 227.1 573.6 227.2 563.2 227.2 562.6 227.2 571.6 227.3 566.4 227.3 564.7 227.4 565.3 227.4 562.8 227.4 561.2 227.5 568.8 227.5 577.1 227.6 552.0 227.6 568.9 227.6 572.9 227.7 561.4 227.7 562.4 227.7 570.4 227.8 550.7 227.8 582.0 227.9 557.8 227.9 566.6 227.9 564.3 228.0 564.2 228.0 567.9 228.1 564.2 228.1 575.0 228.1 569.0 228.2 554.1 228.2 583.5 228.2 558.2 228.3 581.2 228.3 572.0 228.4 560.5 228.4 569.1 228.4 570.2 228.5 576.3 228.5 567.1 228.6 567.5 228.6 570.6 228.6 576.7 228.7 565.3 228.7 563.6 228.8 558.8 228.8 562.9 228.8 556.2 228.9 558.4 228.9 585.1 228.9 555.3 229.0 567.0 229.0 573.3 229.1 563.5 229.1 560.0 229.1 576.6 229.2 574.5 229.2 561.8 229.3 570.0 229.3 556.7 229.3 564.9 229.4 570.0 229.4 575.2 229.4 562.4 229.5 577.8 229.5 575.0 229.6 575.1 229.6 555.0 229.6 555.0 229.7 567.8 229.7 568.9 229.8 561.7 229.8 558.1 229.8 571.7 229.9 551.7 229.9 567.7 229.9 558.8 230.0 582.1 230.0 566.7 230.1 571.0 230.1 553.2 230.1 567.8 230.2 574.8 230.2 553.4 230.3 570.9 230.3 566.4 230.3 574.7 230.4 561.9 230.4 565.1 230.4 568.3 230.5 569.0 230.5 570.2 230.6 571.1 230.6 575.7 230.6 558.3 230.7 560.4 230.7 575.6 230.8 574.1 230.8 563.7 230.8 551.3 230.9 567.7 230.9 568.4 230.9 568.0 231.0 564.7 231.0 567.5 231.1 559.2 231.1 559.8 231.1 562.7 231.2 555.9 231.2 567.9 231.3 570.0 231.3 546.6 231.3 579.2 231.4 576.7 231.4 582.0 231.4 564.0 231.5 573.5 231.5 559.3 231.6 580.3 231.6 567.3 231.6 569.0 231.7 573.6 231.7 558.9 231.8 569.0 231.8 563.4 231.8 569.9 231.9 565.4 231.9 569.3 231.9 565.9 232.0 567.0 232.0 570.9 232.1 563.5 232.1 567.6 232.1 572.8 232.2 573.3 232.2 563.4 232.3 557.5 232.3 575.1 232.3 569.2 232.4 563.4 232.4 559.4 232.4 561.6 232.5 574.2 232.5 566.1 232.6 560.4 232.6 564.8 232.6 567.9 232.7 574.2 232.7 565.3 232.8 566.8 232.8 566.2 232.8 556.4 232.9 558.5 232.9 571.7 232.9 564.8 233.0 568.4 233.0 565.7 233.1 555.5 233.1 560.3 233.1 566.1 233.2 570.8 233.2 567.5 233.3 564.0 233.3 569.7 233.3 559.1 233.4 566.2 233.4 574.2 233.5 552.8 233.5 585.7 233.5 568.2 233.6 567.2 233.6 559.8 233.6 559.0 233.7 556.7 233.7 556.0 233.8 564.3 233.8 565.6 233.8 559.6 233.9 566.6 233.9 574.8 234.0 569.4 234.0 562.0 234.0 562.3 234.1 573.7 234.1 558.4 234.1 564.3 234.2 576.4 234.2 563.3 234.3 559.7 234.3 562.8 234.3 568.5 234.4 571.7 234.4 558.9 234.5 564.9 234.5 566.4 234.5 569.0 234.6 573.3 234.6 578.9 234.6 568.7 234.7 559.0 234.7 561.3 234.8 570.9 234.8 556.2 234.8 567.9 234.9 573.1 234.9 559.9 235.0 557.2 235.0 569.0 235.0 574.5 235.1 566.8 235.1 582.5 235.1 566.0 235.2 556.3 235.2 564.6 235.3 571.3 235.3 561.7 235.3 569.7 235.4 558.0 235.4 568.8 235.5 552.8 235.5 568.7 235.5 565.1 235.6 572.6 235.6 574.9 235.6 564.1 235.7 564.1 235.7 572.9 235.8 562.7 235.8 569.1 235.8 570.1 235.9 566.9 235.9 563.8 236.0 561.6 236.0 558.2 236.0 563.9 236.1 571.2 236.1 571.0 236.1 563.9 236.2 574.3 236.2 567.5 236.3 569.0 236.3 567.1 236.3 565.2 236.4 559.5 236.4 555.5 236.5 560.5 236.5 559.7 236.5 573.5 236.6 559.5 236.6 557.8 236.6 575.4 236.7 549.6 236.7 570.2 236.8 582.2 236.8 554.7 236.8 566.0 236.9 571.7 236.9 570.2 237.0 559.3 237.0 564.7 237.0 568.9 237.1 558.8 237.1 572.6 237.1 572.1 237.2 570.1 237.2 571.4 237.3 561.8 237.3 567.9 237.3 573.4 237.4 569.5 237.4 579.6 237.5 565.3 237.5 565.7 237.5 562.4 237.6 568.0 237.6 563.8 237.6 572.6 237.7 566.2 237.7 565.4 237.8 574.5 237.8 562.5 237.8 565.5 237.9 566.1 237.9 569.6 238.0 553.1 238.0 566.4 238.0 571.5 238.1 572.1 238.1 562.5 238.2 567.8 238.2 571.7 238.2 571.2 238.3 560.2 238.3 565.8 238.3 559.4 238.4 566.5 238.4 574.3 238.5 560.7 238.5 564.3 238.5 570.8 238.6 568.5 238.6 572.9 238.7 560.9 238.7 569.2 238.7 563.2 238.8 564.7 238.8 568.1 238.8 564.0 238.9 568.1 238.9 574.3 239.0 569.2 239.0 574.2 239.0 561.4 239.1 562.1 239.1 570.3 239.2 562.3 239.2 564.8 239.2 560.0 239.3 572.6 239.3 566.3 239.3 573.0 239.4 571.0 239.4 557.4 239.5 579.8 239.5 572.5 239.5 563.2 239.6 561.3 239.6 571.6 239.7 579.9 239.7 577.8 239.7 564.0 239.8 559.1 239.8 560.4 239.8 571.3 239.9 557.5 239.9 567.7 240.0 562.4 240.0 567.7 240.0 555.9 240.1 569.9 240.1 580.6 240.2 568.5 240.2 565.2 240.2 564.6 240.3 571.2 240.3 568.0 240.3 573.9 240.4 568.0 240.4 565.9 240.5 564.8 240.5 555.5 240.5 579.7 240.6 563.0 240.6 563.6 240.7 574.1 240.7 566.0 240.7 566.5 240.8 573.1 240.8 561.7 240.8 553.8 240.9 562.0 240.9 561.3 241.0 559.4 241.0 567.3 241.0 560.0 241.1 571.8 241.1 565.3 241.2 561.8 241.2 557.8 241.2 568.3 241.3 568.4 241.3 563.3 241.3 567.0 241.4 565.5 241.4 561.1 241.5 571.5 241.5 560.7 241.5 563.9 241.6 568.2 241.6 574.7 241.7 570.6 241.7 566.7 241.7 560.2 241.8 579.4 241.8 561.7 241.8 565.2 241.9 573.9 241.9 560.8 242.0 563.8 242.0 563.6 242.0 572.9 242.1 573.8 242.1 560.5 242.2 557.2 242.2 564.0 242.2 567.7 242.3 569.4 242.3 577.8 242.3 560.0 242.4 567.1 242.4 558.3 242.5 571.2 242.5 559.5 242.5 571.2 242.6 562.6 242.6 557.4 242.7 571.1 242.7 560.5 242.7 566.5 242.8 572.6 242.8 565.1 242.9 562.2 242.9 571.1 242.9 568.2 243.0 570.2 243.0 571.5 243.0 567.8 243.1 561.0 243.1 569.7 243.2 558.3 243.2 569.0 243.2 571.0 243.3 559.4 243.3 557.2 243.4 570.7 243.4 562.6 243.4 574.1 243.5 569.1 243.5 568.9 243.5 561.8 243.6 574.7 243.6 569.8 243.7 571.0 243.7 565.8 243.7 574.5 243.8 575.2 243.8 547.9 243.9 565.1 243.9 576.3 243.9 561.0 244.0 575.1 244.0 578.8 244.0 555.5 244.1 558.3 244.1 572.0 244.2 573.6 244.2 563.4 244.2 553.1 244.3 562.5 244.3 562.1 244.4 574.2 244.4 578.1 244.4 563.9 244.5 559.8 244.5 565.6 244.5 566.5 244.6 557.4 244.6 572.0 244.7 559.3 244.7 561.0 244.7 570.6 244.8 565.7 244.8 565.8 244.9 562.7 244.9 572.9 244.9 568.0 245.0 565.9 245.0 566.3 245.0 566.3 245.1 564.8 245.1 567.7 245.2 569.7 245.2 559.7 245.2 570.7 245.3 568.6 245.3 572.2 245.4 574.0 245.4 563.5 245.4 566.7 245.5 567.3 245.5 563.5 245.5 567.6 245.6 562.0 245.6 554.7 245.7 564.2 245.7 568.2 245.7 555.7 245.8 561.9 245.8 577.3 245.9 557.8 245.9 565.1 245.9 560.9 246.0 574.0 246.0 572.0 246.0 570.7 246.1 562.9 246.1 573.8 246.2 571.1 246.2 560.3 246.2 570.7 246.3 565.7 246.3 572.3 246.4 577.6 246.4 567.0 246.4 567.3 246.5 575.8 246.5 560.1 246.5 561.1 246.6 560.7 246.6 569.8 246.7 574.0 246.7 567.1 246.7 565.4 246.8 567.6 246.8 570.3 246.9 573.0 246.9 571.3 246.9 567.0 247.0 569.7 247.0 555.6 247.0 568.3 247.1 563.5 247.1 569.5 247.2 567.7 247.2 572.8 247.2 569.6 247.3 576.2 247.3 580.0 247.4 557.8 247.4 573.4 247.4 563.7 247.5 567.3 247.5 570.2 247.6 561.8 247.6 570.1 247.6 563.7 247.7 568.9 247.7 560.2 247.7 560.3 247.8 566.1 247.8 559.4 247.9 563.2 247.9 556.4 247.9 567.3 248.0 576.5 248.0 565.1 248.1 564.9 248.1 568.9 248.1 567.8 248.2 568.2 248.2 574.6 248.2 555.3 248.3 571.5 248.3 573.4 248.4 576.8 248.4 572.0 248.4 566.7 248.5 556.9 248.5 562.6 248.6 571.2 248.6 574.6 248.6 573.8 248.7 567.0 248.7 560.9 248.7 569.6 248.8 556.1 248.8 554.0 248.9 565.5 248.9 580.6 248.9 559.4 249.0 567.1 249.0 562.2 249.1 560.1 249.1 573.0 249.1 566.1 249.2 565.4 249.2 571.4 249.2 562.0 249.3 567.3 249.3 569.1 249.4 554.3 249.4 565.4 249.4 555.9 249.5 567.5 249.5 559.8 249.6 571.4 249.6 565.6 249.6 559.5 249.7 580.6 249.7 563.0 249.7 568.3 249.8 559.5 249.8 565.4 249.9 567.0 249.9 574.8 249.9 547.5 250.0 571.3 250.0 568.6 250.1 571.2 250.1 568.5 250.1 565.1 250.2 575.2 250.2 559.7 250.2 568.2 250.3 562.6 250.3 580.2 250.4 569.9 250.4 568.5 250.4 569.0 250.5 570.8 250.5 564.5 250.6 563.9 250.6 572.9 250.6 579.2 250.7 561.8 250.7 568.6 250.7 559.6 250.8 560.9 250.8 567.2 250.9 575.8 250.9 568.9 250.9 571.2 251.0 558.5 251.0 577.5 251.1 560.6 251.1 576.5 251.1 570.2 251.2 575.7 251.2 571.0 251.2 569.4 251.3 564.1 251.3 570.4 251.4 562.1 251.4 555.2 251.4 565.5 251.5 574.0 251.5 567.7 251.6 567.2 251.6 568.9 251.6 559.1 251.7 559.0 251.7 553.6 251.7 563.1 251.8 583.8 251.8 567.4 251.9 562.2 251.9 571.8 251.9 570.4 252.0 560.6 252.0 565.6 252.1 573.8 252.1 570.3 252.1 566.6 252.2 574.5 252.2 566.9 252.3 574.2 252.3 572.6 252.3 569.9 252.4 548.6 252.4 574.2 252.4 574.2 252.5 570.0 252.5 559.7 252.6 561.4 252.6 562.1 252.6 568.6 252.7 565.7 252.7 571.5 252.8 567.7 252.8 571.8 252.8 576.0 252.9 573.0 252.9 554.1 252.9 564.0 253.0 571.4 253.0 567.3 253.1 569.5 253.1 558.6 253.1 566.8 253.2 570.7 253.2 562.2 253.3 564.5 253.3 571.0 253.3 571.6 253.4 565.7 253.4 577.2 253.4 572.5 253.5 560.0 253.5 561.0 253.6 559.3 253.6 569.5 253.6 570.4 253.7 568.3 253.7 569.7 253.8 558.3 253.8 568.0 253.8 557.8 253.9 571.2 253.9 564.2 253.9 556.0 254.0 571.4 254.0 570.8 254.1 570.5 254.1 577.0 254.1 568.5 254.2 570.7 254.2 552.4 254.3 569.7 254.3 580.4 254.3 560.4 254.4 560.5 254.4 566.8 254.4 564.7 254.5 561.9 254.5 570.2 254.6 566.3 254.6 565.7 254.6 555.8 254.7 557.5 254.7 565.5 254.8 575.3 254.8 560.8 254.8 567.0 254.9 559.0 254.9 566.3 254.9 565.4 255.0 562.4 255.0 571.3 255.1 570.9 255.1 551.7 255.1 572.2 255.2 560.5 255.2 562.2 255.3 561.3 255.3 557.8 255.3 575.3 255.4 560.5 255.4 579.9 255.4 566.3 255.5 564.4 255.5 560.0 255.6 559.5 255.6 572.6 255.6 568.3 255.7 567.6 255.7 571.1 255.8 571.9 255.8 570.9 255.8 559.2 255.9 557.7 255.9 561.8 255.9 555.7 256.0 566.0 256.0 573.6 256.1 570.8 256.1 565.3 256.1 560.0 256.2 558.7 256.2 572.4 256.3 560.4 256.3 570.1 256.3 562.7 256.4 560.7 256.4 557.0 256.4 570.0 256.5 565.0 256.5 563.9 256.6 569.3 256.6 566.0 256.6 562.7 256.7 577.2 256.7 570.7 256.8 551.8 256.8 563.6 256.8 570.2 256.9 578.5 256.9 572.8 257.0 563.2 257.0 562.3 257.0 563.7 257.1 562.8 257.1 570.5 257.1 556.4 257.2 573.9 257.2 563.4 257.3 568.3 257.3 577.6 257.3 560.7 257.4 568.4 257.4 562.0 257.5 558.4 257.5 565.5 257.5 570.9 257.6 568.0 257.6 567.1 257.6 557.2 257.7 561.1 257.7 556.3 257.8 561.8 257.8 571.5 257.8 560.7 257.9 560.3 257.9 567.4 258.0 563.6 258.0 568.7 258.0 574.8 258.1 567.2 258.1 561.6 258.1 569.0 258.2 581.1 258.2 571.8 258.3 559.5 258.3 565.2 258.3 559.3 258.4 571.5 258.4 569.3 258.5 573.1 258.5 571.6 258.5 563.4 258.6 565.7 258.6 569.8 258.6 564.6 258.7 575.1 258.7 569.1 258.8 576.3 258.8 576.3 258.8 575.4 258.9 573.7 258.9 556.5 259.0 557.6 259.0 558.6 259.0 570.4 259.1 562.6 259.1 574.0 259.1 570.2 259.2 565.0 259.2 577.0 259.3 565.3 259.3 562.7 259.3 580.1 259.4 582.4 259.4 568.4 259.5 567.5 259.5 565.6 259.5 574.0 259.6 562.9 259.6 565.9 259.6 571.3 259.7 556.1 259.7 564.9 259.8 561.9 259.8 554.5 259.8 569.8 259.9 568.0 259.9 577.9 260.0 568.1 260.0 563.9 260.0 550.3 260.1 563.1 260.1 565.3 260.1 574.8 260.2 572.1 260.2 578.6 260.3 575.6 260.3 566.0 260.3 564.6 260.4 572.6 260.4 568.0 260.5 571.9 260.5 562.5 260.5 562.6 260.6 570.2 260.6 569.6 260.6 574.6 260.7 569.7 260.7 552.3 260.8 566.8 260.8 561.0 260.8 562.9 260.9 557.0 260.9 568.8 261.0 572.5 261.0 560.0 261.0 560.6 261.1 570.9 261.1 559.4 261.2 566.8 261.2 566.9 261.2 554.8 261.3 563.1 261.3 564.7 261.3 568.7 261.4 565.4 261.4 559.7 261.5 563.8 261.5 571.5 261.5 563.8 261.6 567.4 261.6 564.7 261.7 567.9 261.7 580.8 261.7 577.1 261.8 569.2 261.8 581.0 261.8 576.4 261.9 553.3 261.9 562.2 262.0 569.6 262.0 564.6 262.0 581.2 262.1 565.1 262.1 560.2 262.2 565.5 262.2 575.2 262.2 560.4 262.3 570.1 262.3 570.4 262.3 565.3 262.4 568.6 262.4 553.2 262.5 567.6 262.5 552.5 262.5 563.8 262.6 574.7 262.6 566.7 262.7 566.2 262.7 557.4 262.7 558.2 262.8 550.2 262.8 571.0 262.8 569.5 262.9 551.3 262.9 572.5 263.0 564.3 263.0 556.3 263.0 573.2 263.1 569.0 263.1 571.5 263.2 563.3 263.2 564.0 263.2 567.0 263.3 562.3 263.3 571.8 263.3 569.1 263.4 563.7 263.4 553.4 263.5 567.0 263.5 566.2 263.5 558.2 263.6 566.1 263.6 558.3 263.7 565.0 263.7 559.2 263.7 565.4 263.8 572.7 263.8 572.2 263.8 563.9 263.9 554.2 263.9 554.6 264.0 568.7 264.0 550.5 264.0 573.9 264.1 572.2 264.1 560.5 264.2 576.6 264.2 560.6 264.2 564.3 264.3 562.5 264.3 574.5 264.3 564.1 264.4 560.6 264.4 566.9 264.5 560.0 264.5 566.4 264.5 564.5 264.6 568.7 264.6 575.5 264.7 567.7 264.7 563.5 264.7 571.6 264.8 579.4 264.8 576.8 264.8 558.2 264.9 568.1 264.9 571.7 265.0 558.5 265.0 567.8 265.0 576.5 265.1 569.6 265.1 572.4 265.2 567.9 265.2 572.6 265.2 566.3 265.3 563.6 265.3 570.4 265.3 567.9 265.4 567.7 265.4 561.2 265.5 571.4 265.5 561.7 265.5 558.6 265.6 567.9 265.6 573.0 265.7 568.6 265.7 578.2 265.7 570.2 265.8 574.5 265.8 567.7 265.9 569.1 265.9 563.2 265.9 566.0 266.0 563.8 266.0 567.0 266.0 564.8 266.1 574.1 266.1 562.2 266.2 558.3 266.2 559.3 266.2 575.5 266.3 563.9 266.3 577.3 266.4 561.6 266.4 568.1 266.4 569.7 266.5 571.6 266.5 568.2 266.5 566.7 266.6 573.0 266.6 566.3 266.7 564.9 266.7 563.3 266.7 566.9 266.8 566.8 266.8 551.3 266.9 560.2 266.9 564.5 266.9 575.7 267.0 562.5 267.0 563.0 267.0 584.2 267.1 567.8 267.1 564.1 267.2 566.5 267.2 566.0 267.2 567.7 267.3 557.5 267.3 564.2 267.4 568.5 267.4 568.2 267.4 552.8 267.5 572.3 267.5 570.1 267.5 564.6 267.6 565.6 267.6 564.8 267.7 557.7 267.7 559.3 267.7 563.8 267.8 566.4 267.8 567.0 267.9 568.2 267.9 560.0 267.9 575.0 268.0 573.5 268.0 569.7 268.0 573.0 268.1 571.5 268.1 558.7 268.2 581.4 268.2 562.8 268.2 575.3 268.3 568.2 268.3 570.5 268.4 573.2 268.4 576.4 268.4 566.2 268.5 586.0 268.5 580.7 268.5 569.3 268.6 559.4 268.6 554.6 268.7 568.6 268.7 571.9 268.7 568.5 268.8 563.7 268.8 560.4 268.9 572.9 268.9 563.5 268.9 566.9 269.0 559.1 269.0 569.4 269.0 568.0 269.1 572.3 269.1 575.4 269.2 564.9 269.2 561.9 269.2 559.4 269.3 564.9 269.3 569.7 269.4 572.7 269.4 574.3" fill="none" stroke="#0e860e" stroke-width="0.42" stroke-opacity="0.95"/>
<path d="M269.4,565.4 L301.5,565.4" stroke="#4a9e4a" stroke-width="0.9" fill="none"/>
<line x1="257.90" y1="450.00" x2="257.90" y2="507.80" stroke="#333" stroke-width="1.2" stroke-dasharray="3,1.8"/>
<line x1="269.30" y1="539.50" x2="269.30" y2="590.00" stroke="#333" stroke-width="1.2" stroke-dasharray="3,1.8"/>
<line x1="71.50" y1="508.40" x2="257.90" y2="508.40" stroke="#555" stroke-width="0.9" />
<polygon points="71.0,508.4 74.2,507.0 74.2,509.8" fill="#333" />
<line x1="71.50" y1="590.20" x2="269.30" y2="590.20" stroke="#555" stroke-width="0.9" />
<polygon points="71.0,590.2 74.2,588.8 74.2,591.6" fill="#333" />
<rect x="69.1" y="443.0" width="234.9" height="168.2" fill="none" stroke="#555" stroke-width="1"/>
<line x1="69.10" y1="527.50" x2="304.00" y2="527.50" stroke="#555" stroke-width="1" />
<line x1="66.30" y1="521.40" x2="69.10" y2="521.40" stroke="#444" stroke-width="0.9" />
<line x1="66.30" y1="605.78" x2="69.10" y2="605.78" stroke="#444" stroke-width="0.9" />
<line x1="67.50" y1="515.40" x2="69.10" y2="515.40" stroke="#444" stroke-width="0.8" />
<line x1="67.50" y1="599.76" x2="69.10" y2="599.76" stroke="#444" stroke-width="0.8" />
<line x1="66.30" y1="509.40" x2="69.10" y2="509.40" stroke="#444" stroke-width="0.9" />
<line x1="66.30" y1="593.74" x2="69.10" y2="593.74" stroke="#444" stroke-width="0.9" />
<line x1="67.50" y1="503.40" x2="69.10" y2="503.40" stroke="#444" stroke-width="0.8" />
<line x1="67.50" y1="587.72" x2="69.10" y2="587.72" stroke="#444" stroke-width="0.8" />
<line x1="66.30" y1="497.40" x2="69.10" y2="497.40" stroke="#444" stroke-width="0.9" />
<line x1="66.30" y1="581.70" x2="69.10" y2="581.70" stroke="#444" stroke-width="0.9" />
<line x1="67.50" y1="491.40" x2="69.10" y2="491.40" stroke="#444" stroke-width="0.8" />
<line x1="67.50" y1="575.68" x2="69.10" y2="575.68" stroke="#444" stroke-width="0.8" />
<line x1="66.30" y1="485.40" x2="69.10" y2="485.40" stroke="#444" stroke-width="0.9" />
<line x1="66.30" y1="569.66" x2="69.10" y2="569.66" stroke="#444" stroke-width="0.9" />
<line x1="67.50" y1="479.40" x2="69.10" y2="479.40" stroke="#444" stroke-width="0.8" />
<line x1="67.50" y1="563.64" x2="69.10" y2="563.64" stroke="#444" stroke-width="0.8" />
<line x1="66.30" y1="473.40" x2="69.10" y2="473.40" stroke="#444" stroke-width="0.9" />
<line x1="66.30" y1="557.62" x2="69.10" y2="557.62" stroke="#444" stroke-width="0.9" />
<line x1="67.50" y1="467.40" x2="69.10" y2="467.40" stroke="#444" stroke-width="0.8" />
<line x1="67.50" y1="551.60" x2="69.10" y2="551.60" stroke="#444" stroke-width="0.8" />
<line x1="66.30" y1="461.40" x2="69.10" y2="461.40" stroke="#444" stroke-width="0.9" />
<line x1="66.30" y1="545.58" x2="69.10" y2="545.58" stroke="#444" stroke-width="0.9" />
<line x1="67.50" y1="455.40" x2="69.10" y2="455.40" stroke="#444" stroke-width="0.8" />
<line x1="67.50" y1="539.56" x2="69.10" y2="539.56" stroke="#444" stroke-width="0.8" />
<line x1="66.30" y1="449.40" x2="69.10" y2="449.40" stroke="#444" stroke-width="0.9" />
<line x1="66.30" y1="533.54" x2="69.10" y2="533.54" stroke="#444" stroke-width="0.9" />
<line x1="69.10" y1="611.20" x2="69.10" y2="614.20" stroke="#444" stroke-width="0.9" />
<line x1="96.76" y1="611.20" x2="96.76" y2="609.00" stroke="#444" stroke-width="0.8" />
<line x1="124.43" y1="611.20" x2="124.43" y2="614.20" stroke="#444" stroke-width="0.9" />
<line x1="152.09" y1="611.20" x2="152.09" y2="609.00" stroke="#444" stroke-width="0.8" />
<line x1="179.76" y1="611.20" x2="179.76" y2="614.20" stroke="#444" stroke-width="0.9" />
<line x1="207.43" y1="611.20" x2="207.43" y2="609.00" stroke="#444" stroke-width="0.8" />
<line x1="235.09" y1="611.20" x2="235.09" y2="614.20" stroke="#444" stroke-width="0.9" />
<line x1="262.75" y1="611.20" x2="262.75" y2="609.00" stroke="#444" stroke-width="0.8" />
<line x1="290.42" y1="611.20" x2="290.42" y2="614.20" stroke="#444" stroke-width="0.9" />
<line x1="69.10" y1="527.50" x2="69.10" y2="525.20" stroke="#444" stroke-width="0.8" />
<line x1="95.14" y1="527.50" x2="95.14" y2="525.20" stroke="#444" stroke-width="0.8" />
<line x1="121.18" y1="527.50" x2="121.18" y2="525.20" stroke="#444" stroke-width="0.8" />
<line x1="147.22" y1="527.50" x2="147.22" y2="525.20" stroke="#444" stroke-width="0.8" />
<line x1="173.26" y1="527.50" x2="173.26" y2="525.20" stroke="#444" stroke-width="0.8" />
<line x1="199.30" y1="527.50" x2="199.30" y2="525.20" stroke="#444" stroke-width="0.8" />
<line x1="225.34" y1="527.50" x2="225.34" y2="525.20" stroke="#444" stroke-width="0.8" />
<line x1="251.38" y1="527.50" x2="251.38" y2="525.20" stroke="#444" stroke-width="0.8" />
<line x1="277.42" y1="527.50" x2="277.42" y2="525.20" stroke="#444" stroke-width="0.8" />
<text x="50.13" y="452.80" font-size="10.20" fill="#111" >0.8</text>
<text x="50.13" y="536.94" font-size="10.20" fill="#111" >0.8</text>
<text x="50.18" y="464.80" font-size="10.20" fill="#111" >0.6</text>
<text x="50.18" y="548.98" font-size="10.20" fill="#111" >0.6</text>
<text x="49.87" y="476.80" font-size="10.20" fill="#111" >0.4</text>
<text x="49.87" y="561.02" font-size="10.20" fill="#111" >0.4</text>
<text x="50.22" y="488.80" font-size="10.20" fill="#111" >0.2</text>
<text x="50.22" y="573.06" font-size="10.20" fill="#111" >0.2</text>
<text x="50.23" y="500.80" font-size="10.20" fill="#111" >0.0</text>
<text x="50.23" y="585.10" font-size="10.20" fill="#111" >0.0</text>
<text x="44.26" y="512.80" font-size="10.20" fill="#111" >−0.2</text>
<text x="44.26" y="597.14" font-size="10.20" fill="#111" >−0.2</text>
<text x="43.92" y="524.80" font-size="10.20" fill="#111" >−0.4</text>
<text x="43.92" y="609.18" font-size="10.20" fill="#111" >−0.4</text>
<text x="66.24" y="625.50" font-size="10.30" fill="#111" >0</text>
<text x="115.73" y="625.50" font-size="10.30" fill="#111" >100</text>
<text x="171.20" y="625.50" font-size="10.30" fill="#111" >200</text>
<text x="226.59" y="625.50" font-size="10.30" fill="#111" >300</text>
<text x="281.96" y="625.50" font-size="10.30" fill="#111" >400</text>
<text x="156.16" y="641.50" font-size="12.70" fill="#111" >Time (s)</text>
<text x="0" y="0" font-size="13.26" fill="#111" transform="translate(37.30,605.98) rotate(-90)">Voltage signal value (mV)</text>
<text x="107.22" y="522.60" font-size="13.18" fill="#111" >Vibration load</text>
<text x="107.22" y="605.60" font-size="13.18" fill="#111" >Vibration load</text>
<line x1="244.70" y1="518.30" x2="264.10" y2="518.30" stroke="#2a46f5" stroke-width="1" />
<text x="265.41" y="521.30" font-size="7.36" fill="#111" >Position.1</text>
<line x1="244.70" y1="602.20" x2="264.10" y2="602.20" stroke="#8cc88c" stroke-width="1" />
<text x="265.41" y="605.10" font-size="7.38" fill="#111" >Position.2</text>
<line x1="379.20" y1="477.50" x2="612.10" y2="477.50" stroke="#c4c4c4" stroke-width="0.7" stroke-dasharray="2,2"/>
<line x1="379.20" y1="497.40" x2="612.10" y2="497.40" stroke="#a0a0a0" stroke-width="0.7" stroke-dasharray="2,2"/>
<line x1="379.20" y1="572.40" x2="612.10" y2="572.40" stroke="#808080" stroke-width="0.7" stroke-dasharray="2,1.6"/>
<g fill="#f44444"><circle cx="394.4" cy="481.5" r="2.15"/><circle cx="396.6" cy="483.6" r="2.15"/><circle cx="398.6" cy="484.6" r="2.15"/><circle cx="400.4" cy="484.7" r="2.15"/><circle cx="402.9" cy="485.7" r="2.15"/><circle cx="405.4" cy="484.5" r="2.15"/><circle cx="408.0" cy="484.5" r="2.15"/><circle cx="410.2" cy="484.8" r="2.15"/><circle cx="412.0" cy="485.4" r="2.15"/><circle cx="413.5" cy="486.4" r="2.15"/><circle cx="416.6" cy="488.0" r="2.15"/><circle cx="417.3" cy="486.1" r="2.15"/><circle cx="419.1" cy="484.8" r="2.15"/><circle cx="420.3" cy="483.8" r="2.15"/><circle cx="422.5" cy="484.5" r="2.15"/><circle cx="423.8" cy="486.1" r="2.15"/><circle cx="426.4" cy="487.5" r="2.15"/><circle cx="429.0" cy="487.2" r="2.15"/><circle cx="431.5" cy="486.0" r="2.15"/><circle cx="433.4" cy="486.0" r="2.15"/><circle cx="435.7" cy="485.2" r="2.15"/><circle cx="435.8" cy="487.9" r="2.15"/><circle cx="436.8" cy="489.5" r="2.15"/><circle cx="437.1" cy="492.0" r="2.15"/><circle cx="438.4" cy="490.1" r="2.15"/><circle cx="440.1" cy="488.6" r="2.15"/><circle cx="442.3" cy="487.3" r="2.15"/><circle cx="443.7" cy="485.6" r="2.15"/><circle cx="445.4" cy="484.2" r="2.15"/><circle cx="448.4" cy="483.9" r="2.15"/><circle cx="450.8" cy="483.1" r="2.15"/><circle cx="452.7" cy="482.0" r="2.15"/><circle cx="455.8" cy="482.7" r="2.15"/><circle cx="458.5" cy="484.0" r="2.15"/><circle cx="460.6" cy="484.5" r="2.15"/><circle cx="463.6" cy="485.2" r="2.15"/><circle cx="465.4" cy="485.7" r="2.15"/><circle cx="467.5" cy="486.8" r="2.15"/><circle cx="470.6" cy="488.5" r="2.15"/><circle cx="472.4" cy="490.2" r="2.15"/><circle cx="475.2" cy="491.2" r="2.15"/><circle cx="477.7" cy="492.3" r="2.15"/><circle cx="479.7" cy="494.0" r="2.15"/><circle cx="482.1" cy="495.8" r="2.15"/><circle cx="483.7" cy="494.1" r="2.15"/><circle cx="486.1" cy="493.3" r="2.15"/><circle cx="487.9" cy="492.0" r="2.15"/><circle cx="489.5" cy="489.7" r="2.15"/><circle cx="492.3" cy="488.1" r="2.15"/><circle cx="495.1" cy="487.3" r="2.15"/><circle cx="498.1" cy="486.0" r="2.15"/><circle cx="500.5" cy="485.7" r="2.15"/><circle cx="503.2" cy="485.1" r="2.15"/><circle cx="505.5" cy="484.7" r="2.15"/><circle cx="507.7" cy="483.9" r="2.15"/><circle cx="510.4" cy="485.5" r="2.15"/><circle cx="512.5" cy="486.5" r="2.15"/><circle cx="515.3" cy="487.5" r="2.15"/><circle cx="517.0" cy="486.4" r="2.15"/><circle cx="518.1" cy="485.0" r="2.15"/><circle cx="520.8" cy="484.8" r="2.15"/><circle cx="523.4" cy="484.2" r="2.15"/><circle cx="525.5" cy="484.2" r="2.15"/><circle cx="528.0" cy="484.5" r="2.15"/><circle cx="530.0" cy="484.4" r="2.15"/><circle cx="532.2" cy="487.0" r="2.15"/><circle cx="533.5" cy="489.3" r="2.15"/><circle cx="535.6" cy="488.9" r="2.15"/><circle cx="538.2" cy="488.4" r="2.15"/><circle cx="540.9" cy="489.1" r="2.15"/><circle cx="543.7" cy="489.1" r="2.15"/><circle cx="544.2" cy="486.8" r="2.15"/><circle cx="544.5" cy="484.1" r="2.15"/><circle cx="545.6" cy="482.2" r="2.15"/><circle cx="547.9" cy="480.8" r="2.15"/><circle cx="549.7" cy="479.2" r="2.15"/><circle cx="551.7" cy="481.6" r="2.15"/><circle cx="553.7" cy="483.9" r="2.15"/><circle cx="555.9" cy="481.7" r="2.15"/><circle cx="558.1" cy="482.2" r="2.15"/><circle cx="560.9" cy="481.8" r="2.15"/><circle cx="563.0" cy="481.9" r="2.15"/><circle cx="566.3" cy="481.7" r="2.15"/><circle cx="568.4" cy="481.9" r="2.15"/><circle cx="571.7" cy="486.0" r="2.15"/><circle cx="577.6" cy="485.7" r="2.15"/><circle cx="579.3" cy="486.7" r="2.15"/><circle cx="580.7" cy="488.0" r="2.15"/><circle cx="583.7" cy="485.9" r="2.15"/><circle cx="585.7" cy="486.0" r="2.15"/><circle cx="588.1" cy="486.8" r="2.15"/><circle cx="589.8" cy="487.3" r="2.15"/></g>
<g fill="#565656"><rect x="392.9" y="593.8" width="3.8" height="3.8"/><rect x="393.5" y="585.2" width="3.8" height="3.8"/><rect x="395.9" y="584.8" width="3.8" height="3.8"/><rect x="398.9" y="583.8" width="3.8" height="3.8"/><rect x="400.5" y="581.9" width="3.8" height="3.8"/><rect x="402.6" y="581.3" width="3.8" height="3.8"/><rect x="406.8" y="580.8" width="3.8" height="3.8"/><rect x="407.9" y="584.3" width="3.8" height="3.8"/><rect x="409.3" y="587.6" width="3.8" height="3.8"/><rect x="411.0" y="591.1" width="3.8" height="3.8"/><rect x="410.9" y="594.6" width="3.8" height="3.8"/><rect x="413.3" y="597.0" width="3.8" height="3.8"/><rect x="414.1" y="592.8" width="3.8" height="3.8"/><rect x="416.0" y="590.2" width="3.8" height="3.8"/><rect x="416.5" y="587.4" width="3.8" height="3.8"/><rect x="417.4" y="584.8" width="3.8" height="3.8"/><rect x="419.2" y="588.1" width="3.8" height="3.8"/><rect x="419.8" y="590.2" width="3.8" height="3.8"/><rect x="421.3" y="588.4" width="3.8" height="3.8"/><rect x="422.9" y="586.6" width="3.8" height="3.8"/><rect x="427.3" y="584.3" width="3.8" height="3.8"/><rect x="429.3" y="582.8" width="3.8" height="3.8"/><rect x="432.5" y="584.7" width="3.8" height="3.8"/><rect x="434.0" y="581.1" width="3.8" height="3.8"/><rect x="434.8" y="579.8" width="3.8" height="3.8"/><rect x="434.3" y="575.6" width="3.8" height="3.8"/><rect x="435.5" y="571.7" width="3.8" height="3.8"/><rect x="436.1" y="575.1" width="3.8" height="3.8"/><rect x="437.5" y="577.3" width="3.8" height="3.8"/><rect x="440.3" y="580.2" width="3.8" height="3.8"/><rect x="441.4" y="583.2" width="3.8" height="3.8"/><rect x="442.2" y="586.3" width="3.8" height="3.8"/><rect x="444.1" y="589.9" width="3.8" height="3.8"/><rect x="444.6" y="593.7" width="3.8" height="3.8"/><rect x="447.2" y="596.1" width="3.8" height="3.8"/><rect x="447.7" y="590.8" width="3.8" height="3.8"/><rect x="449.2" y="588.5" width="3.8" height="3.8"/><rect x="450.6" y="591.4" width="3.8" height="3.8"/><rect x="451.9" y="594.3" width="3.8" height="3.8"/><rect x="454.0" y="598.6" width="3.8" height="3.8"/><rect x="454.9" y="599.8" width="3.8" height="3.8"/><rect x="457.0" y="600.7" width="3.8" height="3.8"/><rect x="458.0" y="604.2" width="3.8" height="3.8"/><rect x="458.9" y="607.5" width="3.8" height="3.8"/><rect x="463.1" y="605.5" width="3.8" height="3.8"/><rect x="465.3" y="604.7" width="3.8" height="3.8"/><rect x="467.1" y="602.6" width="3.8" height="3.8"/><rect x="469.0" y="600.9" width="3.8" height="3.8"/><rect x="470.1" y="596.7" width="3.8" height="3.8"/><rect x="472.9" y="594.3" width="3.8" height="3.8"/><rect x="472.4" y="598.5" width="3.8" height="3.8"/><rect x="473.3" y="600.6" width="3.8" height="3.8"/><rect x="473.5" y="604.3" width="3.8" height="3.8"/><rect x="473.9" y="601.7" width="3.8" height="3.8"/><rect x="474.4" y="599.2" width="3.8" height="3.8"/><rect x="475.8" y="595.9" width="3.8" height="3.8"/><rect x="478.3" y="593.2" width="3.8" height="3.8"/><rect x="480.4" y="593.1" width="3.8" height="3.8"/><rect x="483.2" y="591.0" width="3.8" height="3.8"/><rect x="486.4" y="590.2" width="3.8" height="3.8"/><rect x="488.9" y="586.9" width="3.8" height="3.8"/><rect x="491.4" y="583.9" width="3.8" height="3.8"/><rect x="491.7" y="581.6" width="3.8" height="3.8"/><rect x="494.7" y="580.2" width="3.8" height="3.8"/><rect x="497.8" y="584.1" width="3.8" height="3.8"/><rect x="500.3" y="586.8" width="3.8" height="3.8"/><rect x="500.3" y="589.5" width="3.8" height="3.8"/><rect x="500.6" y="592.1" width="3.8" height="3.8"/><rect x="501.7" y="593.8" width="3.8" height="3.8"/><rect x="503.2" y="595.3" width="3.8" height="3.8"/><rect x="504.8" y="599.3" width="3.8" height="3.8"/><rect x="505.4" y="600.9" width="3.8" height="3.8"/><rect x="510.0" y="600.6" width="3.8" height="3.8"/><rect x="512.2" y="600.2" width="3.8" height="3.8"/><rect x="514.7" y="602.8" width="3.8" height="3.8"/><rect x="514.4" y="605.8" width="3.8" height="3.8"/><rect x="516.4" y="610.9" width="3.8" height="3.8"/><rect x="517.3" y="607.1" width="3.8" height="3.8"/><rect x="518.4" y="603.3" width="3.8" height="3.8"/><rect x="520.9" y="601.6" width="3.8" height="3.8"/><rect x="521.8" y="603.7" width="3.8" height="3.8"/><rect x="524.4" y="607.1" width="3.8" height="3.8"/><rect x="524.7" y="603.4" width="3.8" height="3.8"/><rect x="527.0" y="602.4" width="3.8" height="3.8"/><rect x="530.1" y="601.7" width="3.8" height="3.8"/><rect x="531.0" y="599.2" width="3.8" height="3.8"/><rect x="532.4" y="597.1" width="3.8" height="3.8"/><rect x="535.5" y="599.0" width="3.8" height="3.8"/><rect x="537.1" y="598.2" width="3.8" height="3.8"/><rect x="539.3" y="596.2" width="3.8" height="3.8"/><rect x="541.0" y="593.8" width="3.8" height="3.8"/><rect x="543.0" y="591.9" width="3.8" height="3.8"/><rect x="547.4" y="590.4" width="3.8" height="3.8"/><rect x="550.5" y="586.2" width="3.8" height="3.8"/><rect x="550.6" y="583.8" width="3.8" height="3.8"/><rect x="551.0" y="581.8" width="3.8" height="3.8"/><rect x="554.1" y="583.7" width="3.8" height="3.8"/><rect x="554.5" y="586.8" width="3.8" height="3.8"/><rect x="555.2" y="589.4" width="3.8" height="3.8"/><rect x="558.0" y="592.5" width="3.8" height="3.8"/><rect x="557.9" y="595.1" width="3.8" height="3.8"/><rect x="557.9" y="597.1" width="3.8" height="3.8"/><rect x="560.1" y="599.7" width="3.8" height="3.8"/><rect x="560.1" y="598.6" width="3.8" height="3.8"/><rect x="560.4" y="596.9" width="3.8" height="3.8"/><rect x="562.0" y="594.7" width="3.8" height="3.8"/><rect x="563.8" y="591.8" width="3.8" height="3.8"/><rect x="564.7" y="593.8" width="3.8" height="3.8"/><rect x="565.1" y="598.0" width="3.8" height="3.8"/><rect x="565.7" y="600.5" width="3.8" height="3.8"/><rect x="569.2" y="580.1" width="3.8" height="3.8"/><rect x="575.5" y="578.3" width="3.8" height="3.8"/><rect x="577.1" y="579.6" width="3.8" height="3.8"/><rect x="578.1" y="580.9" width="3.8" height="3.8"/><rect x="580.8" y="582.7" width="3.8" height="3.8"/><rect x="582.6" y="589.8" width="3.8" height="3.8"/><rect x="585.3" y="580.1" width="3.8" height="3.8"/><rect x="587.9" y="582.4" width="3.8" height="3.8"/></g>
<rect x="379.2" y="441.5" width="232.9" height="179.7" fill="none" stroke="#555" stroke-width="1"/>
<line x1="379.20" y1="441.50" x2="612.10" y2="441.50" stroke="#555" stroke-width="1.2" />
<line x1="376.40" y1="621.20" x2="379.20" y2="621.20" stroke="#444" stroke-width="0.9" />
<line x1="377.40" y1="603.20" x2="379.20" y2="603.20" stroke="#444" stroke-width="0.8" />
<line x1="376.40" y1="585.20" x2="379.20" y2="585.20" stroke="#444" stroke-width="0.9" />
<line x1="377.40" y1="567.20" x2="379.20" y2="567.20" stroke="#444" stroke-width="0.8" />
<line x1="376.40" y1="549.20" x2="379.20" y2="549.20" stroke="#444" stroke-width="0.9" />
<line x1="377.40" y1="531.20" x2="379.20" y2="531.20" stroke="#444" stroke-width="0.8" />
<line x1="376.40" y1="513.20" x2="379.20" y2="513.20" stroke="#444" stroke-width="0.9" />
<line x1="377.40" y1="495.20" x2="379.20" y2="495.20" stroke="#444" stroke-width="0.8" />
<line x1="376.40" y1="477.20" x2="379.20" y2="477.20" stroke="#444" stroke-width="0.9" />
<line x1="377.40" y1="459.20" x2="379.20" y2="459.20" stroke="#444" stroke-width="0.8" />
<line x1="376.40" y1="441.20" x2="379.20" y2="441.20" stroke="#444" stroke-width="0.9" />
<text x="352.30" y="625.40" font-size="11.80" fill="#111" >18.2</text>
<text x="351.90" y="589.40" font-size="11.80" fill="#111" >18.4</text>
<text x="352.25" y="553.40" font-size="11.80" fill="#111" >18.6</text>
<text x="352.19" y="517.40" font-size="11.80" fill="#111" >18.8</text>
<text x="352.31" y="481.40" font-size="11.80" fill="#111" >19.0</text>
<text x="352.30" y="445.40" font-size="11.80" fill="#111" >19.2</text>
<text x="0" y="0" font-size="13.11" fill="#111" transform="translate(344.90,609.18) rotate(-90)">Voltage signal value (mV)</text>
<circle cx="453.8" cy="457.4" r="2.6" fill="#f00"/>
<text x="467.23" y="461.50" font-size="13.18" fill="#111" >Before experiment</text>
<rect x="452.7" y="556.1" width="4.3" height="4.3" fill="#555"/>
<text x="464.89" y="562.80" font-size="13.11" fill="#111" >After experiment</text>
<text x="445.39" y="637.50" font-size="13.12" fill="#111" >129°C~130°C</text>
</svg></body></html>
